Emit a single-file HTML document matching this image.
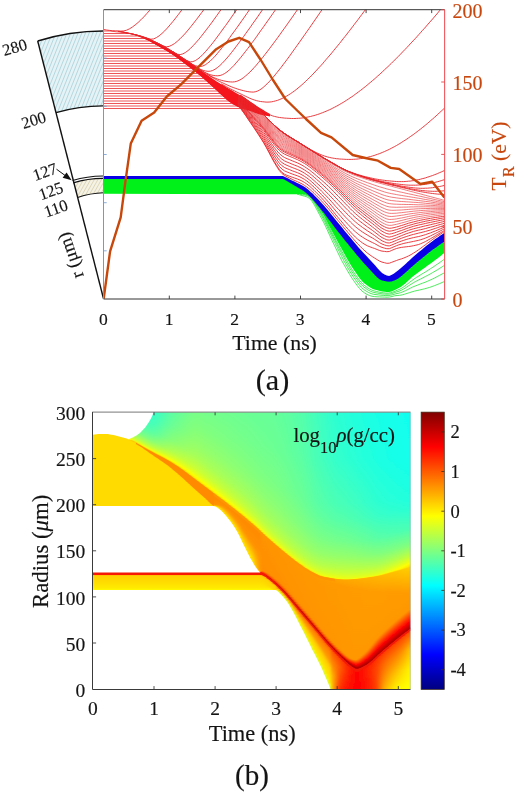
<!DOCTYPE html>
<html lang="en"><head><meta charset="utf-8"><title>Figure</title>
<style>
html,body{margin:0;padding:0;background:#fff}
body{width:520px;height:793px;overflow:hidden}
svg{display:block;font-family:"Liberation Serif","Times New Roman",serif}
text{stroke-width:0.16px}
</style></head><body>
<svg width="520" height="793" viewBox="0 0 520 793">
<rect width="520" height="793" fill="#fff"/>
<g id="panel-a">
<clipPath id="cw1"><path d="M37.7 41A218 218 0 0 1 103.6 31L103.6 105.9A166 166 0 0 0 56 112.7Z"/></clipPath>
<path d="M37.7 41A218 218 0 0 1 103.6 31L103.6 105.9A166 166 0 0 0 56 112.7Z" fill="#e6f3f6"/>
<path d="M-27 120L13 20M-23.3 120L16.7 20M-19.6 120L20.4 20M-15.9 120L24.1 20M-12.2 120L27.8 20M-8.5 120L31.5 20M-4.8 120L35.2 20M-1.1 120L38.9 20M2.6 120L42.6 20M6.3 120L46.3 20M10 120L50 20M13.7 120L53.7 20M17.4 120L57.4 20M21.1 120L61.1 20M24.8 120L64.8 20M28.5 120L68.5 20M32.2 120L72.2 20M35.9 120L75.9 20M39.6 120L79.6 20M43.3 120L83.3 20M47 120L87 20M50.7 120L90.7 20M54.4 120L94.4 20M58.1 120L98.1 20M61.8 120L101.8 20M65.5 120L105.5 20M69.2 120L109.2 20M72.9 120L112.9 20M76.6 120L116.6 20M80.3 120L120.3 20M84 120L124 20M87.7 120L127.7 20M91.4 120L131.4 20M95.1 120L135.1 20M98.8 120L138.8 20M102.5 120L142.5 20M106.2 120L146.2 20M109.9 120L149.9 20M113.6 120L153.6 20M117.3 120L157.3 20M121 120L161 20M124.7 120L164.7 20M128.4 120L168.4 20M132.1 120L172.1 20M135.8 120L175.8 20M139.5 120L179.5 20M143.2 120L183.2 20M146.9 120L186.9 20M150.6 120L190.6 20M154.3 120L194.3 20M158 120L198 20M161.7 120L201.7 20M165.4 120L205.4 20M169.1 120L209.1 20M172.8 120L212.8 20M176.5 120L216.5 20M180.2 120L220.2 20M183.9 120L223.9 20M187.6 120L227.6 20M191.3 120L231.3 20" stroke="#9ccbd4" stroke-width="0.7" fill="none" clip-path="url(#cw1)"/>
<path d="M37.7 41A218 218 0 0 1 103.6 31M56 112.7A166 166 0 0 1 103.6 105.9" fill="none" stroke="#111" stroke-width="1.4"/>
<clipPath id="cw2"><path d="M73.2 182.9A100 100 0 0 1 103.6 178.4L103.6 192.8A85 85 0 0 0 77.6 197.6Z"/></clipPath>
<path d="M73.2 182.9A100 100 0 0 1 103.6 178.4L103.6 192.8A85 85 0 0 0 77.6 197.6Z" fill="#f5f3e6"/>
<path d="M60 202L77 172M63.6 202L80.6 172M67.2 202L84.2 172M70.8 202L87.8 172M74.4 202L91.4 172M78 202L95 172M81.6 202L98.6 172M85.2 202L102.2 172M88.8 202L105.8 172M92.4 202L109.4 172M96 202L113 172M99.6 202L116.6 172M103.2 202L120.2 172M106.8 202L123.8 172M110.4 202L127.4 172M114 202L131 172" stroke="#d4c9a2" stroke-width="0.7" fill="none" clip-path="url(#cw2)"/>
<path d="M72.6 180.6A101 101 0 0 1 103.6 176" fill="none" stroke="#111" stroke-width="1.1"/>
<path d="M73.2 182.9A100 100 0 0 1 103.6 178.4" fill="none" stroke="#111" stroke-width="1.1"/>
<path d="M77.6 197.6A85 85 0 0 1 103.6 192.8" fill="none" stroke="#111" stroke-width="1.1"/>
<path d="M103.6 299L37.7 41" stroke="#111" stroke-width="1.4" fill="none"/>
<path d="M56.5 169.2L68 177.6" stroke="#111" stroke-width="1" fill="none"/>
<path d="M71.6 180.2L62.6 177.8L66.6 172.4Z" fill="#111"/>
<clipPath id="ca"><rect x="103.7" y="9.7" width="341.3" height="289.3"/></clipPath>
<g clip-path="url(#ca)">
<path d="M103.7 31H110L116.4 31.8 122.8 32.2 129.1 33.4 135.5 34.8 141.9 36.9 148.3 39.4 154.7 42.5 161 45.8 167.4 49.3 173.8 53.1 180.2 57.2 186.6 61.5 193 65.9 199.3 70.4 205.7 75 212.1 79.6 218.5 83.9 224.9 87.8 231.2 91.5 237.6 95.2 244 98.7M103.7 33.5H130.8L137.5 35.6 144.1 38 150.8 41 157.4 44.4 164.1 47.9 170.8 51.7 177.4 55.8 184.1 60.3 190.7 64.9 197.4 69.5 204.1 74.3 210.7 79.2 217.4 83.7 224 87.9 230.7 91.9 237.3 95.6 244 99.1M103.7 36H138.4L145 38.5 151.6 41.6 158.2 45 164.8 48.5 171.4 52.3 178 56.5 184.6 60.9 191.2 65.4 197.8 70.1 204.4 74.8 211 79.6 217.6 84.2 224.2 88.4 230.8 92.2 237.4 95.9 244 99.3M103.7 38.5H144.9L151.5 41.7 158.1 45.2 164.7 48.6 171.3 52.4 177.9 56.6 184.5 61.1 191.1 65.6 197.7 70.2 204.3 75 211 79.9 217.6 84.4 224.2 88.6 230.8 92.5 237.4 96.2 244 99.5M103.7 41H149.8L156.5 44.6 163.3 48.1 170 51.8 176.7 56 183.5 60.5 190.2 65.1 196.9 69.8 203.6 74.7 210.4 79.6 217.1 84.3 223.8 88.7 230.5 92.7 237.3 96.3 244 99.7M103.7 43.5H154.3L161.2 47.1 168.1 50.9 175 55 181.9 59.6 188.8 64.4 195.7 69.2 202.6 74.1 209.5 79.2 216.4 84.1 223.3 88.6 230.2 92.7 237.1 96.5 244 99.9M103.7 46H158.7L165.3 49.5 171.9 53.3 178.4 57.5 185 62 191.5 66.4 198.1 71.1 204.6 75.8 211.2 80.7 217.8 85.3 224.3 89.5 230.9 93.4 237.4 96.9 244 100.1M103.7 48.5H163L169.8 52.2 176.5 56.4 183.3 61 190 65.6 196.8 70.3 203.5 75.2 210.3 80.2 217 85 223.8 89.5 230.5 93.5 237.3 97 244 100.2M103.7 51H167.3L174.3 55.2 181.3 59.8 188.2 64.6 195.2 69.5 202.2 74.4 209.1 79.7 216.1 84.7 223.1 89.4 230.1 93.5 237 97.2 244 100.4M103.7 53.5H171.3L177.9 57.8 184.5 62.3 191.1 66.8 197.7 71.5 204.3 76.3 211 81.3 217.6 85.9 224.2 90.3 230.8 94.2 237.4 97.6 244 100.6M103.7 56H175.1L182 60.8 188.9 65.5 195.8 70.3 202.7 75.3 209.5 80.5 216.4 85.5 223.3 90.1 230.2 94.2 237.1 97.8 244 100.8M103.7 58.5H178.4L185.7 63.6 193 68.6 200.3 73.7 207.6 79.2 214.8 84.6 222.1 89.6 229.4 94.1 236.7 97.8 244 101M103.7 61H181.7L188.6 65.8 195.5 70.6 202.5 75.6 209.4 80.8 216.3 85.9 223.2 90.7 230.2 94.8 237.1 98.3 244 101.2M103.7 63.5H185L192.4 68.6 199.8 73.9 207.1 79.4 214.5 84.9 221.9 90.1 229.3 94.7 236.6 98.4 244 101.4M103.7 66H188.3L195.3 70.9 202.2 75.9 209.2 81.2 216.2 86.4 223.1 91.3 230.1 95.5 237 98.9 244 101.7M103.7 68.5H191.4L199 73.8 206.5 79.4 214 85.1 221.5 90.5 229 95.2 236.5 99 244 101.9M103.7 71H194.8L201.8 76.2 208.8 81.6 215.9 86.8 222.9 91.9 229.9 96.1 237 99.5 244 102.2M103.7 73.5H197.9L205.6 79.4 213.3 85.3 220.9 90.9 228.6 95.8 236.3 99.6 244 102.4M103.7 76H200.9L208.1 81.6 215.2 87.1 222.4 92.3 229.6 96.8 236.8 100.2 244 102.7M103.7 78.5H203.7L211.7 84.8 219.8 90.8 227.9 96.2 235.9 100.2 244 102.9M103.7 81H206.5L214 86.9 221.5 92.4 229 97.3 236.5 100.8 244 103.2M103.7 83.5H209.3L218 90.2 226.6 96.4 235.3 100.7 244 103.5M103.7 86H211.9L219.9 92.1 228 97.6 236 101.4 244 103.8M103.7 88.5H214.7L224.5 95.9 234.2 101.1 244 104.1M103.7 91H217.4L226.3 97.6 235.1 101.9 244 104.4M103.7 93.5H220L232 101.1 244 104.7M103.7 96H222.7L233.3 102.2 244 105.1M103.7 98.5H225.3L234.7 103.2 244 105.4M103.7 101H228.3L236.1 104.3 244 105.8M103.7 103.5H231.8L237.9 105.6 244 106.4M103.7 106H236.1L240 106.9 244 107.1M103.7 108.5H242" fill="none" stroke="#e8282c" stroke-width="0.8" stroke-linejoin="round"/>
<path d="M118 31.2 120.2 31.4 122.4 31.7 124.6 32.1 126.8 32.6 129 33 131.2 33.5 133.4 34 135.6 34.5 137.8 35.1 140 35.7 142.2 36.4 144.4 37.1 146.6 37.9 148.8 38.8 151 39.8 153.2 40.8 155.4 41.9 157.7 43 159.9 44.1 162.1 45.3 164.3 46.5 166.5 47.7 168.7 49 170.9 50.3 173.1 51.6 175.3 53 177.5 54.4 179.7 55.9 181.9 57.3 184.1 58.8 186.3 60.3 188.5 61.8 190.7 63.3 192.9 64.8 195.1 66.4 197.3 67.9 199.5 69.5 201.7 71 203.9 72.6 206.1 74.1 208.3 75.7 210.5 77.3 212.7 78.8 214.9 80.3 217.1 81.7 219.3 83 221.5 84.4 223.7 85.6 225.9 86.9 228.1 88.2 230.3 89.5 232.6 90.8 234.8 92.2 237 93.5 239.2 94.8 241.4 96.2 243.6 97.5 245.8 98.9 248 100.3 250.2 101.7 252.4 103.1 254.6 104.6 256.8 106 259 107.4 261.2 108.7 263.4 110.1 265.6 111.4 267.8 112.8 270 114.1 270 116.4 267.8 116.1 265.6 115.7 263.4 115.3 261.2 114.8 259 114.2 256.8 113.5 254.6 112.7 252.4 111.8 250.2 111.1 248 110.4 245.8 109.7 243.6 109 241.4 108.3 239.2 107.4 237 106.5 234.8 105.3 232.6 104 230.3 102.6 228.1 101 225.9 99.1 223.7 97.1 221.5 95 219.3 92.9 217.1 90.8 214.9 88.8 212.7 86.8 210.5 84.7 208.3 82.7 206.1 80.7 203.9 78.7 201.7 76.8 199.5 75 197.3 73.1 195.1 71.4 192.9 69.6 190.7 67.9 188.5 66.2 186.3 64.5 184.1 62.8 181.9 61.2 179.7 59.5 177.5 57.8 175.3 56.2 173.1 54.7 170.9 53.3 168.7 51.9 166.5 50.5 164.3 49.2 162.1 48 159.9 46.7 157.7 45.5 155.4 44.2 153.2 42.9 151 41.7 148.8 40.5 146.6 39.4 144.4 38.4 142.2 37.5 140 36.6 137.8 35.8 135.6 35.1 133.4 34.6 131.2 34.1 129 33.6 126.8 33.2 124.6 32.7 122.4 32.3 120.2 32.1 118 32Z" fill="#f5141c"/>
<path d="M103.7 29.5 106.6 30 109.4 30.4 112.3 30.7 115.2 30.8 118 30.9 120.9 31.1 123.8 30.9 126.6 30.2 129.5 28.8 132.3 27.1 135.2 24.9 138.1 22.5 140.9 19.8 143.8 16.9 146.7 13.7 149.5 10.5 150.2 9.7M118 31.4 120.7 31.7 123.5 32.2 126.2 32.7 129 33.3 131.7 33.9 134.5 34.5 137.2 35.2 140 36 142.7 36.8 145.4 37.6 148.2 38.5 150.9 39.2 153.7 38.9 156.4 37.6 159.2 35.8 161.9 33.5 164.7 30.9 167.4 28 170.1 24.8 172.9 21.5 175.6 18.1 178.4 14.5 181.1 10.9 182 9.7M120 31.6 122.7 32 125.5 32.6 128.2 33.2 130.9 33.7 133.6 34.3 136.4 35 139.1 35.7 141.8 36.5 144.5 37.4 147.3 38.5 150 39.6 152.7 40.9 155.5 42.2 158.2 43.5 160.9 44.9 163.6 46.1 166.4 46.8 169.1 46.4 171.8 45.2 174.6 43.5 177.3 41.3 180 38.8 182.7 36.1 185.5 33.1 188.2 29.9 190.9 26.6 193.6 23.2 196.4 19.6 199.1 16 201.8 12.4 203.8 9.7M133 34.2 135.6 34.8 138.2 35.5 140.9 36.2 143.5 37.1 146.1 38 148.7 39.1 151.3 40.2 153.9 41.5 156.6 42.7 159.2 44 161.8 45.4 164.4 46.9 167 48.4 169.7 49.9 172.3 51.5 174.9 53 177.5 54.3 180.1 54.6 182.8 53.9 185.4 52.5 188 50.6 190.6 48.3 193.2 45.6 195.8 42.8 198.5 39.7 201.1 36.5 203.7 33.2 206.3 29.8 208.9 26.4 211.6 22.8 214.2 19.2 216.8 15.6 219.4 11.9 221 9.7M145 37.6 147.5 38.6 150 39.6 152.6 40.8 155.1 42 157.6 43.2 160.1 44.5 162.6 45.9 165.1 47.3 167.7 48.7 170.2 50.2 172.7 51.7 175.2 53.3 177.7 54.9 180.2 56.5 182.8 58.2 185.3 59.7 187.8 61 190.3 61.8 192.8 61.6 195.4 60.6 197.9 58.9 200.4 56.9 202.9 54.4 205.4 51.7 207.9 48.8 210.5 45.7 213 42.6 215.5 39.3 218 35.9 220.5 32.5 223 29 225.6 25.5 228.1 22 230.6 18.4 233.1 14.8 235.6 11.2 236.7 9.7M154 41.5 156.4 42.7 158.9 43.9 161.3 45.2 163.8 46.5 166.2 47.9 168.7 49.3 171.1 50.8 173.5 52.2 176 53.8 178.4 55.3 180.9 56.9 183.3 58.5 185.7 60.1 188.2 61.7 190.6 63.3 193.1 64.7 195.5 65.7 198 66.4 200.4 66.5 202.8 66 205.3 64.8 207.7 63.1 210.2 61.1 212.6 58.7 215.1 56.1 217.5 53.3 219.9 50.3 222.4 47.3 224.8 44.1 227.3 40.9 229.7 37.6 232.1 34.2 234.6 30.9 237 27.5 239.5 24 241.9 20.6 244.4 17.1 246.8 13.6 249.2 10.1 249.5 9.7M163 46.1 165.4 47.4 167.7 48.8 170.1 50.2 172.5 51.6 174.8 53 177.2 54.5 179.6 56.1 181.9 57.6 184.3 59.2 186.7 60.8 189 62.3 191.4 63.9 193.8 65.5 196.1 67 198.5 68.3 200.9 69.5 203.2 70.4 205.6 71 208 71.3 210.3 71.2 212.7 70.5 215.1 69.2 217.4 67.6 219.8 65.6 222.2 63.3 224.5 60.8 226.9 58.1 229.3 55.3 231.6 52.4 234 49.3 236.4 46.2 238.7 43.1 241.1 39.9 243.5 36.7 245.8 33.4 248.2 30.1 250.6 26.8 252.9 23.4 255.3 20.1 257.7 16.7 260 13.3 262.4 9.9 262.5 9.7M172 51.3 174.3 52.7 176.6 54.1 178.9 55.6 181.2 57.1 183.5 58.6 185.7 60.1 188 61.7 190.3 63.2 192.6 64.8 194.9 66.3 197.2 67.8 199.5 69.3 201.8 70.7 204.1 72 206.4 73.1 208.7 74.1 210.9 74.9 213.2 75.4 215.5 75.7 217.8 75.8 220.1 75.5 222.4 74.7 224.7 73.5 227 71.9 229.3 70 231.6 67.8 233.9 65.5 236.1 62.9 238.4 60.3 240.7 57.5 243 54.6 245.3 51.7 247.6 48.7 249.9 45.7 252.2 42.6 254.5 39.5 256.8 36.3 259 33.1 261.3 29.9 263.6 26.7 265.9 23.4 268.2 20.2 270.5 16.9 272.8 13.6 275.1 10.3 275.5 9.7M187 60.9 189.2 62.3 191.3 63.8 193.5 65.3 195.7 66.7 197.8 68.2 200 69.6 202.2 70.9 204.3 72.3 206.5 73.6 208.6 74.9 210.8 76.1 213 77.2 215.1 78.1 217.3 79 219.5 79.7 221.6 80.4 223.8 80.9 226 81.3 228.1 81.7 230.3 81.9 232.5 82 234.6 81.8 236.8 81.3 239 80.4 241.1 79.3 243.3 77.8 245.4 76.1 247.6 74.2 249.8 72.2 251.9 70 254.1 67.6 256.3 65.2 258.4 62.6 260.6 60 262.8 57.3 264.9 54.6 267.1 51.8 269.3 48.9 271.4 46.1 273.6 43.2 275.8 40.2 277.9 37.3 280.1 34.3 282.2 31.3 284.4 28.3 286.6 25.2 288.7 22.2 290.9 19.1 293.1 16 295.2 12.9 297.4 9.8 297.5 9.7M207.3 74.4 209.3 75.6 211.3 76.9 213.3 78.1 215.3 79.2 217.3 80.3 219.3 81.3 221.3 82.3 223.3 83.2 225.2 84.1 227.2 85 229.2 85.9 231.2 86.7 233.2 87.5 235.2 88.2 237.2 88.9 239.2 89.5 241.2 90.1 243.2 90.6 245.2 91.1 247.2 91.5 249.2 91.8 251.2 92 253.2 92.1 255.2 91.8 257.2 91.2 259.1 90.3 261.1 89 263.1 87.5 265.1 85.7 267.1 83.8 269.1 81.8 271.1 79.6 273.1 77.3 275.1 74.9 277.1 72.4 279.1 69.9 281.1 67.4 283.1 64.7 285.1 62.1 287.1 59.4 289.1 56.7 291.1 53.9 293 51.2 295 48.4 297 45.6 299 42.8 301 40 303 37.1 305 34.3 307 31.4 309 28.6 311 25.7 313 22.8 315 19.9 317 17 319 14.1 321 11.2 322 9.7M221 83.8 222.9 84.8 224.8 85.8 226.6 86.8 228.5 87.8 230.4 88.8 232.3 89.8 234.2 90.7 236 91.7 237.9 92.6 239.8 93.5 241.7 94.4 243.5 95.3 245.4 96.2 247.3 97.1 249.2 98 251.1 98.8 252.9 99.5 254.8 100.1 256.7 100.7 258.6 101.1 260.5 101.5 262.3 101.7 264.2 101.9 266.1 102.1 268 102.1 269.9 102 271.7 101.8 273.6 101.4 275.5 100.9 277.4 100.4 279.2 99.7 281.1 98.9 283 98 284.9 97.1 286.8 96 288.6 94.9 290.5 93.7 292.4 92.4 294.3 91 296.2 89.6 298 88.1 299.9 86.5 301.8 84.9 303.7 83.2 305.6 81.4 307.4 79.6 309.3 77.8 311.2 75.9 313.1 74 314.9 72 316.8 70 318.7 67.9 320.6 65.9 322.5 63.8 324.3 61.6 326.2 59.4 328.1 57.2 330 55 331.9 52.8 333.7 50.5 335.6 48.2 337.5 45.9 339.4 43.6 341.3 41.2 343.1 38.8 345 36.5 346.9 34.1 348.8 31.6 350.7 29.2 352.5 26.8 354.4 24.3 356.3 21.8 358.2 19.4 360 16.9 361.9 14.4 363.8 11.8 365.4 9.7M240 95.1 241.7 96.1 243.4 97.2 245.2 98.4 246.9 99.6 248.6 100.8 250.3 102.1 252 103.3 253.8 104.6 255.5 105.9 257.2 107.1 258.9 108.3 260.6 109.5 262.4 110.6 264.1 111.7 265.8 112.7 267.5 113.6 269.2 114.5 270.9 115.2 272.7 115.9 274.4 116.4 276.1 116.8 277.8 117.2 279.5 117.5 281.3 117.7 283 117.9 284.7 118.1 286.4 118.2 288.1 118.3 289.9 118.4 291.6 118.5 293.3 118.5 295 118.5 296.7 118.4 298.5 118.3 300.2 118.2 301.9 118 303.6 117.8 305.3 117.5 307.1 117.2 308.8 116.8 310.5 116.5 312.2 116 313.9 115.6 315.7 115.1 317.4 114.5 319.1 114 320.8 113.3 322.5 112.7 324.2 112 326 111.3 327.7 110.5 329.4 109.8 331.1 109 332.8 108.1 334.6 107.2 336.3 106.3 338 105.4 339.7 104.4 341.4 103.4 343.2 102.4 344.9 101.3 346.6 100.2 348.3 99.1 350 97.9 351.8 96.8 353.5 95.6 355.2 94.3 356.9 93.1 358.6 91.8 360.4 90.5 362.1 89.2 363.8 87.8 365.5 86.5 367.2 85.1 368.9 83.6 370.7 82.2 372.4 80.7 374.1 79.3 375.8 77.8 377.5 76.2 379.3 74.7 381 73.1 382.7 71.5 384.4 69.9 386.1 68.3 387.9 66.7 389.6 65 391.3 63.4 393 61.7 394.7 60 396.5 58.2 398.2 56.5 399.9 54.8 401.6 53 403.3 51.2 405.1 49.4 406.8 47.6 408.5 45.8 410.2 43.9 411.9 42.1 413.7 40.2 415.4 38.4 417.1 36.5 418.8 34.6 420.5 32.7 422.2 30.7 424 28.8 425.7 26.9 427.4 24.9 429.1 22.9 430.8 21 432.6 19 434.3 17 436 15 437.7 13 439.4 10.9 440.5 9.7M240 95.5 241.7 96.5 243.4 97.7 245.2 98.9 246.9 100.2 248.6 101.5 250.3 102.9 252 104.3 253.8 105.8 255.5 107.3 257.2 108.8 258.9 110.3 260.6 111.9 262.4 113.5 264.1 115.1 265.8 116.8 267.5 118.6 269.2 120.3 270.9 122 272.7 123.7 274.4 125.4 276.1 127 277.8 128.5 279.5 129.9 281.3 131.2 283 132.5 284.7 133.7 286.4 134.8 288.1 136 289.9 137 291.6 138.1 293.3 139.1 295 140.2 296.7 141.2 298.5 142.2 300.2 143.3 301.9 144.4 303.6 145.4 305.3 146.5 307.1 147.5 308.8 148.5 310.5 149.5 312.2 150.4 313.9 151.4 315.7 152.3 317.4 153.1 319.1 153.9 320.8 154.6 322.5 155.3 324.2 155.9 326 156.5 327.7 157 329.4 157.4 331.1 157.8 332.8 158.1 334.6 158.4 336.3 158.7 338 158.8 339.7 159 341.4 159.1 343.2 159.2 344.9 159.3 346.6 159.4 348.3 159.4 350 159.4 351.8 159.4 353.5 159.3 355.2 159.2 356.9 159.1 358.6 158.9 360.4 158.6 362.1 158.4 363.8 158.1 365.5 157.7 367.2 157.4 368.9 156.9 370.7 156.5 372.4 156 374.1 155.5 375.8 154.9 377.5 154.3 379.3 153.7 381 153 382.7 152.3 384.4 151.6 386.1 150.8 387.9 150 389.6 149.2 391.3 148.3 393 147.4 394.7 146.5 396.5 145.5 398.2 144.5 399.9 143.5 401.6 142.4 403.3 141.3 405.1 140.2 406.8 139.1 408.5 137.9 410.2 136.7 411.9 135.5 413.7 134.3 415.4 133 417.1 131.7 418.8 130.4 420.5 129.1 422.2 127.7 424 126.3 425.7 124.9 427.4 123.5 429.1 122 430.8 120.5 432.6 119 434.3 117.5 436 116 437.7 114.4 439.4 112.8 441.2 111.2 442.9 109.6 444.6 108M240 95.5 241.7 96.5 243.4 97.7 245.2 98.9 246.9 100.2 248.6 101.5 250.3 102.9 252 104.3 253.8 105.8 255.5 107.3 257.2 108.8 258.9 110.3 260.6 111.9 262.4 113.5 264.1 115.1 265.8 116.8 267.5 118.6 269.2 120.3 270.9 122 272.7 123.7 274.4 125.4 276.1 127 277.8 128.5 279.5 129.9 281.3 131.3 283 132.5 284.7 133.7 286.4 134.9 288.1 136 289.9 137.1 291.6 138.1 293.3 139.2 295 140.2 296.7 141.3 298.5 142.3 300.2 143.4 301.9 144.5 303.6 145.6 305.3 146.7 307.1 147.8 308.8 148.8 310.5 149.9 312.2 151 313.9 152.1 315.7 153.1 317.4 154.2 319.1 155.2 320.8 156.2 322.5 157.3 324.2 158.3 326 159.3 327.7 160.2 329.4 161.2 331.1 162.2 332.8 163.2 334.6 164.2 336.3 165.2 338 166.2 339.7 167.1 341.4 168 343.2 168.9 344.9 169.7 346.6 170.5 348.3 171.2 350 171.9 351.8 172.5 353.5 173.1 355.2 173.7 356.9 174.3 358.6 174.8 360.4 175.3 362.1 175.8 363.8 176.3 365.5 176.7 367.2 177.1 368.9 177.5 370.7 177.9 372.4 178.3 374.1 178.7 375.8 179 377.5 179.3 379.3 179.6 381 179.9 382.7 180.1 384.4 180.3 386.1 180.6 387.9 180.8 389.6 180.9 391.3 181.1 393 181.2 394.7 181.4 396.5 181.5 398.2 181.6 399.9 181.6 401.6 181.6 403.3 181.6 405.1 181.5 406.8 181.4 408.5 181.2 410.2 181.1 411.9 180.8 413.7 180.6 415.4 180.3 417.1 179.9 418.8 179.6 420.5 179.2 422.2 178.7 424 178.3 425.7 177.8 427.4 177.2 429.1 176.7 430.8 176.1 432.6 175.5 434.3 174.8 436 174.2 437.7 173.5 439.4 172.7 441.2 172 442.9 171.2 444.6 170.4M240 95.5 241.7 96.5 243.4 97.7 245.2 98.9 246.9 100.2 248.6 101.5 250.3 102.9 252 104.3 253.8 105.8 255.5 107.3 257.2 108.8 258.9 110.3 260.6 111.9 262.4 113.5 264.1 115.1 265.8 116.8 267.5 118.6 269.2 120.3 270.9 122 272.7 123.7 274.4 125.4 276.1 127 277.8 128.5 279.5 129.9 281.3 131.3 283 132.5 284.7 133.7 286.4 134.9 288.1 136 289.9 137.1 291.6 138.1 293.3 139.2 295 140.2 296.7 141.3 298.5 142.3 300.2 143.4 301.9 144.5 303.6 145.6 305.3 146.7 307.1 147.8 308.8 148.8 310.5 149.9 312.2 151 313.9 152.1 315.7 153.1 317.4 154.2 319.1 155.2 320.8 156.2 322.5 157.3 324.2 158.3 326 159.3 327.7 160.3 329.4 161.3 331.1 162.3 332.8 163.3 334.6 164.3 336.3 165.3 338 166.2 339.7 167.2 341.4 168.1 343.2 169 344.9 169.8 346.6 170.6 348.3 171.4 350 172.1 351.8 172.7 353.5 173.4 355.2 174 356.9 174.6 358.6 175.2 360.4 175.8 362.1 176.3 363.8 176.8 365.5 177.3 367.2 177.8 368.9 178.3 370.7 178.7 372.4 179.2 374.1 179.6 375.8 180 377.5 180.4 379.3 180.8 381 181.2 382.7 181.5 384.4 181.9 386.1 182.2 387.9 182.5 389.6 182.8 391.3 183.1 393 183.4 394.7 183.6 396.5 183.9 398.2 184.1 399.9 184.3 401.6 184.5 403.3 184.7 405.1 184.9 406.8 185 408.5 185.1 410.2 185.2 411.9 185.2 413.7 185.2 415.4 185.2 417.1 185.1 418.8 185 420.5 184.9 422.2 184.7 424 184.5 425.7 184.3 427.4 184 429.1 183.7 430.8 183.3 432.6 183 434.3 182.6 436 182.1 437.7 181.7 439.4 181.2 441.2 180.7 442.9 180.1 444.6 179.6M240 95.5 241.7 96.5 243.4 97.7 245.2 98.9 246.9 100.2 248.6 101.5 250.3 102.9 252 104.3 253.8 105.8 255.5 107.3 257.2 108.8 258.9 110.3 260.6 111.9 262.4 113.5 264.1 115.1 265.8 116.8 267.5 118.6 269.2 120.3 270.9 122 272.7 123.7 274.4 125.4 276.1 127 277.8 128.5 279.5 129.9 281.3 131.3 283 132.5 284.7 133.7 286.4 134.9 288.1 136 289.9 137.1 291.6 138.1 293.3 139.2 295 140.2 296.7 141.3 298.5 142.3 300.2 143.4 301.9 144.5 303.6 145.6 305.3 146.7 307.1 147.8 308.8 148.8 310.5 149.9 312.2 151 313.9 152.1 315.7 153.1 317.4 154.2 319.1 155.2 320.8 156.2 322.5 157.3 324.2 158.3 326 159.3 327.7 160.3 329.4 161.3 331.1 162.3 332.8 163.3 334.6 164.3 336.3 165.3 338 166.2 339.7 167.2 341.4 168.1 343.2 169 344.9 169.9 346.6 170.7 348.3 171.4 350 172.2 351.8 172.8 353.5 173.5 355.2 174.1 356.9 174.8 358.6 175.3 360.4 175.9 362.1 176.5 363.8 177 365.5 177.6 367.2 178.1 368.9 178.6 370.7 179.1 372.4 179.6 374.1 180 375.8 180.5 377.5 180.9 379.3 181.4 381 181.8 382.7 182.2 384.4 182.6 386.1 183 387.9 183.3 389.6 183.7 391.3 184.1 393 184.4 394.7 184.8 396.5 185.1 398.2 185.4 399.9 185.8 401.6 186.1 403.3 186.4 405.1 186.7 406.8 186.9 408.5 187.2 410.2 187.4 411.9 187.6 413.7 187.8 415.4 188 417.1 188.1 418.8 188.2 420.5 188.3 422.2 188.3 424 188.3 425.7 188.2 427.4 188.2 429.1 188 430.8 187.9 432.6 187.7 434.3 187.4 436 187.2 437.7 186.9 439.4 186.5 441.2 186.2 442.9 185.8 444.6 185.3M240 95.5 241.7 96.5 243.4 97.7 245.2 98.9 246.9 100.2 248.6 101.5 250.3 102.9 252 104.3 253.8 105.8 255.5 107.3 257.2 108.8 258.9 110.3 260.6 111.9 262.4 113.5 264.1 115.1 265.8 116.8 267.5 118.6 269.2 120.3 270.9 122 272.7 123.7 274.4 125.4 276.1 127 277.8 128.5 279.5 129.9 281.3 131.3 283 132.5 284.7 133.7 286.4 134.9 288.1 136 289.9 137.1 291.6 138.1 293.3 139.2 295 140.2 296.7 141.3 298.5 142.3 300.2 143.4 301.9 144.5 303.6 145.6 305.3 146.7 307.1 147.8 308.8 148.8 310.5 149.9 312.2 151 313.9 152.1 315.7 153.1 317.4 154.2 319.1 155.2 320.8 156.2 322.5 157.3 324.2 158.3 326 159.3 327.7 160.3 329.4 161.3 331.1 162.3 332.8 163.3 334.6 164.3 336.3 165.3 338 166.3 339.7 167.2 341.4 168.1 343.2 169 344.9 169.9 346.6 170.7 348.3 171.5 350 172.2 351.8 172.9 353.5 173.6 355.2 174.2 356.9 174.8 358.6 175.4 360.4 176 362.1 176.6 363.8 177.2 365.5 177.7 367.2 178.2 368.9 178.7 370.7 179.3 372.4 179.8 374.1 180.3 375.8 180.7 377.5 181.2 379.3 181.7 381 182.1 382.7 182.5 384.4 182.9 386.1 183.4 387.9 183.8 389.6 184.2 391.3 184.6 393 185 394.7 185.3 396.5 185.7 398.2 186.1 399.9 186.5 401.6 186.9 403.3 187.3 405.1 187.6 406.8 188 408.5 188.3 410.2 188.7 411.9 189 413.7 189.3 415.4 189.6 417.1 189.8 418.8 190.1 420.5 190.3 422.2 190.6 424 190.7 425.7 190.9 427.4 191 429.1 191.1 430.8 191.2 432.6 191.3 434.3 191.3 436 191.3 437.7 191.2 439.4 191.1 441.2 191 442.9 190.9 444.6 190.7M240 95.5 241.7 96.5 243.4 97.7 245.2 98.9 246.9 100.2 248.6 101.5 250.3 102.9 252 104.3 253.8 105.8 255.5 107.3 257.2 108.8 258.9 110.3 260.6 111.9 262.4 113.5 264.1 115.1 265.8 116.8 267.5 118.6 269.2 120.3 270.9 122 272.7 123.7 274.4 125.4 276.1 127 277.8 128.5 279.5 129.9 281.3 131.3 283 132.5 284.7 133.7 286.4 134.9 288.1 136 289.9 137.1 291.6 138.1 293.3 139.2 295 140.2 296.7 141.3 298.5 142.3 300.2 143.4 301.9 144.5 303.6 145.6 305.3 146.7 307.1 147.8 308.8 148.8 310.5 149.9 312.2 151 313.9 152.1 315.7 153.1 317.4 154.2 319.1 155.2 320.8 156.2 322.5 157.3 324.2 158.3 326 159.3 327.7 160.3 329.4 161.3 331.1 162.3 332.8 163.3 334.6 164.3 336.3 165.3 338 166.3 339.7 167.2 341.4 168.2 343.2 169 344.9 169.9 346.6 170.7 348.3 171.5 350 172.2 351.8 172.9 353.5 173.6 355.2 174.3 356.9 174.9 358.6 175.5 360.4 176.1 362.1 176.7 363.8 177.2 365.5 177.8 367.2 178.3 368.9 178.8 370.7 179.4 372.4 179.9 374.1 180.4 375.8 180.9 377.5 181.3 379.3 181.8 381 182.3 382.7 182.7 384.4 183.1 386.1 183.6 387.9 184 389.6 184.4 391.3 184.8 393 185.3 394.7 185.7 396.5 186.1 398.2 186.5 399.9 187 401.6 187.4 403.3 187.8 405.1 188.2 406.8 188.6 408.5 189 410.2 189.4 411.9 189.8 413.7 190.2 415.4 190.6 417.1 190.9 418.8 191.3 420.5 191.6 422.2 191.9 424 192.2 425.7 192.5 427.4 192.8 429.1 193 430.8 193.3 432.6 193.5 434.3 193.7 436 193.9 437.7 194.1 439.4 194.2 441.2 194.4 442.9 194.5 444.6 194.6" fill="none" stroke="#e8282c" stroke-width="0.9" stroke-linejoin="round"/>
<path d="M238 104.9 240.6 108.5 243.2 112.1 245.8 115.8 248.3 119.6 250.9 123.3 253.5 127.2 256.1 131 258.7 135 261.2 138.9 263.8 143.1 266.4 147.7 269 152.6 271.6 157.6 274.2 162.3 276.8 166.7 279.3 170.5 281.9 173.5 284.5 175.4 287.1 176.9 289.7 178.1 292.2 179.4 294.8 180.6 297.4 181.7 300 182.9 302 183.9 304.4 185.3 306.8 187 309.3 188.9 311.7 191 314.1 193.3 316.5 195.8 319 198.3 321.4 200.8 323.8 203.4 326.2 206.1 328.7 209 331.1 211.9 333.5 214.9 335.9 218 338.4 220.9 340.8 223.8 343.2 226.8 345.6 229.7 348.1 232.7 350.5 235.6 352.9 238.4 355.3 241.2 357.7 243.8 360.2 246.4 362.6 248.8 365 251 367.4 253.1 369.9 254.9 372.3 256.6 374.7 258.1 377.1 259.6 379.6 261.1 382 262.1 384.4 262.7 386.8 263.3 389.3 263.2 391.7 262.3 394.1 261.4 396.5 260.5 398.9 259.6 401.4 258.9 403.8 258 406.2 257 408.6 255.9 411.1 254.6 413.5 253.1 415.9 251.6 418.3 250 420.8 248.2 423.2 246.4 425.6 244.6 428 242.8 430.5 241 432.9 239.2 435.3 237.5 437.7 235.9 440.2 234.3 442.6 232.7 444.6 231.4M238 104.4 240.6 108 243.2 111.6 245.8 115.3 248.3 119 250.9 122.8 253.5 126.6 256.1 130.5 258.7 134.3 261.2 138.3 263.8 142.4 266.4 146.9 269 151.8 271.6 156.7 274.2 161.4 276.8 165.7 279.3 169.4 281.9 172.3 284.5 174.2 287.1 175.4 289.7 176.3 292.2 177.2 294.8 178.1 297.4 179 300 180.1 302 181 304.4 182.4 306.8 184 309.3 185.9 311.7 188.1 314.1 190.4 316.5 192.8 319 195.3 321.4 197.8 323.8 200.4 326.2 203.1 328.7 206 331.1 209 333.5 211.9 335.9 214.9 338.4 217.9 340.8 220.7 343.2 223.6 345.6 226.5 348.1 229.3 350.5 232 352.9 234.5 355.3 237 357.7 239.2 360.2 241.2 362.6 243 365 244.5 367.4 245.8 369.9 246.8 372.3 247.7 374.7 248.5 377.1 249.5 379.6 250.5 382 251.1 384.4 251.4 386.8 251.7 389.3 251.5 391.7 250.4 394.1 249.4 396.5 248.5 398.9 247.9 401.4 247.4 403.8 247.1 406.2 246.8 408.6 246.5 411.1 246.2 413.5 245.7 415.9 245.2 418.3 244.6 420.8 243.7 423.2 242.6 425.6 241.5 428 240.1 430.5 238.7 432.9 237.3 435.3 235.8 437.7 234.4 440.2 232.9 442.6 231.5 444.6 230.3M238 104 240.6 107.4 243.2 110.9 245.8 114.4 248.3 118 250.9 121.6 253.5 125.3 256.1 129 258.7 132.7 261.2 136.5 263.8 140.4 266.4 144.8 269 149.4 271.6 154.1 274.2 158.6 276.8 162.7 279.3 166.3 281.9 169 284.5 170.9 287.1 172 289.7 173 292.2 174 294.8 174.9 297.4 175.8 300 176.9 302 178 304.4 179.3 306.8 181 309.3 182.9 311.7 185 314.1 187.2 316.5 189.6 319 192 321.4 194.5 323.8 197 326.2 199.6 328.7 202.4 331.1 205.2 333.5 208.1 335.9 211 338.4 213.8 340.8 216.5 343.2 219.3 345.6 221.9 348.1 224.6 350.5 227.1 352.9 229.5 355.3 231.7 357.7 233.7 360.2 235.6 362.6 237.2 365 238.7 367.4 240.1 369.9 241.3 372.3 242.5 374.7 243.6 377.1 245 379.6 246.4 382 247.4 384.4 248.1 386.8 248.7 389.3 248.7 391.7 247.7 394.1 246.7 396.5 245.7 398.9 244.8 401.4 244.1 403.8 243.4 406.2 242.9 408.6 242.4 411.1 241.9 413.5 241.4 415.9 240.9 418.3 240.4 420.8 239.7 423.2 238.9 425.6 238 428 237 430.5 235.9 432.9 234.7 435.3 233.5 437.7 232.3 440.2 231 442.6 229.7 444.6 228.7M238 103.5 240.6 106.8 243.2 110.2 245.8 113.6 248.3 117 250.9 120.4 253.5 123.9 256.1 127.4 258.7 131 261.2 134.6 263.8 138.4 266.4 142.6 269 147.1 271.6 151.5 274.2 155.8 276.8 159.7 279.3 163.1 281.9 165.7 284.5 167.5 287.1 168.7 289.7 169.7 292.2 170.8 294.8 171.7 297.4 172.7 300 173.8 302 174.9 304.4 176.3 306.8 177.9 309.3 179.8 311.7 181.8 314.1 184 316.5 186.3 319 188.6 321.4 191 323.8 193.4 326.2 195.9 328.7 198.5 331.1 201.2 333.5 203.9 335.9 206.7 338.4 209.3 340.8 212 343.2 214.6 345.6 217.2 348.1 219.7 350.5 222.1 352.9 224.4 355.3 226.6 357.7 228.6 360.2 230.4 362.6 232.1 365 233.6 367.4 235.1 369.9 236.6 372.3 237.9 374.7 239.4 377.1 241 379.6 242.7 382 244 384.4 244.9 386.8 245.7 389.3 245.9 391.7 245 394.1 244 396.5 243 398.9 242 401.4 241.1 403.8 240.3 406.2 239.5 408.6 238.8 411.1 238.2 413.5 237.6 415.9 237.1 418.3 236.6 420.8 236 423.2 235.3 425.6 234.6 428 233.7 430.5 232.9 432.9 231.9 435.3 231 437.7 230 440.2 228.9 442.6 227.9 444.6 227M238 103.1 240.6 106.3 243.2 109.4 245.8 112.7 248.3 115.9 250.9 119.2 253.5 122.6 256.1 125.9 258.7 129.4 261.2 132.8 263.8 136.5 266.4 140.5 269 144.7 271.6 148.9 274.2 153 276.8 156.7 279.3 160 281.9 162.5 284.5 164.2 287.1 165.4 289.7 166.5 292.2 167.5 294.8 168.5 297.4 169.5 300 170.7 302 171.7 304.4 173.1 306.8 174.7 309.3 176.5 311.7 178.5 314.1 180.6 316.5 182.8 319 185.1 321.4 187.3 323.8 189.6 326.2 192 328.7 194.5 331.1 197 333.5 199.6 335.9 202.2 338.4 204.8 340.8 207.4 343.2 209.9 345.6 212.5 348.1 214.9 350.5 217.3 352.9 219.6 355.3 221.8 357.7 223.8 360.2 225.7 362.6 227.5 365 229.1 367.4 230.8 369.9 232.4 372.3 234 374.7 235.6 377.1 237.4 379.6 239.2 382 240.8 384.4 241.8 386.8 242.8 389.3 243 391.7 242.3 394.1 241.3 396.5 240.3 398.9 239.3 401.4 238.3 403.8 237.4 406.2 236.6 408.6 235.8 411.1 235 413.5 234.4 415.9 233.8 418.3 233.2 420.8 232.6 423.2 232 425.6 231.4 428 230.7 430.5 230 432.9 229.2 435.3 228.4 437.7 227.6 440.2 226.7 442.6 225.9 444.6 225.1M238 102.6 240.6 105.7 243.2 108.7 245.8 111.8 248.3 114.9 250.9 118 253.5 121.2 256.1 124.4 258.7 127.7 261.2 131 263.8 134.5 266.4 138.3 269 142.3 271.6 146.3 274.2 150.2 276.8 153.7 279.3 156.8 281.9 159.2 284.5 160.9 287.1 162.1 289.7 163.1 292.2 164.2 294.8 165.2 297.4 166.2 300 167.4 302 168.5 304.4 169.9 306.8 171.5 309.3 173.2 311.7 175.1 314.1 177.2 316.5 179.3 319 181.4 321.4 183.6 323.8 185.8 326.2 188.1 328.7 190.5 331.1 192.9 333.5 195.4 335.9 197.9 338.4 200.5 340.8 203 343.2 205.5 345.6 208 348.1 210.5 350.5 212.9 352.9 215.3 355.3 217.5 357.7 219.5 360.2 221.5 362.6 223.3 365 225.1 367.4 226.9 369.9 228.6 372.3 230.3 374.7 232.1 377.1 234 379.6 235.9 382 237.6 384.4 238.7 386.8 239.8 389.3 240.1 391.7 239.5 394.1 238.6 396.5 237.7 398.9 236.7 401.4 235.7 403.8 234.7 406.2 233.8 408.6 233 411.1 232.2 413.5 231.4 415.9 230.8 418.3 230.2 420.8 229.7 423.2 229.1 425.6 228.5 428 227.8 430.5 227.2 432.9 226.6 435.3 225.9 437.7 225.2 440.2 224.5 442.6 223.8 444.6 223.2M238 102.2 240.6 105.1 243.2 108 245.8 110.9 248.3 113.9 250.9 116.8 253.5 119.9 256.1 122.9 258.7 126 261.2 129.2 263.8 132.5 266.4 136.1 269 139.9 271.6 143.7 274.2 147.4 276.8 150.7 279.3 153.6 281.9 155.8 284.5 157.5 287.1 158.7 289.7 159.7 292.2 160.8 294.8 161.8 297.4 162.9 300 164.1 302 165.2 304.4 166.6 306.8 168.2 309.3 169.9 311.7 171.8 314.1 173.7 316.5 175.8 319 177.9 321.4 180 323.8 182.1 326.2 184.3 328.7 186.6 331.1 188.9 333.5 191.4 335.9 193.9 338.4 196.4 340.8 198.9 343.2 201.4 345.6 203.9 348.1 206.5 350.5 208.9 352.9 211.3 355.3 213.5 357.7 215.6 360.2 217.6 362.6 219.5 365 221.4 367.4 223.2 369.9 225 372.3 226.9 374.7 228.7 377.1 230.7 379.6 232.7 382 234.4 384.4 235.6 386.8 236.7 389.3 237.1 391.7 236.6 394.1 235.8 396.5 235 398.9 234 401.4 233.1 403.8 232.1 406.2 231.2 408.6 230.3 411.1 229.5 413.5 228.8 415.9 228.2 418.3 227.6 420.8 227 423.2 226.4 425.6 225.8 428 225.3 430.5 224.7 432.9 224.1 435.3 223.6 437.7 223 440.2 222.4 442.6 221.8 444.6 221.3M238 101.7 240.6 104.5 243.2 107.3 245.8 110 248.3 112.8 250.9 115.7 253.5 118.5 256.1 121.4 258.7 124.4 261.2 127.4 263.8 130.5 266.4 134 269 137.6 271.6 141.1 274.2 144.5 276.8 147.7 279.3 150.3 281.9 152.5 284.5 154.1 287.1 155.3 289.7 156.4 292.2 157.4 294.8 158.5 297.4 159.6 300 160.9 302 162 304.4 163.4 306.8 164.9 309.3 166.7 311.7 168.5 314.1 170.4 316.5 172.4 319 174.4 321.4 176.5 323.8 178.6 326.2 180.7 328.7 182.9 331.1 185.2 333.5 187.6 335.9 190.1 338.4 192.6 340.8 195.1 343.2 197.6 345.6 200.2 348.1 202.7 350.5 205.2 352.9 207.5 355.3 209.8 357.7 212 360.2 214 362.6 216 365 217.9 367.4 219.8 369.9 221.7 372.3 223.5 374.7 225.4 377.1 227.5 379.6 229.5 382 231.2 384.4 232.5 386.8 233.6 389.3 234.1 391.7 233.7 394.1 233 396.5 232.2 398.9 231.3 401.4 230.5 403.8 229.6 406.2 228.7 408.6 227.9 411.1 227.1 413.5 226.3 415.9 225.7 418.3 225.1 420.8 224.5 423.2 224 425.6 223.4 428 222.9 430.5 222.4 432.9 221.9 435.3 221.4 437.7 220.9 440.2 220.4 442.6 219.9 444.6 219.5M238 101.3 240.6 104 243.2 106.6 245.8 109.3 248.3 112 250.9 114.8 253.5 117.5 256.1 120.4 258.7 123.2 261.2 126.2 263.8 129.2 266.4 132.6 269 136.1 271.6 139.5 274.2 142.8 276.8 145.9 279.3 148.5 281.9 150.6 284.5 152.1 287.1 153.4 289.7 154.5 292.2 155.6 294.8 156.7 297.4 157.9 300 159.1 302 160.2 304.4 161.7 306.8 163.2 309.3 164.9 311.7 166.7 314.1 168.6 316.5 170.6 319 172.6 321.4 174.6 323.8 176.6 326.2 178.7 328.7 180.9 331.1 183.1 333.5 185.4 335.9 187.8 338.4 190.3 340.8 192.7 343.2 195.2 345.6 197.7 348.1 200.1 350.5 202.5 352.9 204.9 355.3 207.1 357.7 209.3 360.2 211.3 362.6 213.2 365 215.1 367.4 217 369.9 218.9 372.3 220.7 374.7 222.6 377.1 224.6 379.6 226.6 382 228.3 384.4 229.6 386.8 230.7 389.3 231.2 391.7 230.9 394.1 230.3 396.5 229.6 398.9 228.8 401.4 228 403.8 227.2 406.2 226.3 408.6 225.5 411.1 224.8 413.5 224.1 415.9 223.4 418.3 222.9 420.8 222.3 423.2 221.8 425.6 221.2 428 220.8 430.5 220.3 432.9 219.8 435.3 219.4 437.7 219 440.2 218.5 442.6 218.1 444.6 217.8M238 100.8 240.6 103.4 243.2 106 245.8 108.6 248.3 111.3 250.9 114 253.5 116.7 256.1 119.5 258.7 122.3 261.2 125.2 263.8 128.2 266.4 131.5 269 135 271.6 138.4 274.2 141.6 276.8 144.6 279.3 147.2 281.9 149.3 284.5 150.9 287.1 152.1 289.7 153.3 292.2 154.4 294.8 155.5 297.4 156.7 300 158 302 159.1 304.4 160.6 306.8 162.1 309.3 163.8 311.7 165.6 314.1 167.5 316.5 169.4 319 171.3 321.4 173.3 323.8 175.3 326.2 177.3 328.7 179.5 331.1 181.6 333.5 183.9 335.9 186.2 338.4 188.6 340.8 190.9 343.2 193.3 345.6 195.7 348.1 198.1 350.5 200.4 352.9 202.7 355.3 204.8 357.7 206.9 360.2 208.9 362.6 210.7 365 212.6 367.4 214.4 369.9 216.3 372.3 218.1 374.7 219.9 377.1 221.9 379.6 223.8 382 225.5 384.4 226.7 386.8 227.8 389.3 228.3 391.7 228.1 394.1 227.6 396.5 227 398.9 226.3 401.4 225.5 403.8 224.8 406.2 224 408.6 223.2 411.1 222.5 413.5 221.9 415.9 221.3 418.3 220.7 420.8 220.2 423.2 219.7 425.6 219.2 428 218.8 430.5 218.3 432.9 217.9 435.3 217.5 437.7 217.2 440.2 216.8 442.6 216.5 444.6 216.2" fill="none" stroke="#e8282c" stroke-width="0.9" stroke-linejoin="round"/>
<path d="M238 100.4 240.6 102.9 243.2 105.4 245.8 108 248.3 110.6 250.9 113.2 253.5 115.9 256.1 118.7 258.7 121.4 261.2 124.3 263.8 127.3 266.4 130.5 269 133.9 271.6 137.2 274.2 140.4 276.8 143.4 279.3 145.9 281.9 148 284.5 149.6 287.1 150.9 289.7 152.1 292.2 153.2 294.8 154.4 297.4 155.6 300 156.9 302 158.1 304.4 159.5 306.8 161.1 309.3 162.7 311.7 164.5 314.1 166.3 316.5 168.2 319 170.1 321.4 172.1 323.8 174 326.2 176 328.7 178.1 331.1 180.2 333.5 182.4 335.9 184.6 338.4 186.9 340.8 189.2 343.2 191.5 345.6 193.8 348.1 196.1 350.5 198.3 352.9 200.5 355.3 202.6 357.7 204.6 360.2 206.5 362.6 208.3 365 210.1 367.4 211.9 369.9 213.7 372.3 215.5 374.7 217.2 377.1 219.1 379.6 221 382 222.6 384.4 223.8 386.8 224.9 389.3 225.4 391.7 225.3 394.1 224.8 396.5 224.3 398.9 223.7 401.4 223 403.8 222.4 406.2 221.7 408.6 221 411.1 220.3 413.5 219.7 415.9 219.2 418.3 218.7 420.8 218.2 423.2 217.8 425.6 217.3 428 216.9 430.5 216.5 432.9 216.2 435.3 215.8 437.7 215.5 440.2 215.2 442.6 214.9 444.6 214.7M238 99.9 240.6 102.4 243.2 104.8 245.8 107.3 248.3 109.8 250.9 112.4 253.5 115.1 256.1 117.8 258.7 120.5 261.2 123.3 263.8 126.3 266.4 129.5 269 132.8 271.6 136.1 274.2 139.2 276.8 142.1 279.3 144.6 281.9 146.7 284.5 148.3 287.1 149.6 289.7 150.9 292.2 152.1 294.8 153.3 297.4 154.5 300 155.9 302 157 304.4 158.5 306.8 160 309.3 161.7 311.7 163.4 314.1 165.2 316.5 167.1 319 169 321.4 170.8 323.8 172.7 326.2 174.7 328.7 176.7 331.1 178.8 333.5 180.9 335.9 183.1 338.4 185.3 340.8 187.5 343.2 189.8 345.6 192 348.1 194.2 350.5 196.3 352.9 198.4 355.3 200.4 357.7 202.3 360.2 204.2 362.6 205.9 365 207.7 367.4 209.4 369.9 211.1 372.3 212.8 374.7 214.5 377.1 216.4 379.6 218.1 382 219.7 384.4 220.9 386.8 222 389.3 222.5 391.7 222.4 394.1 222.1 396.5 221.6 398.9 221.1 401.4 220.5 403.8 219.9 406.2 219.3 408.6 218.7 411.1 218.2 413.5 217.6 415.9 217.1 418.3 216.7 420.8 216.3 423.2 215.9 425.6 215.5 428 215.1 430.5 214.8 432.9 214.5 435.3 214.2 437.7 213.9 440.2 213.7 442.6 213.5 444.6 213.3M238 99.5 240.6 101.8 243.2 104.2 245.8 106.6 248.3 109.1 250.9 111.7 253.5 114.3 256.1 116.9 258.7 119.6 261.2 122.4 263.8 125.3 266.4 128.4 269 131.7 271.6 134.9 274.2 138 276.8 140.9 279.3 143.4 281.9 145.4 284.5 147.1 287.1 148.4 289.7 149.7 292.2 150.9 294.8 152.2 297.4 153.4 300 154.8 302 156 304.4 157.4 306.8 159 309.3 160.6 311.7 162.3 314.1 164.1 316.5 165.9 319 167.8 321.4 169.6 323.8 171.5 326.2 173.4 328.7 175.4 331.1 177.4 333.5 179.5 335.9 181.6 338.4 183.7 340.8 185.9 343.2 188 345.6 190.2 348.1 192.3 350.5 194.3 352.9 196.3 355.3 198.2 357.7 200.1 360.2 201.8 362.6 203.5 365 205.2 367.4 206.9 369.9 208.5 372.3 210.2 374.7 211.8 377.1 213.6 379.6 215.3 382 216.7 384.4 217.9 386.8 218.9 389.3 219.5 391.7 219.4 394.1 219.2 396.5 218.9 398.9 218.4 401.4 218 403.8 217.5 406.2 217 408.6 216.4 411.1 216 413.5 215.5 415.9 215.1 418.3 214.7 420.8 214.4 423.2 214 425.6 213.7 428 213.4 430.5 213.1 432.9 212.9 435.3 212.7 437.7 212.5 440.2 212.3 442.6 212.1 444.6 212M238 99 240.6 101.3 243.2 103.6 245.8 106 248.3 108.4 250.9 110.9 253.5 113.5 256.1 116.1 258.7 118.7 261.2 121.4 263.8 124.3 266.4 127.4 269 130.6 271.6 133.8 274.2 136.8 276.8 139.6 279.3 142.1 281.9 144.1 284.5 145.8 287.1 147.2 289.7 148.5 292.2 149.8 294.8 151.1 297.4 152.4 300 153.8 302 154.9 304.4 156.4 306.8 157.9 309.3 159.6 311.7 161.3 314.1 163 316.5 164.8 319 166.6 321.4 168.5 323.8 170.3 326.2 172.1 328.7 174 331.1 176 333.5 178 335.9 180.1 338.4 182.2 340.8 184.2 343.2 186.3 345.6 188.4 348.1 190.4 350.5 192.3 352.9 194.2 355.3 196.1 357.7 197.8 360.2 199.5 362.6 201.1 365 202.8 367.4 204.4 369.9 205.9 372.3 207.5 374.7 209.1 377.1 210.7 379.6 212.3 382 213.8 384.4 214.9 386.8 215.9 389.3 216.4 391.7 216.5 394.1 216.3 396.5 216 398.9 215.7 401.4 215.3 403.8 215 406.2 214.5 408.6 214.1 411.1 213.7 413.5 213.4 415.9 213.1 418.3 212.8 420.8 212.5 423.2 212.2 425.6 212 428 211.8 430.5 211.6 432.9 211.4 435.3 211.2 437.7 211.1 440.2 211 442.6 210.9 444.6 210.8M238 98.6 240.6 100.7 243.2 103 245.8 105.3 248.3 107.7 250.9 110.1 253.5 112.7 256.1 115.2 258.7 117.8 261.2 120.5 263.8 123.3 266.4 126.4 269 129.5 271.6 132.6 274.2 135.6 276.8 138.4 279.3 140.8 281.9 142.9 284.5 144.6 287.1 146 289.7 147.3 292.2 148.7 294.8 150 297.4 151.3 300 152.7 302 153.9 304.4 155.4 306.8 156.9 309.3 158.5 311.7 160.2 314.1 162 316.5 163.7 319 165.5 321.4 167.3 323.8 169.1 326.2 170.9 328.7 172.7 331.1 174.6 333.5 176.6 335.9 178.6 338.4 180.6 340.8 182.6 343.2 184.6 345.6 186.6 348.1 188.5 350.5 190.3 352.9 192.2 355.3 193.9 357.7 195.6 360.2 197.2 362.6 198.8 365 200.3 367.4 201.8 369.9 203.3 372.3 204.8 374.7 206.3 377.1 207.9 379.6 209.4 382 210.7 384.4 211.8 386.8 212.7 389.3 213.3 391.7 213.4 394.1 213.3 396.5 213.2 398.9 212.9 401.4 212.7 403.8 212.4 406.2 212.1 408.6 211.8 411.1 211.5 413.5 211.2 415.9 211 418.3 210.8 420.8 210.6 423.2 210.4 425.6 210.3 428 210.1 430.5 210 432.9 209.9 435.3 209.8 437.7 209.7 440.2 209.7 442.6 209.6 444.6 209.6M238 98.1 240.6 100.2 243.2 102.4 245.8 104.6 248.3 106.9 250.9 109.4 253.5 111.8 256.1 114.4 258.7 116.9 261.2 119.6 263.8 122.3 266.4 125.3 269 128.4 271.6 131.5 274.2 134.4 276.8 137.2 279.3 139.6 281.9 141.6 284.5 143.3 287.1 144.8 289.7 146.2 292.2 147.5 294.8 148.9 297.4 150.2 300 151.7 302 152.9 304.4 154.4 306.8 155.9 309.3 157.5 311.7 159.2 314.1 160.9 316.5 162.6 319 164.4 321.4 166.1 323.8 167.9 326.2 169.6 328.7 171.4 331.1 173.3 333.5 175.2 335.9 177.1 338.4 179 340.8 181 343.2 182.9 345.6 184.8 348.1 186.6 350.5 188.4 352.9 190.1 355.3 191.7 357.7 193.3 360.2 194.9 362.6 196.3 365 197.8 367.4 199.2 369.9 200.6 372.3 202.1 374.7 203.5 377.1 204.9 379.6 206.3 382 207.6 384.4 208.6 386.8 209.6 389.3 210.1 391.7 210.3 394.1 210.3 396.5 210.2 398.9 210.1 401.4 210 403.8 209.8 406.2 209.6 408.6 209.4 411.1 209.2 413.5 209.1 415.9 208.9 418.3 208.8 420.8 208.7 423.2 208.6 425.6 208.5 428 208.5 430.5 208.4 432.9 208.4 435.3 208.4 437.7 208.4 440.2 208.4 442.6 208.5 444.6 208.5M238 97.7 240.6 99.7 243.2 101.8 245.8 103.9 248.3 106.2 250.9 108.6 253.5 111 256.1 113.5 258.7 116.1 261.2 118.6 263.8 121.4 266.4 124.3 269 127.3 271.6 130.4 274.2 133.3 276.8 136 279.3 138.4 281.9 140.4 284.5 142.1 287.1 143.6 289.7 145 292.2 146.4 294.8 147.8 297.4 149.2 300 150.7 302 151.9 304.4 153.4 306.8 154.9 309.3 156.5 311.7 158.2 314.1 159.8 316.5 161.5 319 163.3 321.4 165 323.8 166.7 326.2 168.4 328.7 170.1 331.1 171.9 333.5 173.8 335.9 175.6 338.4 177.5 340.8 179.3 343.2 181.2 345.6 182.9 348.1 184.7 350.5 186.4 352.9 188 355.3 189.6 357.7 191.1 360.2 192.5 362.6 193.9 365 195.3 367.4 196.6 369.9 197.9 372.3 199.3 374.7 200.6 377.1 201.9 379.6 203.3 382 204.4 384.4 205.4 386.8 206.3 389.3 206.9 391.7 207.1 394.1 207.2 396.5 207.3 398.9 207.2 401.4 207.2 403.8 207.1 406.2 207.1 408.6 207 411.1 206.9 413.5 206.9 415.9 206.8 418.3 206.8 420.8 206.8 423.2 206.8 425.6 206.8 428 206.8 430.5 206.9 432.9 206.9 435.3 207 437.7 207.1 440.2 207.2 442.6 207.3 444.6 207.4M238 97.2 240.6 99.1 243.2 101.2 245.8 103.3 248.3 105.5 250.9 107.8 253.5 110.2 256.1 112.7 258.7 115.2 261.2 117.7 263.8 120.4 266.4 123.3 269 126.3 271.6 129.2 274.2 132.1 276.8 134.8 279.3 137.1 281.9 139.1 284.5 140.9 287.1 142.4 289.7 143.9 292.2 145.3 294.8 146.7 297.4 148.2 300 149.7 302 150.9 304.4 152.4 306.8 153.9 309.3 155.5 311.7 157.1 314.1 158.8 316.5 160.5 319 162.1 321.4 163.8 323.8 165.5 326.2 167.1 328.7 168.8 331.1 170.6 333.5 172.3 335.9 174.1 338.4 175.9 340.8 177.7 343.2 179.4 345.6 181.1 348.1 182.8 350.5 184.3 352.9 185.9 355.3 187.3 357.7 188.8 360.2 190.1 362.6 191.4 365 192.7 367.4 193.9 369.9 195.2 372.3 196.4 374.7 197.7 377.1 198.9 379.6 200.1 382 201.2 384.4 202.1 386.8 203 389.3 203.6 391.7 203.9 394.1 204.1 396.5 204.2 398.9 204.3 401.4 204.4 403.8 204.4 406.2 204.5 408.6 204.5 411.1 204.5 413.5 204.6 415.9 204.7 418.3 204.8 420.8 204.8 423.2 204.9 425.6 205.1 428 205.2 430.5 205.3 432.9 205.4 435.3 205.6 437.7 205.8 440.2 206 442.6 206.1 444.6 206.3M238 96.8 240.6 98.6 243.2 100.6 245.8 102.6 248.3 104.8 250.9 107.1 253.5 109.4 256.1 111.8 258.7 114.3 261.2 116.8 263.8 119.5 266.4 122.3 269 125.2 271.6 128.1 274.2 130.9 276.8 133.6 279.3 135.9 281.9 137.9 284.5 139.7 287.1 141.3 289.7 142.8 292.2 144.2 294.8 145.7 297.4 147.1 300 148.6 302 149.9 304.4 151.4 306.8 152.9 309.3 154.5 311.7 156.1 314.1 157.7 316.5 159.4 319 161 321.4 162.6 323.8 164.3 326.2 165.9 328.7 167.5 331.1 169.2 333.5 170.9 335.9 172.6 338.4 174.3 340.8 176 343.2 177.7 345.6 179.3 348.1 180.8 350.5 182.3 352.9 183.7 355.3 185.1 357.7 186.4 360.2 187.7 362.6 188.9 365 190.1 367.4 191.2 369.9 192.4 372.3 193.5 374.7 194.7 377.1 195.8 379.6 196.9 382 197.9 384.4 198.8 386.8 199.6 389.3 200.2 391.7 200.6 394.1 200.8 396.5 201.1 398.9 201.3 401.4 201.5 403.8 201.6 406.2 201.8 408.6 201.9 411.1 202.1 413.5 202.3 415.9 202.4 418.3 202.6 420.8 202.8 423.2 203 425.6 203.3 428 203.5 430.5 203.7 432.9 203.9 435.3 204.2 437.7 204.4 440.2 204.7 442.6 205 444.6 205.2M238 96.3 240.6 98.1 243.2 100 245.8 102 248.3 104.1 250.9 106.3 253.5 108.6 256.1 111 258.7 113.4 261.2 115.9 263.8 118.5 266.4 121.3 269 124.2 271.6 127 274.2 129.8 276.8 132.4 279.3 134.7 281.9 136.7 284.5 138.5 287.1 140.1 289.7 141.6 292.2 143.1 294.8 144.6 297.4 146.1 300 147.6 302 148.9 304.4 150.4 306.8 151.9 309.3 153.5 311.7 155.1 314.1 156.7 316.5 158.3 319 159.9 321.4 161.5 323.8 163 326.2 164.6 328.7 166.2 331.1 167.8 333.5 169.5 335.9 171.1 338.4 172.7 340.8 174.3 343.2 175.9 345.6 177.4 348.1 178.9 350.5 180.2 352.9 181.5 355.3 182.8 357.7 184 360.2 185.2 362.6 186.3 365 187.4 367.4 188.5 369.9 189.5 372.3 190.6 374.7 191.6 377.1 192.6 379.6 193.6 382 194.6 384.4 195.4 386.8 196.1 389.3 196.7 391.7 197.2 394.1 197.5 396.5 197.9 398.9 198.2 401.4 198.5 403.8 198.8 406.2 199 408.6 199.3 411.1 199.6 413.5 199.9 415.9 200.2 418.3 200.5 420.8 200.8 423.2 201.1 425.6 201.4 428 201.7 430.5 202 432.9 202.4 435.3 202.7 437.7 203.1 440.2 203.4 442.6 203.8 444.6 204.1M238 95.9 240.6 97.6 243.2 99.4 245.8 101.3 248.3 103.4 250.9 105.6 253.5 107.9 256.1 110.2 258.7 112.6 261.2 115 263.8 117.6 266.4 120.3 269 123.1 271.6 125.9 274.2 128.6 276.8 131.2 279.3 133.4 281.9 135.4 284.5 137.2 287.1 138.9 289.7 140.5 292.2 142 294.8 143.5 297.4 145 300 146.6 302 147.8 304.4 149.4 306.8 150.9 309.3 152.5 311.7 154 314.1 155.6 316.5 157.2 319 158.7 321.4 160.3 323.8 161.8 326.2 163.3 328.7 164.9 331.1 166.4 333.5 168 335.9 169.5 338.4 171.1 340.8 172.6 343.2 174.1 345.6 175.5 348.1 176.8 350.5 178.1 352.9 179.3 355.3 180.5 357.7 181.6 360.2 182.6 362.6 183.6 365 184.6 367.4 185.6 369.9 186.6 372.3 187.5 374.7 188.4 377.1 189.4 379.6 190.3 382 191.1 384.4 191.9 386.8 192.6 389.3 193.2 391.7 193.7 394.1 194.1 396.5 194.6 398.9 195 401.4 195.4 403.8 195.8 406.2 196.2 408.6 196.6 411.1 197 413.5 197.4 415.9 197.8 418.3 198.2 420.8 198.6 423.2 199.1 425.6 199.5 428 199.9 430.5 200.3 432.9 200.8 435.3 201.2 437.7 201.7 440.2 202.1 442.6 202.6 444.6 202.9M238 95.4 240.6 97.1 243.2 98.8 245.8 100.7 248.3 102.7 250.9 104.8 253.5 107.1 256.1 109.4 258.7 111.7 261.2 114.1 263.8 116.6 266.4 119.3 269 122.1 271.6 124.8 274.2 127.5 276.8 130 279.3 132.2 281.9 134.2 284.5 136 287.1 137.7 289.7 139.3 292.2 140.9 294.8 142.4 297.4 144 300 145.6 302 146.8 304.4 148.3 306.8 149.9 309.3 151.4 311.7 153 314.1 154.5 316.5 156 319 157.6 321.4 159.1 323.8 160.5 326.2 162 328.7 163.5 331.1 165 333.5 166.5 335.9 168 338.4 169.4 340.8 170.8 343.2 172.2 345.6 173.5 348.1 174.8 350.5 175.9 352.9 177 355.3 178 357.7 179 360.2 180 362.6 180.9 365 181.8 367.4 182.7 369.9 183.5 372.3 184.4 374.7 185.2 377.1 186 379.6 186.8 382 187.5 384.4 188.2 386.8 188.9 389.3 189.5 391.7 190.1 394.1 190.6 396.5 191.1 398.9 191.7 401.4 192.2 403.8 192.7 406.2 193.3 408.6 193.8 411.1 194.3 413.5 194.8 415.9 195.4 418.3 195.9 420.8 196.4 423.2 196.9 425.6 197.5 428 198 430.5 198.5 432.9 199.1 435.3 199.6 437.7 200.2 440.2 200.7 442.6 201.3 444.6 201.7M238 95 240.6 96.5 243.2 98.2 245.8 100 248.3 102 250.9 104.1 253.5 106.3 256.1 108.5 258.7 110.8 261.2 113.1 263.8 115.6 266.4 118.3 269 121 271.6 123.7 274.2 126.3 276.8 128.7 279.3 131 281.9 133 284.5 134.8 287.1 136.5 289.7 138.2 292.2 139.8 294.8 141.3 297.4 142.9 300 144.5 302 145.8 304.4 147.3 306.8 148.8 309.3 150.4 311.7 151.9 314.1 153.4 316.5 154.9 319 156.3 321.4 157.8 323.8 159.2 326.2 160.6 328.7 162 331.1 163.5 333.5 164.9 335.9 166.3 338.4 167.7 340.8 169 343.2 170.3 345.6 171.5 348.1 172.6 350.5 173.6 352.9 174.6 355.3 175.5 357.7 176.4 360.2 177.2 362.6 178 365 178.8 367.4 179.6 369.9 180.3 372.3 181.1 374.7 181.8 377.1 182.5 379.6 183.2 382 183.8 384.4 184.5 386.8 185.1 389.3 185.7 391.7 186.3 394.1 187 396.5 187.6 398.9 188.2 401.4 188.9 403.8 189.5 406.2 190.2 408.6 190.8 411.1 191.5 413.5 192.1 415.9 192.8 418.3 193.4 420.8 194 423.2 194.7 425.6 195.3 428 196 430.5 196.6 432.9 197.3 435.3 197.9 437.7 198.6 440.2 199.2 442.6 199.9 444.6 200.4" fill="none" stroke="#e8282c" stroke-width="0.62" stroke-linejoin="round"/>
<path d="M103.7 178.5 283 178.5 285 179.4 287.3 180.8 289.6 182.2 291.9 183.6 294.3 185 296.6 186.3 298.9 187.7 301.2 189.1 303.5 190.6 305.8 192.3 308.1 194.3 310.4 196.6 312.8 199.1 315.1 201.7 317.4 204.5 319.7 207.3 322 210.2 324.3 213.1 326.6 216.2 328.9 219.2 331.3 222.3 333.6 225.4 335.9 228.4 338.2 231.4 340.5 234.3 342.8 237.3 345.1 240.2 347.5 243.1 349.8 246 352.1 248.8 354.4 251.6 356.7 254.4 359 257.1 361.3 259.7 363.6 262.4 366 265 368.3 267.5 370.6 270 372.9 272.5 375.2 275.1 377.5 277.3 379.8 279 382.1 280 384.5 280.5 386.8 281 389.1 281.3 391.4 280.9 393.7 280.2 396 279.3 398.3 278 400.7 276.3 403 274.3 405.3 272.3 407.6 270.2 409.9 268.1 412.2 266 414.5 264 416.8 262.1 419.2 260.1 421.5 258.2 423.8 256.3 426.1 254.4 428.4 252.6 430.7 250.8 433 249.1 435.3 247.4 437.7 245.7 440 244.1 442.3 242.6 444.6 241.1 444.6 252.8 442.3 254.6 440 256.4 437.7 258.2 435.3 260 433 261.7 430.7 263.5 428.4 265.1 426.1 266.8 423.8 268.4 421.5 270.1 419.2 271.7 416.8 273.4 414.5 275.2 412.2 277.1 409.9 279.2 407.6 281.3 405.3 283.4 403 285.3 400.7 287 398.3 288.3 396 289.4 393.7 290.5 391.4 291.4 389.1 291.9 386.8 292 384.5 291.8 382.1 291.4 379.8 290.9 377.5 290.3 375.2 289.7 372.9 288.9 370.6 287.7 368.3 286.3 366 284.6 363.6 282.7 361.3 280.3 359 277.4 356.7 274.1 354.4 270.7 352.1 267.2 349.8 263.4 347.5 259.4 345.1 255.2 342.8 251.1 340.5 246.9 338.2 242.7 335.9 238.5 333.6 234.2 331.3 229.9 328.9 225.5 326.6 220.9 324.3 216.6 322 212.8 319.7 209.2 317.4 206 315.1 203.2 312.8 200.6 310.4 198.1 308.1 195.8 305.8 194.3 303.5 194.3 301.2 194.3 298.9 194.3 296.6 194.3 294.3 194.3 291.9 194.3 289.6 194.3 287.3 194.3 285 194.3 283 194.2 103.7 193.8Z" fill="#00f01a"/>
<path d="M306 194.3 308.3 194.7 310.7 196.4 313 199.2 315.4 202.7 317.7 206.6 320.1 210.6 322.4 214.4 324.8 218.5 327.1 223.1 329.5 227.8 331.8 232.4 334.2 236.9 336.5 241.4 338.9 245.8 341.2 250.2 343.6 254.5 345.9 258.8 348.3 263.1 350.6 267.3 353 271 355.3 274.5 357.7 277.8 360 281 362.4 283.6 364.7 285.7 367.1 287.4 369.4 288.9 371.8 290.1 374.1 290.9 376.5 291.5 378.8 292 381.2 292.5 383.5 292.8 385.9 293.1 388.2 293.1 390.6 292.7 392.9 292 395.3 291.1 397.6 290.1 400 289.1 402.3 287.8 404.7 286.2 407 284.4 409.4 282.5 411.7 280.7 414.1 279 416.4 277.4 418.8 276 421.1 274.5 423.5 273.1 425.8 271.7 428.2 270.2 430.5 268.7 432.9 267.2 435.2 265.6 437.6 264 439.9 262.4 442.3 260.7 444.6 259M303 194.2 305.4 194.5 307.8 194.9 310.2 196.5 312.6 199.3 315 202.9 317.4 207 319.8 211.2 322.2 215.2 324.6 219.5 327 224.3 329.4 229.3 331.8 234.1 334.2 238.8 336.6 243.5 339 248.2 341.4 252.8 343.8 257.3 346.2 261.9 348.6 266.3 351 270.3 353.4 274 355.8 277.5 358.2 280.8 360.6 283.9 363 286.3 365.4 288.2 367.8 289.8 370.2 291.1 372.6 292.1 375 292.7 377.4 293.1 379.8 293.5 382.2 293.9 384.6 294.1 387 294.2 389.4 294.1 391.8 293.6 394.2 292.7 396.6 291.9 399 291.2 401.4 290.2 403.8 288.9 406.2 287.4 408.6 285.8 411 284.3 413.4 282.7 415.8 281.4 418.2 280.2 420.6 279 423 277.8 425.4 276.5 427.8 275.3 430.2 274 432.6 272.6 435 271.2 437.4 269.8 439.8 268.3 442.2 266.8 444.6 265.2M300 194.2 302.5 194.7 304.9 195.1 307.4 195.6 309.8 197.1 312.3 200 314.7 203.7 317.2 208 319.6 212.5 322.1 216.8 324.5 221.3 327 226.4 329.4 231.6 331.9 236.7 334.3 241.7 336.8 246.6 339.2 251.5 341.7 256.4 344.1 261.1 346.6 265.7 349 269.9 351.5 274 353.9 277.6 356.4 281.1 358.8 284.4 361.3 287.2 363.7 289.5 366.2 291.1 368.6 292.5 371.1 293.6 373.5 294.3 376 294.6 378.4 294.9 380.9 295.2 383.3 295.4 385.8 295.6 388.2 295.6 390.7 295.2 393.1 294.6 395.6 293.8 398 293.3 400.5 292.7 402.9 291.8 405.4 290.7 407.8 289.5 410.3 288.2 412.7 287 415.2 286 417.6 285.1 420.1 284.1 422.5 283.2 425 282.3 427.4 281.3 429.9 280.2 432.3 279.1 434.8 277.9 437.2 276.6 439.7 275.3 442.1 274 444.6 272.7M297 194.1 299.5 194.8 302 195.5 304.5 196.2 307 196.9 309.5 198.4 312 201.3 314.5 205.3 317 209.9 319.5 214.6 322 219.2 324.5 224 327 229.4 329.5 234.9 332 240.3 334.5 245.5 337 250.8 339.5 256 342 261.1 344.5 265.5 347 269.9 349.5 274.2 352 278.2 354.5 281.8 357 285.3 359.5 288.4 362 291 364.5 292.9 367 294.4 369.5 295.5 372.1 296.3 374.6 296.6 377.1 296.8 379.6 296.9 382.1 297 384.6 297.1 387.1 297.2 389.6 297 392.1 296.5 394.6 295.8 397.1 295.5 399.6 295.3 402.1 294.9 404.6 294.2 407.1 293.4 409.6 292.6 412.1 291.8 414.6 291.1 417.1 290.5 419.6 290 422.1 289.4 424.6 288.8 427.1 288.1 429.6 287.4 432.1 286.5 434.6 285.6 437.1 284.6 439.6 283.6 442.1 282.5 444.6 281.4" fill="none" stroke="#1fe533" stroke-width="0.8"/>
<path d="M103.7 176 283 176 285 176.9 287.3 178.1 289.6 179.3 291.9 180.5 294.3 181.6 296.6 182.7 298.9 183.8 301.2 185 303.5 186.3 305.8 187.8 308.1 189.6 310.4 191.7 312.8 193.8 315.1 196.2 317.4 198.6 319.7 201 322 203.5 324.3 206.1 326.6 208.7 328.9 211.5 331.3 214.4 333.6 217.3 335.9 220.2 338.2 223 340.5 225.8 342.8 228.6 345.1 231.4 347.5 234.3 349.8 237.1 352.1 239.8 354.4 242.6 356.7 245.2 359 247.9 361.3 250.5 363.6 253 366 255.6 368.3 258.1 370.6 260.6 372.9 263 375.2 265.6 377.5 268.3 379.8 270.8 382.1 272.9 384.5 274.4 386.8 275.6 389.1 276 391.4 275.1 393.7 273.7 396 272.1 398.3 270.2 400.7 268.3 403 266.3 405.3 264.2 407.6 262 409.9 259.9 412.2 257.8 414.5 255.7 416.8 253.8 419.2 251.8 421.5 249.9 423.8 248 426.1 246.1 428.4 244.3 430.7 242.5 433 240.8 435.3 239.1 437.7 237.4 440 235.8 442.3 234.3 444.6 232.8 444.6 241.6 442.3 243.1 440 244.6 437.7 246.2 435.3 247.9 433 249.6 430.7 251.3 428.4 253.1 426.1 254.9 423.8 256.8 421.5 258.7 419.2 260.6 416.8 262.6 414.5 264.5 412.2 266.5 409.9 268.6 407.6 270.7 405.3 272.8 403 274.8 400.7 276.8 398.3 278.5 396 279.8 393.7 280.7 391.4 281.4 389.1 281.8 386.8 281.5 384.5 281 382.1 280.5 379.8 279.5 377.5 277.8 375.2 275.6 372.9 273 370.6 270.5 368.3 268 366 265.5 363.6 262.9 361.3 260.2 359 257.6 356.7 254.9 354.4 252.1 352.1 249.3 349.8 246.5 347.5 243.6 345.1 240.7 342.8 237.8 340.5 234.8 338.2 231.9 335.9 228.9 333.6 225.9 331.3 222.8 328.9 219.7 326.6 216.7 324.3 213.6 322 210.7 319.7 207.8 317.4 205 315.1 202.2 312.8 199.6 310.4 197.1 308.1 194.8 305.8 192.8 303.5 191.1 301.2 189.6 298.9 188.2 296.6 186.8 294.3 185.5 291.9 184.1 289.6 182.7 287.3 181.3 285 179.9 283 179 103.7 179Z" fill="#0a00e6"/>
<path d="M103.7 298.5 110.1 251.3 120.7 217.3 125.2 183.2 130.8 143.4 141.6 120.7 154.2 112.6 166.8 96.5 180.8 84.6 199.2 66.2 216.2 49.2 228.5 41.5 239.2 37.8 249 42.2 260.8 60 273 80 285.4 99 297.7 111 306 119 321 132.8 331.5 137.4 352.7 155 365.4 158 378 160.7 390.7 167.9 399.2 169 420.4 184 432.2 181.8 444.4 197.5" fill="none" stroke="#c8480c" stroke-width="2.4" stroke-linejoin="round"/>
</g>
<path d="M103.5 9.7V299" stroke="#6f9bd1" stroke-width="1" fill="none"/>
<path d="M103.7 250.8h3M103.7 202.7h3M103.7 154.5h3M103.7 106.3h3M103.7 58.2h3" stroke="#6f9bd1" stroke-width="0.8" fill="none"/>
<path d="M103.7 9.7H444.6" stroke="#333" stroke-width="1" fill="none"/>
<path d="M103.7 299H444.6" stroke="#333" stroke-width="1" fill="none"/>
<path d="M169.3 299v-3.4M169.3 9.7v3.4M234.9 299v-3.4M234.9 9.7v3.4M300.5 299v-3.4M300.5 9.7v3.4M366.1 299v-3.4M366.1 9.7v3.4M431.7 299v-3.4M431.7 9.7v3.4" stroke="#333" stroke-width="0.9" fill="none"/>
<path d="M444.6 9.7V299" stroke="#f0585c" stroke-width="1.1" fill="none"/>
<path d="M444.6 299h-3.4M444.6 226.7h-3.4M444.6 154.4h-3.4M444.6 82h-3.4M444.6 9.7h-3.4" stroke="#e0484c" stroke-width="0.9" fill="none"/>
<g font-size="17.5" text-anchor="middle" fill="#141414" stroke="#141414">
<text x="103.4" y="325.2">0</text>
<text x="169" y="325.2">1</text>
<text x="234.6" y="325.2">2</text>
<text x="300.2" y="325.2">3</text>
<text x="365.8" y="325.2">4</text>
<text x="431.4" y="325.2">5</text>
</g>
<text x="274.6" y="350.4" font-size="21.8" text-anchor="middle" fill="#141414" stroke="#141414">Time (ns)</text>
<text x="272.6" y="390" font-size="30.3" text-anchor="middle" fill="#141414" stroke="#141414">(a)</text>
<g font-size="20" fill="#c8470f" stroke="#c8470f">
<text x="452.4" y="18.1">200</text>
<text x="452.4" y="89.5">150</text>
<text x="452.4" y="162">100</text>
<text x="452.4" y="234.3">50</text>
<text x="452.4" y="306.5">0</text>
</g>
<text transform="translate(505.5 190.5) rotate(-90)" font-size="21.5" fill="#c8470f" stroke="#c8470f">T<tspan font-size="16.5" dy="8.5">R</tspan><tspan dy="-8.5" font-size="21.5"> (eV)</tspan></text>
<g font-size="16.5" text-anchor="middle" fill="#141414" stroke="#141414">
<text transform="translate(16.2 52.6) rotate(-16)">280</text>
<text transform="translate(35.4 125.4) rotate(-17)">200</text>
<text transform="translate(46.6 177) rotate(-19)">127</text>
<text transform="translate(52.6 196.2) rotate(-19)">125</text>
<text transform="translate(57.6 213.6) rotate(-19)">110</text>
</g>
<text transform="translate(76.2 253.5) rotate(-109)" font-size="18.5" text-anchor="middle" fill="#141414" stroke="#141414">r (μm)</text>
</g>
<g id="panel-b">
<defs><linearGradient id="g0" x1="0" y1="0" x2="0" y2="1"><stop offset="0" stop-color="#ffdb00"/><stop offset=".578" stop-color="#ffdb00"/><stop offset=".5783" stop-color="#ff0000"/><stop offset=".5783" stop-color="#ed0000"/><stop offset=".5801" stop-color="#ed0000"/><stop offset=".5807" stop-color="#fb0000"/><stop offset=".5815" stop-color="#ff0000"/><stop offset=".5856" stop-color="#ff1200"/><stop offset=".5859" stop-color="#ffab00"/><stop offset=".591" stop-color="#ffd000"/><stop offset=".6108" stop-color="#ffdb00"/><stop offset=".6343" stop-color="#ffea00"/><stop offset=".6422" stop-color="#fffe00"/><stop offset="1" stop-color="#fffe00"/></linearGradient>
<linearGradient id="g1" x1="0" y1="0" x2="0" y2="1"><stop offset="0" stop-color="#ffdb00"/><stop offset=".578" stop-color="#ffdb00"/><stop offset=".5783" stop-color="#ff0000"/><stop offset=".5783" stop-color="#ed0000"/><stop offset=".5801" stop-color="#ed0000"/><stop offset=".5807" stop-color="#fb0000"/><stop offset=".5815" stop-color="#ff0000"/><stop offset=".5856" stop-color="#ff1200"/><stop offset=".5859" stop-color="#ffab00"/><stop offset=".591" stop-color="#ffd000"/><stop offset=".6108" stop-color="#ffdb00"/><stop offset=".6343" stop-color="#ffea00"/><stop offset=".6422" stop-color="#fffe00"/><stop offset="1" stop-color="#fffe00"/></linearGradient>
<linearGradient id="g2" x1="0" y1="0" x2="0" y2="1"><stop offset="0" stop-color="#ffdb00"/><stop offset=".578" stop-color="#ffdb00"/><stop offset=".5783" stop-color="#ff0000"/><stop offset=".5783" stop-color="#ed0000"/><stop offset=".5801" stop-color="#ed0000"/><stop offset=".5807" stop-color="#fb0000"/><stop offset=".5815" stop-color="#ff0000"/><stop offset=".5856" stop-color="#ff1200"/><stop offset=".5859" stop-color="#ffab00"/><stop offset=".591" stop-color="#ffd000"/><stop offset=".6108" stop-color="#ffdb00"/><stop offset=".6343" stop-color="#ffea00"/><stop offset=".6422" stop-color="#fffe00"/><stop offset="1" stop-color="#fffe00"/></linearGradient>
<linearGradient id="g3" x1="0" y1="0" x2="0" y2="1"><stop offset="0" stop-color="#ffdb00"/><stop offset=".578" stop-color="#ffdb00"/><stop offset=".5783" stop-color="#ff0000"/><stop offset=".5783" stop-color="#ed0000"/><stop offset=".5801" stop-color="#ed0000"/><stop offset=".5807" stop-color="#fb0000"/><stop offset=".5815" stop-color="#ff0000"/><stop offset=".5856" stop-color="#ff1200"/><stop offset=".5859" stop-color="#ffab00"/><stop offset=".591" stop-color="#ffd000"/><stop offset=".6108" stop-color="#ffdb00"/><stop offset=".6343" stop-color="#ffea00"/><stop offset=".6422" stop-color="#fffe00"/><stop offset="1" stop-color="#fffe00"/></linearGradient>
<linearGradient id="g4" x1="0" y1="0" x2="0" y2="1"><stop offset="0" stop-color="#ffdb00"/><stop offset=".578" stop-color="#ffdb00"/><stop offset=".5783" stop-color="#ff0000"/><stop offset=".5783" stop-color="#ed0000"/><stop offset=".5801" stop-color="#ed0000"/><stop offset=".5807" stop-color="#fb0000"/><stop offset=".5815" stop-color="#ff0000"/><stop offset=".5856" stop-color="#ff1200"/><stop offset=".5859" stop-color="#ffab00"/><stop offset=".591" stop-color="#ffd000"/><stop offset=".6108" stop-color="#ffdb00"/><stop offset=".6343" stop-color="#ffea00"/><stop offset=".6422" stop-color="#fffe00"/><stop offset="1" stop-color="#fffe00"/></linearGradient>
<linearGradient id="g5" x1="0" y1="0" x2="0" y2="1"><stop offset="0" stop-color="#ffdb00"/><stop offset=".578" stop-color="#ffdb00"/><stop offset=".5783" stop-color="#ff0000"/><stop offset=".5783" stop-color="#ed0000"/><stop offset=".5801" stop-color="#ed0000"/><stop offset=".5807" stop-color="#fb0000"/><stop offset=".5815" stop-color="#ff0000"/><stop offset=".5856" stop-color="#ff1200"/><stop offset=".5859" stop-color="#ffab00"/><stop offset=".591" stop-color="#ffd000"/><stop offset=".6108" stop-color="#ffdb00"/><stop offset=".6343" stop-color="#ffea00"/><stop offset=".6422" stop-color="#fffe00"/><stop offset="1" stop-color="#fffe00"/></linearGradient>
<linearGradient id="g6" x1="0" y1="0" x2="0" y2="1"><stop offset="0" stop-color="#ffdb00"/><stop offset=".578" stop-color="#ffdb00"/><stop offset=".5783" stop-color="#ff0000"/><stop offset=".5783" stop-color="#ed0000"/><stop offset=".5801" stop-color="#ed0000"/><stop offset=".5807" stop-color="#fb0000"/><stop offset=".5815" stop-color="#ff0000"/><stop offset=".5856" stop-color="#ff1200"/><stop offset=".5859" stop-color="#ffab00"/><stop offset=".591" stop-color="#ffd000"/><stop offset=".6108" stop-color="#ffdb00"/><stop offset=".6343" stop-color="#ffea00"/><stop offset=".6422" stop-color="#fffe00"/><stop offset="1" stop-color="#fffe00"/></linearGradient>
<linearGradient id="g7" x1="0" y1="0" x2="0" y2="1"><stop offset="0" stop-color="#ffdb00"/><stop offset=".578" stop-color="#ffdb00"/><stop offset=".5783" stop-color="#ff0000"/><stop offset=".5783" stop-color="#ed0000"/><stop offset=".5801" stop-color="#ed0000"/><stop offset=".5807" stop-color="#fb0000"/><stop offset=".5815" stop-color="#ff0000"/><stop offset=".5856" stop-color="#ff1200"/><stop offset=".5859" stop-color="#ffab00"/><stop offset=".591" stop-color="#ffd000"/><stop offset=".6108" stop-color="#ffdb00"/><stop offset=".6343" stop-color="#ffea00"/><stop offset=".6422" stop-color="#fffe00"/><stop offset="1" stop-color="#fffe00"/></linearGradient>
<linearGradient id="g8" x1="0" y1="0" x2="0" y2="1"><stop offset="0" stop-color="#ffdb00"/><stop offset=".578" stop-color="#ffdb00"/><stop offset=".5783" stop-color="#ff0000"/><stop offset=".5783" stop-color="#ed0000"/><stop offset=".5801" stop-color="#ed0000"/><stop offset=".5807" stop-color="#fb0000"/><stop offset=".5815" stop-color="#ff0000"/><stop offset=".5856" stop-color="#ff1200"/><stop offset=".5859" stop-color="#ffab00"/><stop offset=".591" stop-color="#ffd000"/><stop offset=".6108" stop-color="#ffdb00"/><stop offset=".6343" stop-color="#ffea00"/><stop offset=".6422" stop-color="#fffe00"/><stop offset="1" stop-color="#fffe00"/></linearGradient>
<linearGradient id="g9" x1="0" y1="0" x2="0" y2="1"><stop offset="0" stop-color="#ffdb00"/><stop offset=".578" stop-color="#ffdb00"/><stop offset=".5783" stop-color="#ff0000"/><stop offset=".5783" stop-color="#ed0000"/><stop offset=".5801" stop-color="#ed0000"/><stop offset=".5807" stop-color="#fb0000"/><stop offset=".5815" stop-color="#ff0000"/><stop offset=".5856" stop-color="#ff1200"/><stop offset=".5859" stop-color="#ffab00"/><stop offset=".591" stop-color="#ffd000"/><stop offset=".6108" stop-color="#ffdb00"/><stop offset=".6343" stop-color="#ffea00"/><stop offset=".6422" stop-color="#fffe00"/><stop offset="1" stop-color="#fffe00"/></linearGradient>
<linearGradient id="g10" x1="0" y1="0" x2="0" y2="1"><stop offset="0" stop-color="#ffdb00"/><stop offset=".578" stop-color="#ffdb00"/><stop offset=".5783" stop-color="#ff0000"/><stop offset=".5783" stop-color="#ed0000"/><stop offset=".5801" stop-color="#ed0000"/><stop offset=".5807" stop-color="#fb0000"/><stop offset=".5815" stop-color="#ff0000"/><stop offset=".5856" stop-color="#ff1200"/><stop offset=".5859" stop-color="#ffab00"/><stop offset=".591" stop-color="#ffd000"/><stop offset=".6108" stop-color="#ffdb00"/><stop offset=".6343" stop-color="#ffea00"/><stop offset=".6422" stop-color="#fffe00"/><stop offset="1" stop-color="#fffe00"/></linearGradient>
<linearGradient id="g11" x1="0" y1="0" x2="0" y2="1"><stop offset="0" stop-color="#ffdb00"/><stop offset=".578" stop-color="#ffdb00"/><stop offset=".5783" stop-color="#ff0000"/><stop offset=".5783" stop-color="#ed0000"/><stop offset=".5801" stop-color="#ed0000"/><stop offset=".5807" stop-color="#fb0000"/><stop offset=".5815" stop-color="#ff0000"/><stop offset=".5856" stop-color="#ff1200"/><stop offset=".5859" stop-color="#ffab00"/><stop offset=".591" stop-color="#ffd000"/><stop offset=".6108" stop-color="#ffdb00"/><stop offset=".6343" stop-color="#ffea00"/><stop offset=".6422" stop-color="#fffe00"/><stop offset="1" stop-color="#fffe00"/></linearGradient>
<linearGradient id="g12" x1="0" y1="0" x2="0" y2="1"><stop offset="0" stop-color="#ffdb00"/><stop offset=".578" stop-color="#ffdb00"/><stop offset=".5783" stop-color="#ff0000"/><stop offset=".5783" stop-color="#ed0000"/><stop offset=".5801" stop-color="#ed0000"/><stop offset=".5807" stop-color="#fb0000"/><stop offset=".5815" stop-color="#ff0000"/><stop offset=".5856" stop-color="#ff1200"/><stop offset=".5859" stop-color="#ffab00"/><stop offset=".591" stop-color="#ffd000"/><stop offset=".6108" stop-color="#ffdb00"/><stop offset=".6343" stop-color="#ffea00"/><stop offset=".6422" stop-color="#fffe00"/><stop offset="1" stop-color="#fffe00"/></linearGradient>
<linearGradient id="g13" x1="0" y1="0" x2="0" y2="1"><stop offset="0" stop-color="#ffdb00"/><stop offset=".578" stop-color="#ffdb00"/><stop offset=".5783" stop-color="#ff0000"/><stop offset=".5783" stop-color="#ed0000"/><stop offset=".5801" stop-color="#ed0000"/><stop offset=".5807" stop-color="#fb0000"/><stop offset=".5815" stop-color="#ff0000"/><stop offset=".5856" stop-color="#ff1200"/><stop offset=".5859" stop-color="#ffab00"/><stop offset=".591" stop-color="#ffd000"/><stop offset=".6108" stop-color="#ffdb00"/><stop offset=".6343" stop-color="#ffea00"/><stop offset=".6422" stop-color="#fffe00"/><stop offset="1" stop-color="#fffe00"/></linearGradient>
<linearGradient id="g14" x1="0" y1="0" x2="0" y2="1"><stop offset="0" stop-color="#ffdb00"/><stop offset=".578" stop-color="#ffdb00"/><stop offset=".5783" stop-color="#ff0000"/><stop offset=".5783" stop-color="#ed0000"/><stop offset=".5801" stop-color="#ed0000"/><stop offset=".5807" stop-color="#fb0000"/><stop offset=".5815" stop-color="#ff0000"/><stop offset=".5856" stop-color="#ff1200"/><stop offset=".5859" stop-color="#ffab00"/><stop offset=".591" stop-color="#ffd000"/><stop offset=".6108" stop-color="#ffdb00"/><stop offset=".6343" stop-color="#ffea00"/><stop offset=".6422" stop-color="#fffe00"/><stop offset="1" stop-color="#fffe00"/></linearGradient>
<linearGradient id="g15" x1="0" y1="0" x2="0" y2="1"><stop offset="0" stop-color="#ffdb00"/><stop offset=".578" stop-color="#ffdb00"/><stop offset=".5783" stop-color="#ff0000"/><stop offset=".5783" stop-color="#ed0000"/><stop offset=".5801" stop-color="#ed0000"/><stop offset=".5807" stop-color="#fb0000"/><stop offset=".5815" stop-color="#ff0000"/><stop offset=".5856" stop-color="#ff1200"/><stop offset=".5859" stop-color="#ffab00"/><stop offset=".591" stop-color="#ffd000"/><stop offset=".6108" stop-color="#ffdb00"/><stop offset=".6343" stop-color="#ffea00"/><stop offset=".6422" stop-color="#fffe00"/><stop offset="1" stop-color="#fffe00"/></linearGradient>
<linearGradient id="g16" x1="0" y1="0" x2="0" y2="1"><stop offset="0" stop-color="#ffdb00"/><stop offset=".578" stop-color="#ffdb00"/><stop offset=".5783" stop-color="#ff0000"/><stop offset=".5783" stop-color="#ed0000"/><stop offset=".5801" stop-color="#ed0000"/><stop offset=".5807" stop-color="#fb0000"/><stop offset=".5815" stop-color="#ff0000"/><stop offset=".5856" stop-color="#ff1200"/><stop offset=".5859" stop-color="#ffab00"/><stop offset=".591" stop-color="#ffd000"/><stop offset=".6108" stop-color="#ffdb00"/><stop offset=".6343" stop-color="#ffea00"/><stop offset=".6422" stop-color="#fffe00"/><stop offset="1" stop-color="#fffe00"/></linearGradient>
<linearGradient id="g17" x1="0" y1="0" x2="0" y2="1"><stop offset="0" stop-color="#ffdb00"/><stop offset=".578" stop-color="#ffdb00"/><stop offset=".5783" stop-color="#ff0000"/><stop offset=".5783" stop-color="#ed0000"/><stop offset=".5801" stop-color="#ed0000"/><stop offset=".5807" stop-color="#fb0000"/><stop offset=".5815" stop-color="#ff0000"/><stop offset=".5856" stop-color="#ff1200"/><stop offset=".5859" stop-color="#ffab00"/><stop offset=".591" stop-color="#ffd000"/><stop offset=".6108" stop-color="#ffdb00"/><stop offset=".6343" stop-color="#ffea00"/><stop offset=".6422" stop-color="#fffe00"/><stop offset="1" stop-color="#fffe00"/></linearGradient>
<linearGradient id="g18" x1="0" y1="0" x2="0" y2="1"><stop offset="0" stop-color="#ffdb00"/><stop offset=".578" stop-color="#ffdb00"/><stop offset=".5783" stop-color="#ff0000"/><stop offset=".5783" stop-color="#ed0000"/><stop offset=".5801" stop-color="#ed0000"/><stop offset=".5807" stop-color="#fb0000"/><stop offset=".5815" stop-color="#ff0000"/><stop offset=".5856" stop-color="#ff1200"/><stop offset=".5859" stop-color="#ffab00"/><stop offset=".591" stop-color="#ffd000"/><stop offset=".6108" stop-color="#ffdb00"/><stop offset=".6343" stop-color="#ffea00"/><stop offset=".6422" stop-color="#fffe00"/><stop offset="1" stop-color="#fffe00"/></linearGradient>
<linearGradient id="g19" x1="0" y1="0" x2="0" y2="1"><stop offset="0" stop-color="#ffdb00"/><stop offset=".578" stop-color="#ffdb00"/><stop offset=".5783" stop-color="#ff0000"/><stop offset=".5783" stop-color="#ed0000"/><stop offset=".5801" stop-color="#ed0000"/><stop offset=".5807" stop-color="#fb0000"/><stop offset=".5815" stop-color="#ff0000"/><stop offset=".5856" stop-color="#ff1200"/><stop offset=".5859" stop-color="#ffab00"/><stop offset=".591" stop-color="#ffd000"/><stop offset=".6108" stop-color="#ffdb00"/><stop offset=".6343" stop-color="#ffea00"/><stop offset=".6422" stop-color="#fffe00"/><stop offset="1" stop-color="#fffe00"/></linearGradient>
<linearGradient id="g20" x1="0" y1="0" x2="0" y2="1"><stop offset="0" stop-color="#3dffc2"/><stop offset=".0196" stop-color="#49ffb6"/><stop offset=".0277" stop-color="#4fffb0"/><stop offset=".0545" stop-color="#70ff8f"/><stop offset=".0593" stop-color="#79ff86"/><stop offset=".081" stop-color="#afff50"/><stop offset=".0968" stop-color="#eeff11"/><stop offset=".0983" stop-color="#ffff00"/><stop offset=".1013" stop-color="#ffdb00"/><stop offset=".578" stop-color="#ffdb00"/><stop offset=".5783" stop-color="#ff0000"/><stop offset=".5783" stop-color="#ed0000"/><stop offset=".5801" stop-color="#ed0000"/><stop offset=".5807" stop-color="#fb0000"/><stop offset=".5815" stop-color="#ff0000"/><stop offset=".5856" stop-color="#ff1200"/><stop offset=".5859" stop-color="#ffab00"/><stop offset=".591" stop-color="#ffd000"/><stop offset=".6108" stop-color="#ffdb00"/><stop offset=".6343" stop-color="#ffea00"/><stop offset=".6422" stop-color="#fffe00"/><stop offset="1" stop-color="#fffe00"/></linearGradient>
<linearGradient id="g21" x1="0" y1="0" x2="0" y2="1"><stop offset="0" stop-color="#3cffc3"/><stop offset=".0227" stop-color="#49ffb6"/><stop offset=".0286" stop-color="#4effb1"/><stop offset=".0561" stop-color="#6fff90"/><stop offset=".0624" stop-color="#79ff86"/><stop offset=".084" stop-color="#afff50"/><stop offset=".0999" stop-color="#efff10"/><stop offset=".1003" stop-color="#ffff00"/><stop offset=".1026" stop-color="#ff9d00"/><stop offset=".1034" stop-color="#ff7b00"/><stop offset=".1049" stop-color="#ffdb00"/><stop offset=".578" stop-color="#ffdb00"/><stop offset=".5783" stop-color="#ff0000"/><stop offset=".5783" stop-color="#ed0000"/><stop offset=".5801" stop-color="#ed0000"/><stop offset=".5807" stop-color="#fb0000"/><stop offset=".5815" stop-color="#ff0000"/><stop offset=".5856" stop-color="#ff1200"/><stop offset=".5859" stop-color="#ffab00"/><stop offset=".591" stop-color="#ffd000"/><stop offset=".6108" stop-color="#ffdb00"/><stop offset=".6343" stop-color="#ffea00"/><stop offset=".6422" stop-color="#fffe00"/><stop offset="1" stop-color="#fffe00"/></linearGradient>
<linearGradient id="g22" x1="0" y1="0" x2="0" y2="1"><stop offset="0" stop-color="#3bffc4"/><stop offset=".0261" stop-color="#4affb5"/><stop offset=".0295" stop-color="#4cffb3"/><stop offset=".058" stop-color="#6dff92"/><stop offset=".0658" stop-color="#7aff85"/><stop offset=".0875" stop-color="#b0ff4f"/><stop offset=".1034" stop-color="#efff10"/><stop offset=".1037" stop-color="#ffff00"/><stop offset=".1061" stop-color="#ff9d00"/><stop offset=".1072" stop-color="#ff7b00"/><stop offset=".1087" stop-color="#ffdb00"/><stop offset=".578" stop-color="#ffdb00"/><stop offset=".5783" stop-color="#ff0000"/><stop offset=".5783" stop-color="#ed0000"/><stop offset=".5801" stop-color="#ed0000"/><stop offset=".5807" stop-color="#fb0000"/><stop offset=".5815" stop-color="#ff0000"/><stop offset=".5856" stop-color="#ff1200"/><stop offset=".5859" stop-color="#ffab00"/><stop offset=".591" stop-color="#ffd000"/><stop offset=".6108" stop-color="#ffdb00"/><stop offset=".6343" stop-color="#ffea00"/><stop offset=".6422" stop-color="#fffe00"/><stop offset="1" stop-color="#fffe00"/></linearGradient>
<linearGradient id="g23" x1="0" y1="0" x2="0" y2="1"><stop offset="0" stop-color="#3affc5"/><stop offset=".0298" stop-color="#4affb5"/><stop offset=".0306" stop-color="#4bffb4"/><stop offset=".0601" stop-color="#6bff94"/><stop offset=".0695" stop-color="#7bff84"/><stop offset=".0912" stop-color="#b0ff4f"/><stop offset=".1071" stop-color="#f0ff0f"/><stop offset=".1075" stop-color="#ffff00"/><stop offset=".1099" stop-color="#ff9d00"/><stop offset=".1111" stop-color="#ff7b00"/><stop offset=".1126" stop-color="#ffdb00"/><stop offset=".578" stop-color="#ffdb00"/><stop offset=".5783" stop-color="#ff0000"/><stop offset=".5783" stop-color="#ed0000"/><stop offset=".5801" stop-color="#ed0000"/><stop offset=".5807" stop-color="#fb0000"/><stop offset=".5815" stop-color="#ff0000"/><stop offset=".5856" stop-color="#ff1200"/><stop offset=".5859" stop-color="#ffab00"/><stop offset=".591" stop-color="#ffd000"/><stop offset=".6108" stop-color="#ffdb00"/><stop offset=".6343" stop-color="#ffea00"/><stop offset=".6422" stop-color="#fffe00"/><stop offset="1" stop-color="#fffe00"/></linearGradient>
<linearGradient id="g24" x1="0" y1="0" x2="0" y2="1"><stop offset="0" stop-color="#39ffc6"/><stop offset=".0317" stop-color="#4affb5"/><stop offset=".0338" stop-color="#4bffb4"/><stop offset=".0623" stop-color="#69ff96"/><stop offset=".0735" stop-color="#7cff83"/><stop offset=".0951" stop-color="#b1ff4e"/><stop offset=".111" stop-color="#f1ff0e"/><stop offset=".1114" stop-color="#ffff00"/><stop offset=".1139" stop-color="#ff9d00"/><stop offset=".1152" stop-color="#ff7b00"/><stop offset=".1168" stop-color="#ffdb00"/><stop offset=".578" stop-color="#ffdb00"/><stop offset=".5783" stop-color="#ff0000"/><stop offset=".5783" stop-color="#ed0000"/><stop offset=".5801" stop-color="#ed0000"/><stop offset=".5807" stop-color="#fb0000"/><stop offset=".5815" stop-color="#ff0000"/><stop offset=".5856" stop-color="#ff1200"/><stop offset=".5859" stop-color="#ffab00"/><stop offset=".591" stop-color="#ffd000"/><stop offset=".6108" stop-color="#ffdb00"/><stop offset=".6343" stop-color="#ffea00"/><stop offset=".6422" stop-color="#fffe00"/><stop offset="1" stop-color="#fffe00"/></linearGradient>
<linearGradient id="g25" x1="0" y1="0" x2="0" y2="1"><stop offset="0" stop-color="#38ffc7"/><stop offset=".0328" stop-color="#49ffb6"/><stop offset=".0379" stop-color="#4cffb3"/><stop offset=".0645" stop-color="#68ff97"/><stop offset=".0776" stop-color="#7dff82"/><stop offset=".0993" stop-color="#b2ff4d"/><stop offset=".1151" stop-color="#f1ff0e"/><stop offset=".1155" stop-color="#ffff00"/><stop offset=".1181" stop-color="#ff9d00"/><stop offset=".1195" stop-color="#ff7b00"/><stop offset=".1211" stop-color="#ffdb00"/><stop offset=".578" stop-color="#ffdb00"/><stop offset=".5783" stop-color="#ff0000"/><stop offset=".5783" stop-color="#ed0000"/><stop offset=".5801" stop-color="#ed0000"/><stop offset=".5807" stop-color="#fb0000"/><stop offset=".5815" stop-color="#ff0000"/><stop offset=".5856" stop-color="#ff1200"/><stop offset=".5859" stop-color="#ffab00"/><stop offset=".591" stop-color="#ffd000"/><stop offset=".6108" stop-color="#ffdb00"/><stop offset=".6343" stop-color="#ffea00"/><stop offset=".6422" stop-color="#fffe00"/><stop offset="1" stop-color="#fffe00"/></linearGradient>
<linearGradient id="g26" x1="0" y1="0" x2="0" y2="1"><stop offset="0" stop-color="#38ffc7"/><stop offset=".034" stop-color="#48ffb7"/><stop offset=".0421" stop-color="#4dffb2"/><stop offset=".0668" stop-color="#67ff98"/><stop offset=".0818" stop-color="#7eff81"/><stop offset=".1035" stop-color="#b4ff4b"/><stop offset=".1194" stop-color="#f2ff0d"/><stop offset=".1197" stop-color="#ffff00"/><stop offset=".1224" stop-color="#ff9d00"/><stop offset=".124" stop-color="#ff7b00"/><stop offset=".1257" stop-color="#ffdb00"/><stop offset=".578" stop-color="#ffdb00"/><stop offset=".5783" stop-color="#ff0000"/><stop offset=".5783" stop-color="#ed0000"/><stop offset=".5801" stop-color="#ed0000"/><stop offset=".5807" stop-color="#fb0000"/><stop offset=".5815" stop-color="#ff0000"/><stop offset=".5856" stop-color="#ff1200"/><stop offset=".5859" stop-color="#ffab00"/><stop offset=".591" stop-color="#ffd000"/><stop offset=".6108" stop-color="#ffdb00"/><stop offset=".6343" stop-color="#ffea00"/><stop offset=".6422" stop-color="#fffe00"/><stop offset="1" stop-color="#fffe00"/></linearGradient>
<linearGradient id="g27" x1="0" y1="0" x2="0" y2="1"><stop offset="0" stop-color="#37ffc8"/><stop offset=".0352" stop-color="#47ffb8"/><stop offset=".0464" stop-color="#4fffb0"/><stop offset=".0692" stop-color="#65ff9a"/><stop offset=".0861" stop-color="#80ff7f"/><stop offset=".1077" stop-color="#b5ff4a"/><stop offset=".1236" stop-color="#f3ff0c"/><stop offset=".124" stop-color="#ffff00"/><stop offset=".1269" stop-color="#ff9d00"/><stop offset=".1287" stop-color="#ff7b00"/><stop offset=".1306" stop-color="#ffdb00"/><stop offset=".578" stop-color="#ffdb00"/><stop offset=".5783" stop-color="#ff0000"/><stop offset=".5783" stop-color="#ed0000"/><stop offset=".5801" stop-color="#ed0000"/><stop offset=".5807" stop-color="#fb0000"/><stop offset=".5815" stop-color="#ff0000"/><stop offset=".5856" stop-color="#ff1200"/><stop offset=".5859" stop-color="#ffab00"/><stop offset=".591" stop-color="#ffd000"/><stop offset=".6108" stop-color="#ffdb00"/><stop offset=".6343" stop-color="#ffea00"/><stop offset=".6422" stop-color="#fffe00"/><stop offset="1" stop-color="#fffe00"/></linearGradient>
<linearGradient id="g28" x1="0" y1="0" x2="0" y2="1"><stop offset="0" stop-color="#37ffc8"/><stop offset=".0364" stop-color="#46ffb9"/><stop offset=".0506" stop-color="#50ffaf"/><stop offset=".0715" stop-color="#65ff9a"/><stop offset=".0903" stop-color="#81ff7e"/><stop offset=".1119" stop-color="#b6ff49"/><stop offset=".1278" stop-color="#f4ff0b"/><stop offset=".1282" stop-color="#ffff00"/><stop offset=".1311" stop-color="#ff9d00"/><stop offset=".1337" stop-color="#ff7b00"/><stop offset=".1357" stop-color="#ffdb00"/><stop offset=".578" stop-color="#ffdb00"/><stop offset=".5783" stop-color="#ff0000"/><stop offset=".5783" stop-color="#ed0000"/><stop offset=".5801" stop-color="#ed0000"/><stop offset=".5807" stop-color="#fb0000"/><stop offset=".5815" stop-color="#ff0000"/><stop offset=".5856" stop-color="#ff1200"/><stop offset=".5859" stop-color="#ffab00"/><stop offset=".591" stop-color="#ffd000"/><stop offset=".6108" stop-color="#ffdb00"/><stop offset=".6343" stop-color="#ffea00"/><stop offset=".6422" stop-color="#fffe00"/><stop offset="1" stop-color="#fffe00"/></linearGradient>
<linearGradient id="g29" x1="0" y1="0" x2="0" y2="1"><stop offset="0" stop-color="#37ffc8"/><stop offset=".0376" stop-color="#46ffb9"/><stop offset=".0547" stop-color="#51ffae"/><stop offset=".0738" stop-color="#64ff9b"/><stop offset=".0944" stop-color="#83ff7c"/><stop offset=".1161" stop-color="#b7ff48"/><stop offset=".1319" stop-color="#f5ff0a"/><stop offset=".1323" stop-color="#ffff00"/><stop offset=".1352" stop-color="#ff9d00"/><stop offset=".1386" stop-color="#ff7b00"/><stop offset=".1409" stop-color="#ffdb00"/><stop offset=".578" stop-color="#ffdb00"/><stop offset=".5783" stop-color="#ff0000"/><stop offset=".5783" stop-color="#ed0000"/><stop offset=".5801" stop-color="#ed0000"/><stop offset=".5807" stop-color="#fb0000"/><stop offset=".5815" stop-color="#ff0000"/><stop offset=".5856" stop-color="#ff1200"/><stop offset=".5859" stop-color="#ffab00"/><stop offset=".591" stop-color="#ffd000"/><stop offset=".6108" stop-color="#ffdb00"/><stop offset=".6343" stop-color="#ffea00"/><stop offset=".6422" stop-color="#fffe00"/><stop offset="1" stop-color="#fffe00"/></linearGradient>
<linearGradient id="g30" x1="0" y1="0" x2="0" y2="1"><stop offset="0" stop-color="#37ffc8"/><stop offset=".0009" stop-color="#37ffc8"/><stop offset=".0387" stop-color="#46ffb9"/><stop offset=".0587" stop-color="#53ffac"/><stop offset=".0759" stop-color="#63ff9c"/><stop offset=".0984" stop-color="#84ff7b"/><stop offset=".12" stop-color="#b9ff46"/><stop offset=".1359" stop-color="#f6ff09"/><stop offset=".1362" stop-color="#ffff00"/><stop offset=".1392" stop-color="#ff9d00"/><stop offset=".1435" stop-color="#ff7b00"/><stop offset=".146" stop-color="#ffdb00"/><stop offset=".578" stop-color="#ffdb00"/><stop offset=".5783" stop-color="#ff0000"/><stop offset=".5783" stop-color="#ed0000"/><stop offset=".5801" stop-color="#ed0000"/><stop offset=".5807" stop-color="#fb0000"/><stop offset=".5815" stop-color="#ff0000"/><stop offset=".5856" stop-color="#ff1200"/><stop offset=".5859" stop-color="#ffab00"/><stop offset=".591" stop-color="#ffd000"/><stop offset=".6108" stop-color="#ffdb00"/><stop offset=".6343" stop-color="#ffea00"/><stop offset=".6422" stop-color="#fffe00"/><stop offset="1" stop-color="#fffe00"/></linearGradient>
<linearGradient id="g31" x1="0" y1="0" x2="0" y2="1"><stop offset="0" stop-color="#38ffc7"/><stop offset=".0047" stop-color="#39ffc6"/><stop offset=".0397" stop-color="#46ffb9"/><stop offset=".0625" stop-color="#55ffaa"/><stop offset=".078" stop-color="#64ff9b"/><stop offset=".1022" stop-color="#86ff79"/><stop offset=".1238" stop-color="#baff45"/><stop offset=".1397" stop-color="#f7ff08"/><stop offset=".14" stop-color="#ffff00"/><stop offset=".143" stop-color="#ff9d00"/><stop offset=".1483" stop-color="#ff7b00"/><stop offset=".1509" stop-color="#ffdb00"/><stop offset=".578" stop-color="#ffdb00"/><stop offset=".5783" stop-color="#ff0000"/><stop offset=".5783" stop-color="#ed0000"/><stop offset=".5801" stop-color="#ed0000"/><stop offset=".5807" stop-color="#fb0000"/><stop offset=".5815" stop-color="#ff0000"/><stop offset=".5856" stop-color="#ff1200"/><stop offset=".5859" stop-color="#ffab00"/><stop offset=".591" stop-color="#ffd000"/><stop offset=".6108" stop-color="#ffdb00"/><stop offset=".6343" stop-color="#ffea00"/><stop offset=".6422" stop-color="#fffe00"/><stop offset="1" stop-color="#fffe00"/></linearGradient>
<linearGradient id="g32" x1="0" y1="0" x2="0" y2="1"><stop offset="0" stop-color="#39ffc6"/><stop offset=".0085" stop-color="#3cffc3"/><stop offset=".0408" stop-color="#48ffb7"/><stop offset=".0662" stop-color="#59ffa6"/><stop offset=".0801" stop-color="#65ff9a"/><stop offset=".1059" stop-color="#8aff75"/><stop offset=".1276" stop-color="#bdff42"/><stop offset=".1435" stop-color="#f8ff07"/><stop offset=".1437" stop-color="#ffff00"/><stop offset=".1467" stop-color="#ff9d00"/><stop offset=".1529" stop-color="#ff7b00"/><stop offset=".1558" stop-color="#ffdb00"/><stop offset=".578" stop-color="#ffdb00"/><stop offset=".5783" stop-color="#ff0000"/><stop offset=".5783" stop-color="#ed0000"/><stop offset=".5801" stop-color="#ed0000"/><stop offset=".5807" stop-color="#fb0000"/><stop offset=".5815" stop-color="#ff0000"/><stop offset=".5856" stop-color="#ff1200"/><stop offset=".5859" stop-color="#ffab00"/><stop offset=".591" stop-color="#ffd000"/><stop offset=".6108" stop-color="#ffdb00"/><stop offset=".6343" stop-color="#ffea00"/><stop offset=".6422" stop-color="#fffe00"/><stop offset="1" stop-color="#fffe00"/></linearGradient>
<linearGradient id="g33" x1="0" y1="0" x2="0" y2="1"><stop offset="0" stop-color="#3cffc3"/><stop offset=".0122" stop-color="#3fffc0"/><stop offset=".0418" stop-color="#4bffb4"/><stop offset=".07" stop-color="#5dffa2"/><stop offset=".0822" stop-color="#68ff97"/><stop offset=".1097" stop-color="#8eff71"/><stop offset=".1313" stop-color="#c0ff3f"/><stop offset=".1472" stop-color="#f9ff06"/><stop offset=".1474" stop-color="#ffff00"/><stop offset=".1505" stop-color="#ff9d00"/><stop offset=".1576" stop-color="#ff7b00"/><stop offset=".1607" stop-color="#ffdb00"/><stop offset=".578" stop-color="#ffdb00"/><stop offset=".5783" stop-color="#ff0000"/><stop offset=".5783" stop-color="#ed0000"/><stop offset=".5801" stop-color="#ed0000"/><stop offset=".5807" stop-color="#fb0000"/><stop offset=".5815" stop-color="#ff0000"/><stop offset=".5856" stop-color="#ff1200"/><stop offset=".5859" stop-color="#ffab00"/><stop offset=".591" stop-color="#ffd000"/><stop offset=".6108" stop-color="#ffdb00"/><stop offset=".6343" stop-color="#ffea00"/><stop offset=".6422" stop-color="#fffe00"/><stop offset="1" stop-color="#fffe00"/></linearGradient>
<linearGradient id="g34" x1="0" y1="0" x2="0" y2="1"><stop offset="0" stop-color="#40ffbf"/><stop offset=".0159" stop-color="#44ffbb"/><stop offset=".0429" stop-color="#4fffb0"/><stop offset=".0737" stop-color="#62ff9d"/><stop offset=".0842" stop-color="#6bff94"/><stop offset=".1134" stop-color="#92ff6d"/><stop offset=".1351" stop-color="#c3ff3c"/><stop offset=".1509" stop-color="#fbff04"/><stop offset=".1511" stop-color="#ffff00"/><stop offset=".1542" stop-color="#ff9d00"/><stop offset=".1624" stop-color="#ff7b00"/><stop offset=".1656" stop-color="#ffdb00"/><stop offset=".578" stop-color="#ffdb00"/><stop offset=".5783" stop-color="#ff0000"/><stop offset=".5783" stop-color="#ed0000"/><stop offset=".5801" stop-color="#ed0000"/><stop offset=".5807" stop-color="#fb0000"/><stop offset=".5815" stop-color="#ff0000"/><stop offset=".5856" stop-color="#ff1200"/><stop offset=".5859" stop-color="#ffab00"/><stop offset=".591" stop-color="#ffd000"/><stop offset=".6108" stop-color="#ffdb00"/><stop offset=".6343" stop-color="#ffea00"/><stop offset=".6422" stop-color="#fffe00"/><stop offset="1" stop-color="#fffe00"/></linearGradient>
<linearGradient id="g35" x1="0" y1="0" x2="0" y2="1"><stop offset="0" stop-color="#43ffbc"/><stop offset=".0197" stop-color="#49ffb6"/><stop offset=".0439" stop-color="#53ffac"/><stop offset=".0774" stop-color="#68ff97"/><stop offset=".0863" stop-color="#6fff90"/><stop offset=".1171" stop-color="#97ff68"/><stop offset=".1388" stop-color="#c6ff39"/><stop offset=".1547" stop-color="#fcff03"/><stop offset=".1548" stop-color="#ffff00"/><stop offset=".1579" stop-color="#ff9d00"/><stop offset=".1673" stop-color="#ff7b00"/><stop offset=".1705" stop-color="#ffdb00"/><stop offset=".578" stop-color="#ffdb00"/><stop offset=".5783" stop-color="#ff0000"/><stop offset=".5783" stop-color="#ed0000"/><stop offset=".5801" stop-color="#ed0000"/><stop offset=".5807" stop-color="#fb0000"/><stop offset=".5815" stop-color="#ff0000"/><stop offset=".5856" stop-color="#ff1200"/><stop offset=".5859" stop-color="#ffab00"/><stop offset=".591" stop-color="#ffd000"/><stop offset=".6108" stop-color="#ffdb00"/><stop offset=".6343" stop-color="#ffea00"/><stop offset=".6422" stop-color="#fffe00"/><stop offset="1" stop-color="#fffe00"/></linearGradient>
<linearGradient id="g36" x1="0" y1="0" x2="0" y2="1"><stop offset="0" stop-color="#48ffb7"/><stop offset=".0234" stop-color="#4fffb0"/><stop offset=".045" stop-color="#57ffa8"/><stop offset=".0812" stop-color="#6dff92"/><stop offset=".0883" stop-color="#73ff8c"/><stop offset=".1209" stop-color="#9cff63"/><stop offset=".1426" stop-color="#c9ff36"/><stop offset=".1585" stop-color="#feff01"/><stop offset=".1585" stop-color="#ffff00"/><stop offset=".1617" stop-color="#ff9d00"/><stop offset=".1722" stop-color="#ff7b00"/><stop offset=".1755" stop-color="#ffdb00"/><stop offset=".578" stop-color="#ffdb00"/><stop offset=".5783" stop-color="#ff0000"/><stop offset=".5783" stop-color="#ed0000"/><stop offset=".5801" stop-color="#ed0000"/><stop offset=".5807" stop-color="#fb0000"/><stop offset=".5815" stop-color="#ff0000"/><stop offset=".5856" stop-color="#ff1200"/><stop offset=".5859" stop-color="#ffab00"/><stop offset=".591" stop-color="#ffd000"/><stop offset=".6108" stop-color="#ffdb00"/><stop offset=".6343" stop-color="#ffea00"/><stop offset=".6422" stop-color="#fffe00"/><stop offset="1" stop-color="#fffe00"/></linearGradient>
<linearGradient id="g37" x1="0" y1="0" x2="0" y2="1"><stop offset="0" stop-color="#4cffb3"/><stop offset=".0273" stop-color="#54ffab"/><stop offset=".0461" stop-color="#5cffa3"/><stop offset=".0851" stop-color="#73ff8c"/><stop offset=".0905" stop-color="#78ff87"/><stop offset=".1248" stop-color="#a0ff5f"/><stop offset=".1464" stop-color="#cdff32"/><stop offset=".1622" stop-color="#ffff00"/><stop offset=".1623" stop-color="#ffff00"/><stop offset=".1656" stop-color="#ff9d00"/><stop offset=".1773" stop-color="#ff7b00"/><stop offset=".1805" stop-color="#ffdb00"/><stop offset=".578" stop-color="#ffdb00"/><stop offset=".5783" stop-color="#ff0000"/><stop offset=".5783" stop-color="#ed0000"/><stop offset=".5801" stop-color="#ed0000"/><stop offset=".5807" stop-color="#fb0000"/><stop offset=".5815" stop-color="#ff0000"/><stop offset=".5856" stop-color="#ff1200"/><stop offset=".5859" stop-color="#ffab00"/><stop offset=".591" stop-color="#ffd000"/><stop offset=".6108" stop-color="#ffdb00"/><stop offset=".6343" stop-color="#ffea00"/><stop offset=".6422" stop-color="#fffe00"/><stop offset="1" stop-color="#fffe00"/></linearGradient>
<linearGradient id="g38" x1="0" y1="0" x2="0" y2="1"><stop offset="0" stop-color="#50ffaf"/><stop offset=".0312" stop-color="#5affa5"/><stop offset=".0472" stop-color="#60ff9f"/><stop offset=".089" stop-color="#79ff86"/><stop offset=".0926" stop-color="#7cff83"/><stop offset=".1287" stop-color="#a5ff5a"/><stop offset=".1504" stop-color="#d0ff2f"/><stop offset=".1656" stop-color="#ffff00"/><stop offset=".1663" stop-color="#fffd00"/><stop offset=".1695" stop-color="#ff9d00"/><stop offset=".1824" stop-color="#ff7b00"/><stop offset=".1857" stop-color="#ffdb00"/><stop offset=".578" stop-color="#ffdb00"/><stop offset=".5783" stop-color="#ff0000"/><stop offset=".5783" stop-color="#ed0000"/><stop offset=".5801" stop-color="#ed0000"/><stop offset=".5807" stop-color="#fb0000"/><stop offset=".5815" stop-color="#ff0000"/><stop offset=".5856" stop-color="#ff1200"/><stop offset=".5859" stop-color="#ffab00"/><stop offset=".591" stop-color="#ffd000"/><stop offset=".6108" stop-color="#ffdb00"/><stop offset=".6343" stop-color="#ffea00"/><stop offset=".6422" stop-color="#fffe00"/><stop offset="1" stop-color="#fffe00"/></linearGradient>
<linearGradient id="g39" x1="0" y1="0" x2="0" y2="1"><stop offset="0" stop-color="#55ffaa"/><stop offset=".0353" stop-color="#5fffa0"/><stop offset=".0483" stop-color="#64ff9b"/><stop offset=".0931" stop-color="#7eff81"/><stop offset=".0949" stop-color="#80ff7f"/><stop offset=".1328" stop-color="#a9ff56"/><stop offset=".1544" stop-color="#d3ff2c"/><stop offset=".1692" stop-color="#ffff00"/><stop offset=".1703" stop-color="#fffc00"/><stop offset=".1736" stop-color="#ff9d00"/><stop offset=".1877" stop-color="#ff7b00"/><stop offset=".191" stop-color="#ffdb00"/><stop offset=".578" stop-color="#ffdb00"/><stop offset=".5783" stop-color="#ff0000"/><stop offset=".5783" stop-color="#ed0000"/><stop offset=".5801" stop-color="#ed0000"/><stop offset=".5807" stop-color="#fb0000"/><stop offset=".5815" stop-color="#ff0000"/><stop offset=".5856" stop-color="#ff1200"/><stop offset=".5859" stop-color="#ffab00"/><stop offset=".591" stop-color="#ffd000"/><stop offset=".6108" stop-color="#ffdb00"/><stop offset=".6343" stop-color="#ffea00"/><stop offset=".6422" stop-color="#fffe00"/><stop offset="1" stop-color="#fffe00"/></linearGradient>
<linearGradient id="g40" x1="0" y1="0" x2="0" y2="1"><stop offset="0" stop-color="#59ffa6"/><stop offset=".0395" stop-color="#64ff9b"/><stop offset=".0495" stop-color="#68ff97"/><stop offset=".0972" stop-color="#83ff7c"/><stop offset=".0973" stop-color="#83ff7c"/><stop offset=".137" stop-color="#adff52"/><stop offset=".1586" stop-color="#d5ff2a"/><stop offset=".1729" stop-color="#ffff00"/><stop offset=".1745" stop-color="#fffa00"/><stop offset=".1778" stop-color="#ff9d00"/><stop offset=".1932" stop-color="#ff7b00"/><stop offset=".1965" stop-color="#ffdb00"/><stop offset=".578" stop-color="#ffdb00"/><stop offset=".5783" stop-color="#ff0000"/><stop offset=".5783" stop-color="#ed0000"/><stop offset=".5801" stop-color="#ed0000"/><stop offset=".5807" stop-color="#fb0000"/><stop offset=".5815" stop-color="#ff0000"/><stop offset=".5856" stop-color="#ff1200"/><stop offset=".5859" stop-color="#ffab00"/><stop offset=".591" stop-color="#ffd000"/><stop offset=".6108" stop-color="#ffdb00"/><stop offset=".6343" stop-color="#ffea00"/><stop offset=".6422" stop-color="#fffe00"/><stop offset="1" stop-color="#fffe00"/></linearGradient>
<linearGradient id="g41" x1="0" y1="0" x2="0" y2="1"><stop offset="0" stop-color="#5cffa3"/><stop offset=".0439" stop-color="#69ff96"/><stop offset=".0507" stop-color="#6cff93"/><stop offset=".0996" stop-color="#86ff79"/><stop offset=".1016" stop-color="#87ff78"/><stop offset=".1413" stop-color="#b0ff4f"/><stop offset=".163" stop-color="#d8ff27"/><stop offset=".1768" stop-color="#ffff00"/><stop offset=".1789" stop-color="#fff900"/><stop offset=".1821" stop-color="#ff9d00"/><stop offset=".199" stop-color="#ff7b00"/><stop offset=".2022" stop-color="#ffdb00"/><stop offset=".578" stop-color="#ffdb00"/><stop offset=".5783" stop-color="#ff0000"/><stop offset=".5783" stop-color="#ed0000"/><stop offset=".5801" stop-color="#ed0000"/><stop offset=".5807" stop-color="#fb0000"/><stop offset=".5815" stop-color="#ff0000"/><stop offset=".5856" stop-color="#ff1200"/><stop offset=".5859" stop-color="#ffab00"/><stop offset=".591" stop-color="#ffd000"/><stop offset=".6108" stop-color="#ffdb00"/><stop offset=".6343" stop-color="#ffea00"/><stop offset=".6422" stop-color="#fffe00"/><stop offset="1" stop-color="#fffe00"/></linearGradient>
<linearGradient id="g42" x1="0" y1="0" x2="0" y2="1"><stop offset="0" stop-color="#5fffa0"/><stop offset=".0484" stop-color="#6dff92"/><stop offset=".052" stop-color="#6fff90"/><stop offset=".1021" stop-color="#88ff77"/><stop offset=".1061" stop-color="#8bff74"/><stop offset=".1459" stop-color="#b3ff4c"/><stop offset=".1675" stop-color="#daff25"/><stop offset=".1809" stop-color="#ffff00"/><stop offset=".1834" stop-color="#fff800"/><stop offset=".1866" stop-color="#ff9d00"/><stop offset=".2049" stop-color="#ff7b00"/><stop offset=".2082" stop-color="#ffdb00"/><stop offset=".578" stop-color="#ffdb00"/><stop offset=".5783" stop-color="#ff0000"/><stop offset=".5783" stop-color="#ed0000"/><stop offset=".5801" stop-color="#ed0000"/><stop offset=".5807" stop-color="#fb0000"/><stop offset=".5815" stop-color="#ff0000"/><stop offset=".5856" stop-color="#ff1200"/><stop offset=".5859" stop-color="#ffab00"/><stop offset=".591" stop-color="#ffd000"/><stop offset=".6108" stop-color="#ffdb00"/><stop offset=".6343" stop-color="#ffea00"/><stop offset=".6422" stop-color="#fffe00"/><stop offset="1" stop-color="#fffe00"/></linearGradient>
<linearGradient id="g43" x1="0" y1="0" x2="0" y2="1"><stop offset="0" stop-color="#62ff9d"/><stop offset=".053" stop-color="#71ff8e"/><stop offset=".0533" stop-color="#71ff8e"/><stop offset=".1046" stop-color="#8aff75"/><stop offset=".1108" stop-color="#8fff70"/><stop offset=".1505" stop-color="#b6ff49"/><stop offset=".1722" stop-color="#dbff24"/><stop offset=".1851" stop-color="#ffff00"/><stop offset=".1881" stop-color="#fff700"/><stop offset=".1913" stop-color="#ff9d00"/><stop offset=".2111" stop-color="#ff7b00"/><stop offset=".2144" stop-color="#ffdb00"/><stop offset=".578" stop-color="#ffdb00"/><stop offset=".5783" stop-color="#ff0000"/><stop offset=".5783" stop-color="#ed0000"/><stop offset=".5801" stop-color="#ed0000"/><stop offset=".5807" stop-color="#fb0000"/><stop offset=".5815" stop-color="#ff0000"/><stop offset=".5856" stop-color="#ff1200"/><stop offset=".5859" stop-color="#ffab00"/><stop offset=".591" stop-color="#ffd000"/><stop offset=".6108" stop-color="#ffdb00"/><stop offset=".6343" stop-color="#ffea00"/><stop offset=".6422" stop-color="#fffe00"/><stop offset="1" stop-color="#fffe00"/></linearGradient>
<linearGradient id="g44" x1="0" y1="0" x2="0" y2="1"><stop offset="0" stop-color="#64ff9b"/><stop offset=".0546" stop-color="#74ff8b"/><stop offset=".0578" stop-color="#75ff8a"/><stop offset=".1073" stop-color="#8dff72"/><stop offset=".1156" stop-color="#92ff6d"/><stop offset=".1553" stop-color="#b8ff47"/><stop offset=".177" stop-color="#ddff22"/><stop offset=".1895" stop-color="#ffff00"/><stop offset=".1929" stop-color="#fff600"/><stop offset=".1961" stop-color="#ff9d00"/><stop offset=".2174" stop-color="#ff7b00"/><stop offset=".2207" stop-color="#ffdb00"/><stop offset=".578" stop-color="#ffdb00"/><stop offset=".5783" stop-color="#ff0000"/><stop offset=".5783" stop-color="#ed0000"/><stop offset=".5801" stop-color="#ed0000"/><stop offset=".5807" stop-color="#fb0000"/><stop offset=".5815" stop-color="#ff0000"/><stop offset=".5856" stop-color="#ff1200"/><stop offset=".5859" stop-color="#ffab00"/><stop offset=".591" stop-color="#ffd000"/><stop offset=".6108" stop-color="#ffdb00"/><stop offset=".6343" stop-color="#ffea00"/><stop offset=".6422" stop-color="#fffe00"/><stop offset="1" stop-color="#fffe00"/></linearGradient>
<linearGradient id="g45" x1="0" y1="0" x2="0" y2="1"><stop offset="0" stop-color="#67ff98"/><stop offset=".056" stop-color="#76ff89"/><stop offset=".0628" stop-color="#79ff86"/><stop offset=".11" stop-color="#8fff70"/><stop offset=".1205" stop-color="#96ff69"/><stop offset=".1602" stop-color="#bbff44"/><stop offset=".1819" stop-color="#dfff20"/><stop offset=".194" stop-color="#ffff00"/><stop offset=".1978" stop-color="#fff500"/><stop offset=".201" stop-color="#ff9d00"/><stop offset=".2238" stop-color="#ff7b00"/><stop offset=".227" stop-color="#ffdb00"/><stop offset=".578" stop-color="#ffdb00"/><stop offset=".5783" stop-color="#ff0000"/><stop offset=".5783" stop-color="#ed0000"/><stop offset=".5801" stop-color="#ed0000"/><stop offset=".5807" stop-color="#fb0000"/><stop offset=".5815" stop-color="#ff0000"/><stop offset=".5856" stop-color="#ff1200"/><stop offset=".5859" stop-color="#ffab00"/><stop offset=".591" stop-color="#ffd000"/><stop offset=".6108" stop-color="#ffdb00"/><stop offset=".6343" stop-color="#ffea00"/><stop offset=".6422" stop-color="#fffe00"/><stop offset="1" stop-color="#fffe00"/></linearGradient>
<linearGradient id="g46" x1="0" y1="0" x2="0" y2="1"><stop offset="0" stop-color="#6aff95"/><stop offset=".0574" stop-color="#79ff86"/><stop offset=".0678" stop-color="#7dff82"/><stop offset=".1127" stop-color="#91ff6e"/><stop offset=".1256" stop-color="#99ff66"/><stop offset=".1653" stop-color="#bdff42"/><stop offset=".1869" stop-color="#e1ff1e"/><stop offset=".1985" stop-color="#ffff00"/><stop offset=".2028" stop-color="#fff400"/><stop offset=".2061" stop-color="#ff9d00"/><stop offset=".2302" stop-color="#ff7b00"/><stop offset=".2334" stop-color="#ffdb00"/><stop offset=".578" stop-color="#ffdb00"/><stop offset=".5783" stop-color="#ff0000"/><stop offset=".5783" stop-color="#ed0000"/><stop offset=".5801" stop-color="#ed0000"/><stop offset=".5807" stop-color="#fb0000"/><stop offset=".5815" stop-color="#ff0000"/><stop offset=".5856" stop-color="#ff1200"/><stop offset=".5859" stop-color="#ffab00"/><stop offset=".591" stop-color="#ffd000"/><stop offset=".6108" stop-color="#ffdb00"/><stop offset=".6343" stop-color="#ffea00"/><stop offset=".6422" stop-color="#fffe00"/><stop offset="1" stop-color="#fffe00"/></linearGradient>
<linearGradient id="g47" x1="0" y1="0" x2="0" y2="1"><stop offset="0" stop-color="#6cff93"/><stop offset=".0589" stop-color="#7bff84"/><stop offset=".073" stop-color="#80ff7f"/><stop offset=".1156" stop-color="#93ff6c"/><stop offset=".1308" stop-color="#9cff63"/><stop offset=".1705" stop-color="#c0ff3f"/><stop offset=".1922" stop-color="#e3ff1c"/><stop offset=".2032" stop-color="#ffff00"/><stop offset=".2081" stop-color="#fff300"/><stop offset=".2113" stop-color="#ff9d00"/><stop offset=".2366" stop-color="#ff7b00"/><stop offset=".2398" stop-color="#ffdb00"/><stop offset=".578" stop-color="#ffdb00"/><stop offset=".5783" stop-color="#ff0000"/><stop offset=".5783" stop-color="#ed0000"/><stop offset=".5801" stop-color="#ed0000"/><stop offset=".5807" stop-color="#fb0000"/><stop offset=".5815" stop-color="#ff0000"/><stop offset=".5856" stop-color="#ff1200"/><stop offset=".5859" stop-color="#ffab00"/><stop offset=".591" stop-color="#ffd000"/><stop offset=".6108" stop-color="#ffdb00"/><stop offset=".6343" stop-color="#ffea00"/><stop offset=".6422" stop-color="#fffe00"/><stop offset="1" stop-color="#fffe00"/></linearGradient>
<linearGradient id="g48" x1="0" y1="0" x2="0" y2="1"><stop offset="0" stop-color="#6fff90"/><stop offset=".0604" stop-color="#7eff81"/><stop offset=".0785" stop-color="#84ff7b"/><stop offset=".1186" stop-color="#95ff6a"/><stop offset=".1362" stop-color="#a0ff5f"/><stop offset=".1759" stop-color="#c2ff3d"/><stop offset=".1976" stop-color="#e4ff1b"/><stop offset=".2082" stop-color="#ffff00"/><stop offset=".2135" stop-color="#fff200"/><stop offset=".2167" stop-color="#ff9d00"/><stop offset=".2431" stop-color="#ff7b00"/><stop offset=".2464" stop-color="#ffdb00"/><stop offset=".578" stop-color="#ffdb00"/><stop offset=".5783" stop-color="#ff0000"/><stop offset=".5783" stop-color="#ed0000"/><stop offset=".5801" stop-color="#ed0000"/><stop offset=".5807" stop-color="#fb0000"/><stop offset=".5815" stop-color="#ff0000"/><stop offset=".5856" stop-color="#ff1200"/><stop offset=".5859" stop-color="#ffab00"/><stop offset=".591" stop-color="#ffd000"/><stop offset=".6108" stop-color="#ffdb00"/><stop offset=".6343" stop-color="#ffea00"/><stop offset=".6422" stop-color="#fffe00"/><stop offset="1" stop-color="#fffe00"/></linearGradient>
<linearGradient id="g49" x1="0" y1="0" x2="0" y2="1"><stop offset="0" stop-color="#71ff8e"/><stop offset=".0046" stop-color="#72ff8d"/><stop offset=".0619" stop-color="#80ff7f"/><stop offset=".084" stop-color="#87ff78"/><stop offset=".1217" stop-color="#97ff68"/><stop offset=".1418" stop-color="#a3ff5c"/><stop offset=".1815" stop-color="#c4ff3b"/><stop offset=".2032" stop-color="#e6ff19"/><stop offset=".2133" stop-color="#ffff00"/><stop offset=".219" stop-color="#fff100"/><stop offset=".2223" stop-color="#ff9d00"/><stop offset=".2497" stop-color="#ff7b00"/><stop offset=".2529" stop-color="#ffdb00"/><stop offset=".578" stop-color="#ffdb00"/><stop offset=".5783" stop-color="#ff0000"/><stop offset=".5783" stop-color="#ed0000"/><stop offset=".5801" stop-color="#ed0000"/><stop offset=".5807" stop-color="#fb0000"/><stop offset=".5815" stop-color="#ff0000"/><stop offset=".5856" stop-color="#ff1200"/><stop offset=".5859" stop-color="#ffab00"/><stop offset=".591" stop-color="#ffd000"/><stop offset=".6108" stop-color="#ffdb00"/><stop offset=".6343" stop-color="#ffea00"/><stop offset=".6422" stop-color="#fffe00"/><stop offset="1" stop-color="#fffe00"/></linearGradient>
<linearGradient id="g50" x1="0" y1="0" x2="0" y2="1"><stop offset="0" stop-color="#73ff8c"/><stop offset=".0102" stop-color="#75ff8a"/><stop offset=".0635" stop-color="#82ff7d"/><stop offset=".0896" stop-color="#8aff75"/><stop offset=".1247" stop-color="#99ff66"/><stop offset=".1474" stop-color="#a5ff5a"/><stop offset=".1871" stop-color="#c6ff39"/><stop offset=".2088" stop-color="#e7ff18"/><stop offset=".2185" stop-color="#ffff00"/><stop offset=".2246" stop-color="#fff000"/><stop offset=".2279" stop-color="#ff9d00"/><stop offset=".2563" stop-color="#ff7b00"/><stop offset=".2595" stop-color="#ffdb00"/><stop offset=".578" stop-color="#ffdb00"/><stop offset=".5783" stop-color="#ff0000"/><stop offset=".5783" stop-color="#ed0000"/><stop offset=".5801" stop-color="#ed0000"/><stop offset=".5807" stop-color="#fb0000"/><stop offset=".5815" stop-color="#ff0000"/><stop offset=".5856" stop-color="#ff1200"/><stop offset=".5859" stop-color="#ffab00"/><stop offset=".591" stop-color="#ffd000"/><stop offset=".6108" stop-color="#ffdb00"/><stop offset=".6343" stop-color="#ffea00"/><stop offset=".6422" stop-color="#fffe00"/><stop offset="1" stop-color="#fffe00"/></linearGradient>
<linearGradient id="g51" x1="0" y1="0" x2="0" y2="1"><stop offset="0" stop-color="#75ff8a"/><stop offset=".0158" stop-color="#78ff87"/><stop offset=".0651" stop-color="#83ff7c"/><stop offset=".0952" stop-color="#8dff72"/><stop offset=".1278" stop-color="#9aff65"/><stop offset=".1529" stop-color="#a7ff58"/><stop offset=".1927" stop-color="#c8ff37"/><stop offset=".2143" stop-color="#e8ff17"/><stop offset=".2237" stop-color="#ffff00"/><stop offset=".2302" stop-color="#ffef00"/><stop offset=".2334" stop-color="#ff9d00"/><stop offset=".2629" stop-color="#ff7b00"/><stop offset=".2661" stop-color="#ffdb00"/><stop offset=".578" stop-color="#ffdb00"/><stop offset=".5783" stop-color="#ff0000"/><stop offset=".5783" stop-color="#ed0000"/><stop offset=".5801" stop-color="#ed0000"/><stop offset=".5807" stop-color="#fb0000"/><stop offset=".5815" stop-color="#ff0000"/><stop offset=".5856" stop-color="#ff1200"/><stop offset=".5859" stop-color="#ffab00"/><stop offset=".591" stop-color="#ffd000"/><stop offset=".6108" stop-color="#ffdb00"/><stop offset=".6343" stop-color="#ffea00"/><stop offset=".6422" stop-color="#fffe00"/><stop offset="1" stop-color="#fffe00"/></linearGradient>
<linearGradient id="g52" x1="0" y1="0" x2="0" y2="1"><stop offset="0" stop-color="#76ff89"/><stop offset=".0212" stop-color="#7aff85"/><stop offset=".0666" stop-color="#85ff7a"/><stop offset=".1006" stop-color="#8fff70"/><stop offset=".1308" stop-color="#9bff64"/><stop offset=".1584" stop-color="#a9ff56"/><stop offset=".1981" stop-color="#c9ff36"/><stop offset=".2198" stop-color="#e9ff16"/><stop offset=".2289" stop-color="#ffff00"/><stop offset=".2357" stop-color="#ffef00"/><stop offset=".2389" stop-color="#ff9d00"/><stop offset=".2693" stop-color="#ff7b00"/><stop offset=".2726" stop-color="#ffdb00"/><stop offset=".578" stop-color="#ffdb00"/><stop offset=".5783" stop-color="#ff0000"/><stop offset=".5783" stop-color="#ed0000"/><stop offset=".5801" stop-color="#ed0000"/><stop offset=".5807" stop-color="#fb0000"/><stop offset=".5815" stop-color="#ff0000"/><stop offset=".5856" stop-color="#ff1200"/><stop offset=".5859" stop-color="#ffab00"/><stop offset=".591" stop-color="#ffd000"/><stop offset=".6108" stop-color="#ffdb00"/><stop offset=".6343" stop-color="#ffea00"/><stop offset=".6422" stop-color="#fffe00"/><stop offset="1" stop-color="#fffe00"/></linearGradient>
<linearGradient id="g53" x1="0" y1="0" x2="0" y2="1"><stop offset="0" stop-color="#77ff88"/><stop offset=".0267" stop-color="#7cff83"/><stop offset=".0681" stop-color="#85ff7a"/><stop offset=".1061" stop-color="#91ff6e"/><stop offset=".1338" stop-color="#9bff64"/><stop offset=".1638" stop-color="#aaff55"/><stop offset=".2035" stop-color="#caff35"/><stop offset=".2252" stop-color="#e9ff16"/><stop offset=".2342" stop-color="#ffff00"/><stop offset=".2411" stop-color="#ffef00"/><stop offset=".2443" stop-color="#ff9d00"/><stop offset=".2757" stop-color="#ff7b00"/><stop offset=".2789" stop-color="#ffdb00"/><stop offset=".578" stop-color="#ffdb00"/><stop offset=".5783" stop-color="#ff0000"/><stop offset=".5783" stop-color="#ed0000"/><stop offset=".5801" stop-color="#ed0000"/><stop offset=".5807" stop-color="#fb0000"/><stop offset=".5815" stop-color="#ff0000"/><stop offset=".5856" stop-color="#ff1200"/><stop offset=".5859" stop-color="#ffab00"/><stop offset=".591" stop-color="#ffd000"/><stop offset=".6108" stop-color="#ffdb00"/><stop offset=".6343" stop-color="#ffea00"/><stop offset=".6422" stop-color="#fffe00"/><stop offset="1" stop-color="#fffe00"/></linearGradient>
<linearGradient id="g54" x1="0" y1="0" x2="0" y2="1"><stop offset="0" stop-color="#77ff88"/><stop offset=".0321" stop-color="#7dff82"/><stop offset=".0696" stop-color="#85ff7a"/><stop offset=".1115" stop-color="#92ff6d"/><stop offset=".1368" stop-color="#9bff64"/><stop offset=".1693" stop-color="#abff54"/><stop offset=".209" stop-color="#caff35"/><stop offset=".2306" stop-color="#eaff15"/><stop offset=".2397" stop-color="#ffff00"/><stop offset=".2465" stop-color="#ffef00"/><stop offset=".2498" stop-color="#ff9d00"/><stop offset=".282" stop-color="#ff7b00"/><stop offset=".2853" stop-color="#ffdb00"/><stop offset=".578" stop-color="#ffdb00"/><stop offset=".5783" stop-color="#ff0000"/><stop offset=".5783" stop-color="#ed0000"/><stop offset=".5801" stop-color="#ed0000"/><stop offset=".5807" stop-color="#fb0000"/><stop offset=".5815" stop-color="#ff0000"/><stop offset=".5856" stop-color="#ff1200"/><stop offset=".5859" stop-color="#ffab00"/><stop offset=".591" stop-color="#ffd000"/><stop offset=".6108" stop-color="#ffdb00"/><stop offset=".6343" stop-color="#ffea00"/><stop offset=".6422" stop-color="#fffe00"/><stop offset="1" stop-color="#fffe00"/></linearGradient>
<linearGradient id="g55" x1="0" y1="0" x2="0" y2="1"><stop offset="0" stop-color="#76ff89"/><stop offset=".0375" stop-color="#7dff82"/><stop offset=".0711" stop-color="#85ff7a"/><stop offset=".1169" stop-color="#92ff6d"/><stop offset=".1398" stop-color="#9aff65"/><stop offset=".1747" stop-color="#abff54"/><stop offset=".2144" stop-color="#caff35"/><stop offset=".2361" stop-color="#e9ff16"/><stop offset=".2452" stop-color="#ffff00"/><stop offset=".2519" stop-color="#ffef00"/><stop offset=".2552" stop-color="#ff9d00"/><stop offset=".2883" stop-color="#ff7b00"/><stop offset=".2916" stop-color="#ffdb00"/><stop offset=".578" stop-color="#ffdb00"/><stop offset=".5783" stop-color="#ff0000"/><stop offset=".5783" stop-color="#ed0000"/><stop offset=".5801" stop-color="#ed0000"/><stop offset=".5807" stop-color="#fb0000"/><stop offset=".5815" stop-color="#ff0000"/><stop offset=".5856" stop-color="#ff1200"/><stop offset=".5859" stop-color="#ffab00"/><stop offset=".591" stop-color="#ffd000"/><stop offset=".6108" stop-color="#ffdb00"/><stop offset=".6343" stop-color="#ffea00"/><stop offset=".6422" stop-color="#fffe00"/><stop offset="1" stop-color="#fffe00"/></linearGradient>
<linearGradient id="g56" x1="0" y1="0" x2="0" y2="1"><stop offset="0" stop-color="#76ff89"/><stop offset=".0429" stop-color="#7dff82"/><stop offset=".0727" stop-color="#84ff7b"/><stop offset=".1223" stop-color="#92ff6d"/><stop offset=".1427" stop-color="#99ff66"/><stop offset=".1801" stop-color="#abff54"/><stop offset=".2198" stop-color="#caff35"/><stop offset=".2415" stop-color="#e9ff16"/><stop offset=".2508" stop-color="#ffff00"/><stop offset=".2573" stop-color="#fff000"/><stop offset=".2606" stop-color="#ff9d00"/><stop offset=".2947" stop-color="#ff7b00"/><stop offset=".298" stop-color="#ffdb00"/><stop offset=".578" stop-color="#ffdb00"/><stop offset=".5783" stop-color="#ff0000"/><stop offset=".5783" stop-color="#ed0000"/><stop offset=".5801" stop-color="#ed0000"/><stop offset=".5807" stop-color="#fb0000"/><stop offset=".5815" stop-color="#ff0000"/><stop offset=".5856" stop-color="#ff1200"/><stop offset=".5859" stop-color="#ffab00"/><stop offset=".591" stop-color="#ffd000"/><stop offset=".6108" stop-color="#ffdb00"/><stop offset=".6343" stop-color="#ffea00"/><stop offset=".6422" stop-color="#fffe00"/><stop offset="1" stop-color="#fffe00"/></linearGradient>
<linearGradient id="g57" x1="0" y1="0" x2="0" y2="1"><stop offset="0" stop-color="#75ff8a"/><stop offset=".0483" stop-color="#7dff82"/><stop offset=".0742" stop-color="#83ff7c"/><stop offset=".1277" stop-color="#92ff6d"/><stop offset=".1457" stop-color="#98ff67"/><stop offset=".1855" stop-color="#abff54"/><stop offset=".2252" stop-color="#caff35"/><stop offset=".2469" stop-color="#e8ff17"/><stop offset=".2564" stop-color="#ffff00"/><stop offset=".2627" stop-color="#fff000"/><stop offset=".266" stop-color="#ff9d00"/><stop offset=".3013" stop-color="#ff7b00"/><stop offset=".3045" stop-color="#ffdb00"/><stop offset=".578" stop-color="#ffdb00"/><stop offset=".5783" stop-color="#ff0000"/><stop offset=".5783" stop-color="#ed0000"/><stop offset=".5801" stop-color="#ed0000"/><stop offset=".5807" stop-color="#fb0000"/><stop offset=".5815" stop-color="#ff0000"/><stop offset=".5856" stop-color="#ff1200"/><stop offset=".5859" stop-color="#ffab00"/><stop offset=".591" stop-color="#ffd000"/><stop offset=".6108" stop-color="#ffdb00"/><stop offset=".6343" stop-color="#ffea00"/><stop offset=".6422" stop-color="#fffe00"/><stop offset="1" stop-color="#fffe00"/></linearGradient>
<linearGradient id="g58" x1="0" y1="0" x2="0" y2="1"><stop offset="0" stop-color="#74ff8b"/><stop offset=".0537" stop-color="#7dff82"/><stop offset=".0757" stop-color="#82ff7d"/><stop offset=".1331" stop-color="#92ff6d"/><stop offset=".1487" stop-color="#97ff68"/><stop offset=".1909" stop-color="#abff54"/><stop offset=".2306" stop-color="#c9ff36"/><stop offset=".2522" stop-color="#e8ff17"/><stop offset=".262" stop-color="#ffff00"/><stop offset=".2681" stop-color="#fff100"/><stop offset=".2714" stop-color="#ff9d00"/><stop offset=".308" stop-color="#ff7b00"/><stop offset=".3112" stop-color="#ffdb00"/><stop offset=".578" stop-color="#ffdb00"/><stop offset=".5783" stop-color="#ff0000"/><stop offset=".5783" stop-color="#ed0000"/><stop offset=".5801" stop-color="#ed0000"/><stop offset=".5807" stop-color="#fb0000"/><stop offset=".5815" stop-color="#ff0000"/><stop offset=".5856" stop-color="#ff1200"/><stop offset=".5859" stop-color="#ffab00"/><stop offset=".591" stop-color="#ffd000"/><stop offset=".6108" stop-color="#ffdb00"/><stop offset=".6343" stop-color="#ffea00"/><stop offset=".6422" stop-color="#fffe00"/><stop offset="1" stop-color="#fffe00"/></linearGradient>
<linearGradient id="g59" x1="0" y1="0" x2="0" y2="1"><stop offset="0" stop-color="#74ff8b"/><stop offset=".059" stop-color="#7eff81"/><stop offset=".0772" stop-color="#81ff7e"/><stop offset=".1384" stop-color="#92ff6d"/><stop offset=".1516" stop-color="#97ff68"/><stop offset=".1962" stop-color="#aaff55"/><stop offset=".2359" stop-color="#c9ff36"/><stop offset=".2576" stop-color="#e8ff17"/><stop offset=".2675" stop-color="#ffff00"/><stop offset=".2735" stop-color="#fff100"/><stop offset=".2767" stop-color="#ff9d00"/><stop offset=".3148" stop-color="#ff7b00"/><stop offset=".3181" stop-color="#ffdb00"/><stop offset=".578" stop-color="#ffdb00"/><stop offset=".5783" stop-color="#ff0000"/><stop offset=".5783" stop-color="#ed0000"/><stop offset=".5801" stop-color="#ed0000"/><stop offset=".5807" stop-color="#fb0000"/><stop offset=".5815" stop-color="#ff0000"/><stop offset=".5856" stop-color="#ff1200"/><stop offset=".5859" stop-color="#ffab00"/><stop offset=".591" stop-color="#ffd000"/><stop offset=".6108" stop-color="#ffdb00"/><stop offset=".6343" stop-color="#ffea00"/><stop offset=".6422" stop-color="#fffe00"/><stop offset="1" stop-color="#fffe00"/></linearGradient>
<linearGradient id="g60" x1="0" y1="0" x2="0" y2="1"><stop offset="0" stop-color="#73ff8c"/><stop offset=".0644" stop-color="#7eff81"/><stop offset=".0787" stop-color="#81ff7e"/><stop offset=".1438" stop-color="#92ff6d"/><stop offset=".1545" stop-color="#96ff69"/><stop offset=".2015" stop-color="#aaff55"/><stop offset=".2412" stop-color="#c9ff36"/><stop offset=".2629" stop-color="#e7ff18"/><stop offset=".2731" stop-color="#ffff00"/><stop offset=".2788" stop-color="#fff200"/><stop offset=".282" stop-color="#ff9d00"/><stop offset=".3218" stop-color="#ff7b00"/><stop offset=".3251" stop-color="#ffdb00"/><stop offset=".578" stop-color="#ffdb00"/><stop offset=".5783" stop-color="#ff0000"/><stop offset=".5783" stop-color="#ed0000"/><stop offset=".5801" stop-color="#ed0000"/><stop offset=".5807" stop-color="#fb0000"/><stop offset=".5815" stop-color="#ff0000"/><stop offset=".5856" stop-color="#ff1200"/><stop offset=".5859" stop-color="#ffab00"/><stop offset=".591" stop-color="#ffd000"/><stop offset=".6108" stop-color="#ffdb00"/><stop offset=".6343" stop-color="#ffea00"/><stop offset=".6422" stop-color="#fffe00"/><stop offset="1" stop-color="#fffe00"/></linearGradient>
<linearGradient id="g61" x1="0" y1="0" x2="0" y2="1"><stop offset="0" stop-color="#73ff8c"/><stop offset=".0697" stop-color="#7eff81"/><stop offset=".0802" stop-color="#80ff7f"/><stop offset=".1491" stop-color="#92ff6d"/><stop offset=".1575" stop-color="#95ff6a"/><stop offset=".2069" stop-color="#aaff55"/><stop offset=".2466" stop-color="#c8ff37"/><stop offset=".2682" stop-color="#e7ff18"/><stop offset=".2786" stop-color="#ffff00"/><stop offset=".2841" stop-color="#fff200"/><stop offset=".2874" stop-color="#ff9d00"/><stop offset=".3289" stop-color="#ff7b00"/><stop offset=".3322" stop-color="#ffdb00"/><stop offset=".578" stop-color="#ffdb00"/><stop offset=".5783" stop-color="#ff0000"/><stop offset=".5783" stop-color="#ed0000"/><stop offset=".5801" stop-color="#ed0000"/><stop offset=".5807" stop-color="#fb0000"/><stop offset=".5815" stop-color="#ff0000"/><stop offset=".5856" stop-color="#ff1200"/><stop offset=".5859" stop-color="#ffab00"/><stop offset=".591" stop-color="#ffd000"/><stop offset=".6108" stop-color="#ffdb00"/><stop offset=".6343" stop-color="#ffea00"/><stop offset=".6422" stop-color="#fffe00"/><stop offset="1" stop-color="#fffe00"/></linearGradient>
<linearGradient id="g62" x1="0" y1="0" x2="0" y2="1"><stop offset="0" stop-color="#72ff8d"/><stop offset=".075" stop-color="#7eff81"/><stop offset=".0817" stop-color="#7fff80"/><stop offset=".1545" stop-color="#92ff6d"/><stop offset=".1604" stop-color="#94ff6b"/><stop offset=".2122" stop-color="#aaff55"/><stop offset=".2519" stop-color="#c8ff37"/><stop offset=".2736" stop-color="#e7ff18"/><stop offset=".2841" stop-color="#ffff00"/><stop offset=".2895" stop-color="#fff300"/><stop offset=".2927" stop-color="#ff9d00"/><stop offset=".3025" stop-color="#ff8a00"/><stop offset=".3332" stop-color="#ff9200"/><stop offset=".3374" stop-color="#ffc100"/><stop offset=".3374" stop-color="#ffea00"/><stop offset=".3377" stop-color="#ffff00"/><stop offset=".338" stop-color="#edff12"/><stop offset=".3382" stop-color="#ffff00"/><stop offset=".3384" stop-color="#ffdb00"/><stop offset=".578" stop-color="#ffdb00"/><stop offset=".5783" stop-color="#ff0000"/><stop offset=".5783" stop-color="#ed0000"/><stop offset=".5801" stop-color="#ed0000"/><stop offset=".5807" stop-color="#fb0000"/><stop offset=".5815" stop-color="#ff0000"/><stop offset=".5856" stop-color="#ff1200"/><stop offset=".5859" stop-color="#ffab00"/><stop offset=".591" stop-color="#ffd000"/><stop offset=".6108" stop-color="#ffdb00"/><stop offset=".6343" stop-color="#ffea00"/><stop offset=".6422" stop-color="#fffe00"/><stop offset="1" stop-color="#fffe00"/></linearGradient>
<linearGradient id="g63" x1="0" y1="0" x2="0" y2="1"><stop offset="0" stop-color="#72ff8d"/><stop offset=".0804" stop-color="#7eff81"/><stop offset=".0832" stop-color="#7eff81"/><stop offset=".1598" stop-color="#92ff6d"/><stop offset=".1634" stop-color="#93ff6c"/><stop offset=".2176" stop-color="#aaff55"/><stop offset=".2573" stop-color="#c8ff37"/><stop offset=".279" stop-color="#e6ff19"/><stop offset=".2897" stop-color="#ffff00"/><stop offset=".2949" stop-color="#fff300"/><stop offset=".2981" stop-color="#ff9d00"/><stop offset=".3079" stop-color="#ff8a00"/><stop offset=".3326" stop-color="#ff9200"/><stop offset=".3387" stop-color="#ffc100"/><stop offset=".3387" stop-color="#ffea00"/><stop offset=".34" stop-color="#ffff00"/><stop offset=".3411" stop-color="#edff12"/><stop offset=".3413" stop-color="#ffff00"/><stop offset=".3415" stop-color="#ffdb00"/><stop offset=".578" stop-color="#ffdb00"/><stop offset=".5783" stop-color="#ff0000"/><stop offset=".5783" stop-color="#ed0000"/><stop offset=".5801" stop-color="#ed0000"/><stop offset=".5807" stop-color="#fb0000"/><stop offset=".5815" stop-color="#ff0000"/><stop offset=".5856" stop-color="#ff1200"/><stop offset=".5859" stop-color="#ffab00"/><stop offset=".591" stop-color="#ffd000"/><stop offset=".6108" stop-color="#ffdb00"/><stop offset=".6343" stop-color="#ffea00"/><stop offset=".6422" stop-color="#fffe00"/><stop offset="1" stop-color="#fffe00"/></linearGradient>
<linearGradient id="g64" x1="0" y1="0" x2="0" y2="1"><stop offset="0" stop-color="#71ff8e"/><stop offset=".0847" stop-color="#7eff81"/><stop offset=".0858" stop-color="#7eff81"/><stop offset=".1652" stop-color="#92ff6d"/><stop offset=".1663" stop-color="#92ff6d"/><stop offset=".223" stop-color="#aaff55"/><stop offset=".2627" stop-color="#c8ff37"/><stop offset=".2844" stop-color="#e6ff19"/><stop offset=".2953" stop-color="#ffff00"/><stop offset=".3003" stop-color="#fff300"/><stop offset=".3035" stop-color="#ff9d00"/><stop offset=".3133" stop-color="#ff8a00"/><stop offset=".3332" stop-color="#ff9200"/><stop offset=".341" stop-color="#ffc100"/><stop offset=".3424" stop-color="#ffea00"/><stop offset=".3439" stop-color="#ffff00"/><stop offset=".3453" stop-color="#edff12"/><stop offset=".3454" stop-color="#ffff00"/><stop offset=".3456" stop-color="#ffdb00"/><stop offset=".578" stop-color="#ffdb00"/><stop offset=".5783" stop-color="#ff0000"/><stop offset=".5783" stop-color="#ed0000"/><stop offset=".5801" stop-color="#ed0000"/><stop offset=".5807" stop-color="#fb0000"/><stop offset=".5815" stop-color="#ff0000"/><stop offset=".5856" stop-color="#ff1200"/><stop offset=".5859" stop-color="#ffab00"/><stop offset=".591" stop-color="#ffd000"/><stop offset=".6108" stop-color="#ffdb00"/><stop offset=".6343" stop-color="#ffea00"/><stop offset=".6422" stop-color="#fffe00"/><stop offset="1" stop-color="#fffe00"/></linearGradient>
<linearGradient id="g65" x1="0" y1="0" x2="0" y2="1"><stop offset="0" stop-color="#71ff8e"/><stop offset=".0862" stop-color="#7dff82"/><stop offset=".0912" stop-color="#7eff81"/><stop offset=".1693" stop-color="#91ff6e"/><stop offset=".1706" stop-color="#92ff6d"/><stop offset=".2284" stop-color="#aaff55"/><stop offset=".2681" stop-color="#c7ff38"/><stop offset=".2898" stop-color="#e5ff1a"/><stop offset=".3009" stop-color="#ffff00"/><stop offset=".3057" stop-color="#fff400"/><stop offset=".3089" stop-color="#ff9d00"/><stop offset=".3187" stop-color="#ff8a00"/><stop offset=".3347" stop-color="#ff9200"/><stop offset=".3444" stop-color="#ffc100"/><stop offset=".3475" stop-color="#ffea00"/><stop offset=".3491" stop-color="#ffff00"/><stop offset=".3504" stop-color="#edff12"/><stop offset=".3505" stop-color="#ffff00"/><stop offset=".3508" stop-color="#ffdb00"/><stop offset=".578" stop-color="#ffdb00"/><stop offset=".5783" stop-color="#ff0000"/><stop offset=".5783" stop-color="#ed0000"/><stop offset=".5801" stop-color="#ed0000"/><stop offset=".5807" stop-color="#fb0000"/><stop offset=".5815" stop-color="#ff0000"/><stop offset=".5856" stop-color="#ff1200"/><stop offset=".5859" stop-color="#ffab00"/><stop offset=".591" stop-color="#ffd000"/><stop offset=".6108" stop-color="#ffdb00"/><stop offset=".6343" stop-color="#ffea00"/><stop offset=".6422" stop-color="#fffe00"/><stop offset="1" stop-color="#fffe00"/></linearGradient>
<linearGradient id="g66" x1="0" y1="0" x2="0" y2="1"><stop offset="0" stop-color="#70ff8f"/><stop offset=".0877" stop-color="#7cff83"/><stop offset=".0966" stop-color="#7eff81"/><stop offset=".1723" stop-color="#91ff6e"/><stop offset=".1761" stop-color="#92ff6d"/><stop offset=".2338" stop-color="#a9ff56"/><stop offset=".2735" stop-color="#c7ff38"/><stop offset=".2952" stop-color="#e5ff1a"/><stop offset=".3065" stop-color="#ffff00"/><stop offset=".3111" stop-color="#fff400"/><stop offset=".3143" stop-color="#ff9d00"/><stop offset=".3241" stop-color="#ff8a00"/><stop offset=".3377" stop-color="#ff9200"/><stop offset=".3492" stop-color="#ffc100"/><stop offset=".3542" stop-color="#ffea00"/><stop offset=".3557" stop-color="#ffff00"/><stop offset=".3571" stop-color="#edff12"/><stop offset=".3572" stop-color="#ffff00"/><stop offset=".3574" stop-color="#ffdb00"/><stop offset=".578" stop-color="#ffdb00"/><stop offset=".5783" stop-color="#ff0000"/><stop offset=".5783" stop-color="#ed0000"/><stop offset=".5801" stop-color="#ed0000"/><stop offset=".5807" stop-color="#fb0000"/><stop offset=".5815" stop-color="#ff0000"/><stop offset=".5856" stop-color="#ff1200"/><stop offset=".5859" stop-color="#ffab00"/><stop offset=".591" stop-color="#ffd000"/><stop offset=".6108" stop-color="#ffdb00"/><stop offset=".6343" stop-color="#ffea00"/><stop offset=".6422" stop-color="#fffe00"/><stop offset="1" stop-color="#fffe00"/></linearGradient>
<linearGradient id="g67" x1="0" y1="0" x2="0" y2="1"><stop offset="0" stop-color="#70ff8f"/><stop offset=".0892" stop-color="#7cff83"/><stop offset=".1021" stop-color="#7eff81"/><stop offset=".1753" stop-color="#90ff6f"/><stop offset=".1815" stop-color="#92ff6d"/><stop offset=".2393" stop-color="#a9ff56"/><stop offset=".279" stop-color="#c7ff38"/><stop offset=".3007" stop-color="#e5ff1a"/><stop offset=".3121" stop-color="#ffff00"/><stop offset=".3165" stop-color="#fff500"/><stop offset=".3198" stop-color="#ff9d00"/><stop offset=".3295" stop-color="#ff8a00"/><stop offset=".3419" stop-color="#ff9200"/><stop offset=".3552" stop-color="#ffc100"/><stop offset=".362" stop-color="#ffea00"/><stop offset=".3635" stop-color="#ffff00"/><stop offset=".3648" stop-color="#edff12"/><stop offset=".365" stop-color="#ffff00"/><stop offset=".3652" stop-color="#ffdb00"/><stop offset=".578" stop-color="#ffdb00"/><stop offset=".5783" stop-color="#ff0000"/><stop offset=".5783" stop-color="#ed0000"/><stop offset=".5801" stop-color="#ed0000"/><stop offset=".5807" stop-color="#fb0000"/><stop offset=".5815" stop-color="#ff0000"/><stop offset=".5856" stop-color="#ff1200"/><stop offset=".5859" stop-color="#ffab00"/><stop offset=".591" stop-color="#ffd000"/><stop offset=".6108" stop-color="#ffdb00"/><stop offset=".6343" stop-color="#ffea00"/><stop offset=".6422" stop-color="#fffe00"/><stop offset="1" stop-color="#fffe00"/></linearGradient>
<linearGradient id="g68" x1="0" y1="0" x2="0" y2="1"><stop offset="0" stop-color="#6fff90"/><stop offset=".0908" stop-color="#7bff84"/><stop offset=".1076" stop-color="#7eff81"/><stop offset=".1783" stop-color="#8fff70"/><stop offset=".187" stop-color="#92ff6d"/><stop offset=".2448" stop-color="#a9ff56"/><stop offset=".2845" stop-color="#c6ff39"/><stop offset=".3062" stop-color="#e4ff1b"/><stop offset=".3178" stop-color="#ffff00"/><stop offset=".3221" stop-color="#fff500"/><stop offset=".3253" stop-color="#ff9d00"/><stop offset=".335" stop-color="#ff8a00"/><stop offset=".3476" stop-color="#ff9200"/><stop offset=".3622" stop-color="#ffc100"/><stop offset=".3704" stop-color="#ffea00"/><stop offset=".3719" stop-color="#ffff00"/><stop offset=".3733" stop-color="#edff12"/><stop offset=".3734" stop-color="#ffff00"/><stop offset=".3736" stop-color="#ffdb00"/><stop offset=".578" stop-color="#ffdb00"/><stop offset=".5783" stop-color="#ff0000"/><stop offset=".5783" stop-color="#ed0000"/><stop offset=".5801" stop-color="#ed0000"/><stop offset=".5807" stop-color="#fb0000"/><stop offset=".5815" stop-color="#ff0000"/><stop offset=".5856" stop-color="#ff1200"/><stop offset=".5859" stop-color="#ffab00"/><stop offset=".591" stop-color="#ffd000"/><stop offset=".6108" stop-color="#ffdb00"/><stop offset=".6343" stop-color="#ffea00"/><stop offset=".6422" stop-color="#fffe00"/><stop offset="1" stop-color="#fffe00"/></linearGradient>
<linearGradient id="g69" x1="0" y1="0" x2="0" y2="1"><stop offset="0" stop-color="#6fff90"/><stop offset=".0923" stop-color="#7aff85"/><stop offset=".1132" stop-color="#7eff81"/><stop offset=".1814" stop-color="#8eff71"/><stop offset=".1926" stop-color="#92ff6d"/><stop offset=".2504" stop-color="#a9ff56"/><stop offset=".2901" stop-color="#c6ff39"/><stop offset=".3118" stop-color="#e4ff1b"/><stop offset=".3236" stop-color="#ffff00"/><stop offset=".3276" stop-color="#fff600"/><stop offset=".3309" stop-color="#ff9d00"/><stop offset=".3406" stop-color="#ff8a00"/><stop offset=".3548" stop-color="#ff9200"/><stop offset=".3702" stop-color="#ffc100"/><stop offset=".379" stop-color="#ffea00"/><stop offset=".3806" stop-color="#ffff00"/><stop offset=".3819" stop-color="#edff12"/><stop offset=".382" stop-color="#ffff00"/><stop offset=".3823" stop-color="#ffdb00"/><stop offset=".578" stop-color="#ffdb00"/><stop offset=".5783" stop-color="#ff0000"/><stop offset=".5783" stop-color="#ed0000"/><stop offset=".5801" stop-color="#ed0000"/><stop offset=".5807" stop-color="#fb0000"/><stop offset=".5815" stop-color="#ff0000"/><stop offset=".5856" stop-color="#ff1200"/><stop offset=".5859" stop-color="#ffab00"/><stop offset=".591" stop-color="#ffd000"/><stop offset=".6108" stop-color="#ffdb00"/><stop offset=".6343" stop-color="#ffea00"/><stop offset=".6422" stop-color="#fffe00"/><stop offset="1" stop-color="#fffe00"/></linearGradient>
<linearGradient id="g70" x1="0" y1="0" x2="0" y2="1"><stop offset="0" stop-color="#6eff91"/><stop offset=".0939" stop-color="#7aff85"/><stop offset=".1188" stop-color="#7eff81"/><stop offset=".1845" stop-color="#8dff72"/><stop offset=".1983" stop-color="#91ff6e"/><stop offset=".256" stop-color="#a9ff56"/><stop offset=".2957" stop-color="#c6ff39"/><stop offset=".3174" stop-color="#e3ff1c"/><stop offset=".3295" stop-color="#ffff00"/><stop offset=".3333" stop-color="#fff600"/><stop offset=".3365" stop-color="#ff9d00"/><stop offset=".3463" stop-color="#ff8a00"/><stop offset=".3624" stop-color="#ff9200"/><stop offset=".3785" stop-color="#ffc100"/><stop offset=".3882" stop-color="#ffea00"/><stop offset=".3897" stop-color="#ffff00"/><stop offset=".3911" stop-color="#edff12"/><stop offset=".3912" stop-color="#ffff00"/><stop offset=".3914" stop-color="#ffdb00"/><stop offset=".578" stop-color="#ffdb00"/><stop offset=".5783" stop-color="#ff0000"/><stop offset=".5783" stop-color="#ed0000"/><stop offset=".5801" stop-color="#ed0000"/><stop offset=".5807" stop-color="#fb0000"/><stop offset=".5815" stop-color="#ff0000"/><stop offset=".5856" stop-color="#ff1200"/><stop offset=".5859" stop-color="#ffab00"/><stop offset=".591" stop-color="#ffd000"/><stop offset=".6108" stop-color="#ffdb00"/><stop offset=".6343" stop-color="#ffea00"/><stop offset=".6422" stop-color="#fffe00"/><stop offset="1" stop-color="#fffe00"/></linearGradient>
<linearGradient id="g71" x1="0" y1="0" x2="0" y2="1"><stop offset="0" stop-color="#6eff91"/><stop offset=".0955" stop-color="#79ff86"/><stop offset=".1245" stop-color="#7eff81"/><stop offset=".1876" stop-color="#8cff73"/><stop offset=".2039" stop-color="#91ff6e"/><stop offset=".2617" stop-color="#a8ff57"/><stop offset=".3014" stop-color="#c6ff39"/><stop offset=".323" stop-color="#e3ff1c"/><stop offset=".3354" stop-color="#ffff00"/><stop offset=".3389" stop-color="#fff700"/><stop offset=".3422" stop-color="#ff9d00"/><stop offset=".3519" stop-color="#ff8a00"/><stop offset=".3704" stop-color="#ff9200"/><stop offset=".3874" stop-color="#ffc100"/><stop offset=".398" stop-color="#ffea00"/><stop offset=".3995" stop-color="#ffff00"/><stop offset=".4009" stop-color="#edff12"/><stop offset=".401" stop-color="#ffff00"/><stop offset=".4012" stop-color="#ffdb00"/><stop offset=".578" stop-color="#ffdb00"/><stop offset=".5783" stop-color="#ff0000"/><stop offset=".5783" stop-color="#ed0000"/><stop offset=".5801" stop-color="#ed0000"/><stop offset=".5807" stop-color="#fb0000"/><stop offset=".5815" stop-color="#ff0000"/><stop offset=".5856" stop-color="#ff1200"/><stop offset=".5859" stop-color="#ffab00"/><stop offset=".591" stop-color="#ffd000"/><stop offset=".6108" stop-color="#ffdb00"/><stop offset=".6343" stop-color="#ffea00"/><stop offset=".6422" stop-color="#fffe00"/><stop offset="1" stop-color="#fffe00"/></linearGradient>
<linearGradient id="g72" x1="0" y1="0" x2="0" y2="1"><stop offset="0" stop-color="#6dff92"/><stop offset=".0971" stop-color="#78ff87"/><stop offset=".1302" stop-color="#7eff81"/><stop offset=".1907" stop-color="#8cff73"/><stop offset=".2096" stop-color="#91ff6e"/><stop offset=".2674" stop-color="#a8ff57"/><stop offset=".3071" stop-color="#c5ff3a"/><stop offset=".3287" stop-color="#e3ff1c"/><stop offset=".3413" stop-color="#ffff00"/><stop offset=".3446" stop-color="#fff700"/><stop offset=".3479" stop-color="#ff9d00"/><stop offset=".3576" stop-color="#ff8a00"/><stop offset=".3787" stop-color="#ff9200"/><stop offset=".3969" stop-color="#ffc100"/><stop offset=".4086" stop-color="#ffea00"/><stop offset=".4101" stop-color="#ffff00"/><stop offset=".4114" stop-color="#edff12"/><stop offset=".4116" stop-color="#ffff00"/><stop offset=".4118" stop-color="#ffdb00"/><stop offset=".578" stop-color="#ffdb00"/><stop offset=".5783" stop-color="#ff0000"/><stop offset=".5783" stop-color="#ed0000"/><stop offset=".5801" stop-color="#ed0000"/><stop offset=".5807" stop-color="#fb0000"/><stop offset=".5815" stop-color="#ff0000"/><stop offset=".5856" stop-color="#ff1200"/><stop offset=".5859" stop-color="#ffab00"/><stop offset=".591" stop-color="#ffd000"/><stop offset=".6108" stop-color="#ffdb00"/><stop offset=".6343" stop-color="#ffea00"/><stop offset=".6422" stop-color="#fffe00"/><stop offset="1" stop-color="#fffe00"/></linearGradient>
<linearGradient id="g73" x1="0" y1="0" x2="0" y2="1"><stop offset="0" stop-color="#6dff92"/><stop offset=".0987" stop-color="#78ff87"/><stop offset=".1359" stop-color="#7eff81"/><stop offset=".1939" stop-color="#8bff74"/><stop offset=".2153" stop-color="#91ff6e"/><stop offset=".2731" stop-color="#a8ff57"/><stop offset=".3128" stop-color="#c5ff3a"/><stop offset=".3344" stop-color="#e2ff1d"/><stop offset=".3472" stop-color="#ffff00"/><stop offset=".3503" stop-color="#fff800"/><stop offset=".3536" stop-color="#ff9d00"/><stop offset=".3633" stop-color="#ff8a00"/><stop offset=".3875" stop-color="#ff9200"/><stop offset=".407" stop-color="#ffc100"/><stop offset=".4199" stop-color="#ffea00"/><stop offset=".4215" stop-color="#ffff00"/><stop offset=".4228" stop-color="#edff12"/><stop offset=".4229" stop-color="#ffff00"/><stop offset=".4231" stop-color="#ffdb00"/><stop offset=".578" stop-color="#ffdb00"/><stop offset=".5783" stop-color="#ff0000"/><stop offset=".5783" stop-color="#ed0000"/><stop offset=".5801" stop-color="#ed0000"/><stop offset=".5807" stop-color="#fb0000"/><stop offset=".5815" stop-color="#ff0000"/><stop offset=".5856" stop-color="#ff1200"/><stop offset=".5859" stop-color="#ffab00"/><stop offset=".591" stop-color="#ffd000"/><stop offset=".6108" stop-color="#ffdb00"/><stop offset=".6343" stop-color="#ffea00"/><stop offset=".6422" stop-color="#fffe00"/><stop offset="1" stop-color="#fffe00"/></linearGradient>
<linearGradient id="g74" x1="0" y1="0" x2="0" y2="1"><stop offset="0" stop-color="#6cff93"/><stop offset=".1003" stop-color="#77ff88"/><stop offset=".1417" stop-color="#7eff81"/><stop offset=".197" stop-color="#8aff75"/><stop offset=".2211" stop-color="#91ff6e"/><stop offset=".2788" stop-color="#a8ff57"/><stop offset=".3185" stop-color="#c4ff3b"/><stop offset=".3402" stop-color="#e2ff1d"/><stop offset=".3533" stop-color="#ffff00"/><stop offset=".3561" stop-color="#fff900"/><stop offset=".3593" stop-color="#ff9d00"/><stop offset=".3691" stop-color="#ff8a00"/><stop offset=".3971" stop-color="#ff9200"/><stop offset=".418" stop-color="#ffc100"/><stop offset=".4325" stop-color="#ffea00"/><stop offset=".434" stop-color="#ffff00"/><stop offset=".4354" stop-color="#edff12"/><stop offset=".4355" stop-color="#ffff00"/><stop offset=".4357" stop-color="#ffdb00"/><stop offset=".578" stop-color="#ffdb00"/><stop offset=".5783" stop-color="#ff0000"/><stop offset=".5783" stop-color="#ed0000"/><stop offset=".5801" stop-color="#ed0000"/><stop offset=".5807" stop-color="#fb0000"/><stop offset=".5815" stop-color="#ff0000"/><stop offset=".5856" stop-color="#ff1200"/><stop offset=".5859" stop-color="#ffab00"/><stop offset=".591" stop-color="#ffd000"/><stop offset=".6108" stop-color="#ffdb00"/><stop offset=".6343" stop-color="#ffea00"/><stop offset=".6422" stop-color="#fffe00"/><stop offset="1" stop-color="#fffe00"/></linearGradient>
<linearGradient id="g75" x1="0" y1="0" x2="0" y2="1"><stop offset="0" stop-color="#6cff93"/><stop offset=".1019" stop-color="#76ff89"/><stop offset=".1475" stop-color="#7eff81"/><stop offset=".2002" stop-color="#89ff76"/><stop offset=".2269" stop-color="#91ff6e"/><stop offset=".2846" stop-color="#a7ff58"/><stop offset=".3244" stop-color="#c4ff3b"/><stop offset=".346" stop-color="#e1ff1e"/><stop offset=".3593" stop-color="#ffff00"/><stop offset=".3619" stop-color="#fff900"/><stop offset=".3651" stop-color="#ff9d00"/><stop offset=".3749" stop-color="#ff8a00"/><stop offset=".4076" stop-color="#ff9200"/><stop offset=".4305" stop-color="#ffc100"/><stop offset=".4469" stop-color="#ffea00"/><stop offset=".4485" stop-color="#ffff00"/><stop offset=".4498" stop-color="#edff12"/><stop offset=".4499" stop-color="#ffff00"/><stop offset=".4502" stop-color="#ffdb00"/><stop offset=".578" stop-color="#ffdb00"/><stop offset=".5783" stop-color="#ff0000"/><stop offset=".5783" stop-color="#ed0000"/><stop offset=".5801" stop-color="#ed0000"/><stop offset=".5807" stop-color="#fb0000"/><stop offset=".5815" stop-color="#ff0000"/><stop offset=".5856" stop-color="#ff1200"/><stop offset=".5859" stop-color="#ffab00"/><stop offset=".591" stop-color="#ffd000"/><stop offset=".6108" stop-color="#ffdb00"/><stop offset=".6343" stop-color="#ffea00"/><stop offset=".6422" stop-color="#fffe00"/><stop offset="1" stop-color="#fffe00"/></linearGradient>
<linearGradient id="g76" x1="0" y1="0" x2="0" y2="1"><stop offset="0" stop-color="#6bff94"/><stop offset=".1036" stop-color="#76ff89"/><stop offset=".1533" stop-color="#7eff81"/><stop offset=".2035" stop-color="#88ff77"/><stop offset=".2327" stop-color="#91ff6e"/><stop offset=".2905" stop-color="#a7ff58"/><stop offset=".3302" stop-color="#c4ff3b"/><stop offset=".3519" stop-color="#e1ff1e"/><stop offset=".3655" stop-color="#ffff00"/><stop offset=".3677" stop-color="#fffa00"/><stop offset=".371" stop-color="#ff9d00"/><stop offset=".3807" stop-color="#ff8a00"/><stop offset=".4187" stop-color="#ff9200"/><stop offset=".4437" stop-color="#ffc100"/><stop offset=".4622" stop-color="#ffea00"/><stop offset=".4638" stop-color="#ffff00"/><stop offset=".4651" stop-color="#edff12"/><stop offset=".4652" stop-color="#ffff00"/><stop offset=".4655" stop-color="#ffdb00"/><stop offset=".578" stop-color="#ffdb00"/><stop offset=".5783" stop-color="#ff0000"/><stop offset=".5783" stop-color="#ed0000"/><stop offset=".5801" stop-color="#ed0000"/><stop offset=".5807" stop-color="#fb0000"/><stop offset=".5815" stop-color="#ff0000"/><stop offset=".5856" stop-color="#ff1200"/><stop offset=".5859" stop-color="#ffab00"/><stop offset=".591" stop-color="#ffd000"/><stop offset=".6108" stop-color="#ffdb00"/><stop offset=".6343" stop-color="#ffea00"/><stop offset=".6422" stop-color="#fffe00"/><stop offset="1" stop-color="#fffe00"/></linearGradient>
<linearGradient id="g77" x1="0" y1="0" x2="0" y2="1"><stop offset="0" stop-color="#6bff94"/><stop offset=".1052" stop-color="#75ff8a"/><stop offset=".1592" stop-color="#7eff81"/><stop offset=".2067" stop-color="#88ff77"/><stop offset=".2386" stop-color="#90ff6f"/><stop offset=".2964" stop-color="#a7ff58"/><stop offset=".3361" stop-color="#c3ff3c"/><stop offset=".3578" stop-color="#e0ff1f"/><stop offset=".3717" stop-color="#ffff00"/><stop offset=".3737" stop-color="#fffb00"/><stop offset=".3769" stop-color="#ff9d00"/><stop offset=".3867" stop-color="#ff8a00"/><stop offset=".4296" stop-color="#ff9200"/><stop offset=".4567" stop-color="#ffc100"/><stop offset=".4773" stop-color="#ffea00"/><stop offset=".4789" stop-color="#ffff00"/><stop offset=".4802" stop-color="#edff12"/><stop offset=".4804" stop-color="#ffff00"/><stop offset=".4806" stop-color="#ffdb00"/><stop offset=".578" stop-color="#ffdb00"/><stop offset=".5783" stop-color="#ff0000"/><stop offset=".5783" stop-color="#ed0000"/><stop offset=".5801" stop-color="#ed0000"/><stop offset=".5807" stop-color="#fb0000"/><stop offset=".5815" stop-color="#ff0000"/><stop offset=".5856" stop-color="#ff1200"/><stop offset=".5859" stop-color="#ffab00"/><stop offset=".591" stop-color="#ffd000"/><stop offset=".6108" stop-color="#ffdb00"/><stop offset=".6343" stop-color="#ffea00"/><stop offset=".6422" stop-color="#fffe00"/><stop offset="1" stop-color="#fffe00"/></linearGradient>
<linearGradient id="g78" x1="0" y1="0" x2="0" y2="1"><stop offset="0" stop-color="#6bff94"/><stop offset=".1069" stop-color="#75ff8a"/><stop offset=".1652" stop-color="#7dff82"/><stop offset=".21" stop-color="#87ff78"/><stop offset=".2446" stop-color="#90ff6f"/><stop offset=".3024" stop-color="#a7ff58"/><stop offset=".3421" stop-color="#c3ff3c"/><stop offset=".3637" stop-color="#dfff20"/><stop offset=".378" stop-color="#ffff00"/><stop offset=".3796" stop-color="#fffb00"/><stop offset=".3829" stop-color="#ff9d00"/><stop offset=".3926" stop-color="#ff8a00"/><stop offset=".4401" stop-color="#ff9200"/><stop offset=".469" stop-color="#ffc100"/><stop offset=".4915" stop-color="#ffea00"/><stop offset=".493" stop-color="#ffff00"/><stop offset=".4944" stop-color="#edff12"/><stop offset=".4945" stop-color="#ffff00"/><stop offset=".4947" stop-color="#ffdb00"/><stop offset=".578" stop-color="#ffdb00"/><stop offset=".5783" stop-color="#ff0000"/><stop offset=".5783" stop-color="#ed0000"/><stop offset=".5801" stop-color="#ed0000"/><stop offset=".5807" stop-color="#fb0000"/><stop offset=".5815" stop-color="#ff0000"/><stop offset=".5856" stop-color="#ff1200"/><stop offset=".5859" stop-color="#ffab00"/><stop offset=".591" stop-color="#ffd000"/><stop offset=".6108" stop-color="#ffdb00"/><stop offset=".6343" stop-color="#ffea00"/><stop offset=".6422" stop-color="#fffe00"/><stop offset="1" stop-color="#fffe00"/></linearGradient>
<linearGradient id="g79" x1="0" y1="0" x2="0" y2="1"><stop offset="0" stop-color="#6aff95"/><stop offset=".1086" stop-color="#74ff8b"/><stop offset=".1712" stop-color="#7dff82"/><stop offset=".2133" stop-color="#86ff79"/><stop offset=".2506" stop-color="#90ff6f"/><stop offset=".3084" stop-color="#a6ff59"/><stop offset=".3481" stop-color="#c2ff3d"/><stop offset=".3698" stop-color="#dfff20"/><stop offset=".3843" stop-color="#ffff00"/><stop offset=".3857" stop-color="#fffc00"/><stop offset=".3889" stop-color="#ff9d00"/><stop offset=".3986" stop-color="#ff8a00"/><stop offset=".4506" stop-color="#ff9200"/><stop offset=".4813" stop-color="#ffc100"/><stop offset=".5056" stop-color="#ffea00"/><stop offset=".5071" stop-color="#ffff00"/><stop offset=".5085" stop-color="#edff12"/><stop offset=".5086" stop-color="#ffff00"/><stop offset=".5088" stop-color="#ffdb00"/><stop offset=".578" stop-color="#ffdb00"/><stop offset=".5783" stop-color="#ff0000"/><stop offset=".5783" stop-color="#ed0000"/><stop offset=".5801" stop-color="#ed0000"/><stop offset=".5807" stop-color="#fb0000"/><stop offset=".5815" stop-color="#ff0000"/><stop offset=".5856" stop-color="#ff1200"/><stop offset=".5859" stop-color="#ffab00"/><stop offset=".591" stop-color="#ffd000"/><stop offset=".6108" stop-color="#ffdb00"/><stop offset=".6343" stop-color="#ffea00"/><stop offset=".6422" stop-color="#fffe00"/><stop offset="1" stop-color="#fffe00"/></linearGradient>
<linearGradient id="g80" x1="0" y1="0" x2="0" y2="1"><stop offset="0" stop-color="#6aff95"/><stop offset=".1103" stop-color="#73ff8c"/><stop offset=".1773" stop-color="#7dff82"/><stop offset=".2167" stop-color="#85ff7a"/><stop offset=".2567" stop-color="#90ff6f"/><stop offset=".3145" stop-color="#a6ff59"/><stop offset=".3542" stop-color="#c2ff3d"/><stop offset=".3759" stop-color="#deff21"/><stop offset=".3908" stop-color="#ffff00"/><stop offset=".3918" stop-color="#fffd00"/><stop offset=".395" stop-color="#ff9d00"/><stop offset=".4047" stop-color="#ff8a00"/><stop offset=".461" stop-color="#ff9200"/><stop offset=".4936" stop-color="#ffc100"/><stop offset=".5196" stop-color="#ffea00"/><stop offset=".5212" stop-color="#ffff00"/><stop offset=".5225" stop-color="#edff12"/><stop offset=".5226" stop-color="#ffff00"/><stop offset=".5229" stop-color="#ffdb00"/><stop offset=".578" stop-color="#ffdb00"/><stop offset=".5783" stop-color="#ff0000"/><stop offset=".5783" stop-color="#ed0000"/><stop offset=".5801" stop-color="#ed0000"/><stop offset=".5807" stop-color="#fb0000"/><stop offset=".5815" stop-color="#ff0000"/><stop offset=".5856" stop-color="#ff1200"/><stop offset=".5859" stop-color="#ffab00"/><stop offset=".591" stop-color="#ffd000"/><stop offset=".6108" stop-color="#ffdb00"/><stop offset=".6343" stop-color="#ffea00"/><stop offset=".6422" stop-color="#fffe00"/><stop offset="1" stop-color="#fffe00"/></linearGradient>
<linearGradient id="g81" x1="0" y1="0" x2="0" y2="1"><stop offset="0" stop-color="#69ff96"/><stop offset=".112" stop-color="#73ff8c"/><stop offset=".1835" stop-color="#7dff82"/><stop offset=".2201" stop-color="#84ff7b"/><stop offset=".2629" stop-color="#8fff70"/><stop offset=".3207" stop-color="#a5ff5a"/><stop offset=".3604" stop-color="#c1ff3e"/><stop offset=".3821" stop-color="#ddff22"/><stop offset=".3974" stop-color="#ffff00"/><stop offset=".398" stop-color="#fffe00"/><stop offset=".4012" stop-color="#ff9d00"/><stop offset=".411" stop-color="#ff8a00"/><stop offset=".4713" stop-color="#ff9200"/><stop offset=".5054" stop-color="#ffc100"/><stop offset=".5331" stop-color="#ffea00"/><stop offset=".5347" stop-color="#ffff00"/><stop offset=".536" stop-color="#edff12"/><stop offset=".5361" stop-color="#ffff00"/><stop offset=".5364" stop-color="#ffdb00"/><stop offset=".578" stop-color="#ffdb00"/><stop offset=".5783" stop-color="#ff0000"/><stop offset=".5783" stop-color="#ed0000"/><stop offset=".5801" stop-color="#ed0000"/><stop offset=".5807" stop-color="#fb0000"/><stop offset=".5815" stop-color="#ff0000"/><stop offset=".5856" stop-color="#ff1200"/><stop offset=".5859" stop-color="#ffab00"/><stop offset=".591" stop-color="#ffd000"/><stop offset=".6108" stop-color="#ffdb00"/><stop offset=".6343" stop-color="#ffea00"/><stop offset=".6422" stop-color="#fffe00"/><stop offset="1" stop-color="#fffe00"/></linearGradient>
<linearGradient id="g82" x1="0" y1="0" x2="0" y2="1"><stop offset="0" stop-color="#69ff96"/><stop offset=".1138" stop-color="#72ff8d"/><stop offset=".1899" stop-color="#7dff82"/><stop offset=".2236" stop-color="#83ff7c"/><stop offset=".2693" stop-color="#8fff70"/><stop offset=".3271" stop-color="#a5ff5a"/><stop offset=".3668" stop-color="#c0ff3f"/><stop offset=".3884" stop-color="#ddff22"/><stop offset=".4043" stop-color="#ffff00"/><stop offset=".4043" stop-color="#ffff00"/><stop offset=".4076" stop-color="#ff9d00"/><stop offset=".4173" stop-color="#ff8a00"/><stop offset=".481" stop-color="#ff9200"/><stop offset=".5166" stop-color="#ffb900"/><stop offset=".5457" stop-color="#ffdb00"/><stop offset=".5486" stop-color="#fffb00"/><stop offset=".5489" stop-color="#ffdb00"/><stop offset=".578" stop-color="#ffdb00"/><stop offset=".5783" stop-color="#ff0000"/><stop offset=".5783" stop-color="#ed0000"/><stop offset=".5801" stop-color="#ed0000"/><stop offset=".5807" stop-color="#fb0000"/><stop offset=".5815" stop-color="#ff0000"/><stop offset=".5856" stop-color="#ff1200"/><stop offset=".5859" stop-color="#ffab00"/><stop offset=".591" stop-color="#ffd000"/><stop offset=".6108" stop-color="#ffdb00"/><stop offset=".6343" stop-color="#ffea00"/><stop offset=".6422" stop-color="#fffe00"/><stop offset="1" stop-color="#fffe00"/></linearGradient>
<linearGradient id="g83" x1="0" y1="0" x2="0" y2="1"><stop offset="0" stop-color="#68ff97"/><stop offset=".1156" stop-color="#71ff8e"/><stop offset=".1964" stop-color="#7cff83"/><stop offset=".2271" stop-color="#82ff7d"/><stop offset=".2758" stop-color="#8eff71"/><stop offset=".3336" stop-color="#a4ff5b"/><stop offset=".3733" stop-color="#c0ff3f"/><stop offset=".3949" stop-color="#dcff23"/><stop offset=".4108" stop-color="#feff01"/><stop offset=".4108" stop-color="#ffff00"/><stop offset=".4141" stop-color="#ff9d00"/><stop offset=".4238" stop-color="#ff8a00"/><stop offset=".4901" stop-color="#ff9200"/><stop offset=".5267" stop-color="#ffad00"/><stop offset=".5569" stop-color="#ffc500"/><stop offset=".5598" stop-color="#ffdb00"/><stop offset=".5601" stop-color="#ffdb00"/><stop offset=".578" stop-color="#ffdb00"/><stop offset=".5783" stop-color="#ff0000"/><stop offset=".5783" stop-color="#ed0000"/><stop offset=".5801" stop-color="#ed0000"/><stop offset=".5807" stop-color="#fb0000"/><stop offset=".5815" stop-color="#ff0000"/><stop offset=".5856" stop-color="#ff1200"/><stop offset=".5859" stop-color="#ffab00"/><stop offset=".591" stop-color="#ffd000"/><stop offset=".6108" stop-color="#ffdb00"/><stop offset=".6343" stop-color="#ffea00"/><stop offset=".6422" stop-color="#fffe00"/><stop offset="1" stop-color="#fffe00"/></linearGradient>
<linearGradient id="g84" x1="0" y1="0" x2="0" y2="1"><stop offset="0" stop-color="#68ff97"/><stop offset=".1175" stop-color="#71ff8e"/><stop offset=".2029" stop-color="#7cff83"/><stop offset=".2308" stop-color="#81ff7e"/><stop offset=".2824" stop-color="#8eff71"/><stop offset=".3401" stop-color="#a3ff5c"/><stop offset=".3798" stop-color="#bfff40"/><stop offset=".4015" stop-color="#dbff24"/><stop offset=".4174" stop-color="#fdff02"/><stop offset=".4175" stop-color="#ffff00"/><stop offset=".4206" stop-color="#ff9d00"/><stop offset=".4304" stop-color="#ff8a00"/><stop offset=".4984" stop-color="#ff9200"/><stop offset=".5357" stop-color="#ffa200"/><stop offset=".5665" stop-color="#ffaf00"/><stop offset=".5694" stop-color="#ffbc00"/><stop offset=".5698" stop-color="#ffdb00"/><stop offset=".578" stop-color="#ffdb00"/><stop offset=".5783" stop-color="#ff0000"/><stop offset=".5783" stop-color="#ec0000"/><stop offset=".5802" stop-color="#ed0000"/><stop offset=".5807" stop-color="#fb0000"/><stop offset=".5815" stop-color="#ff0000"/><stop offset=".5856" stop-color="#ff1200"/><stop offset=".5859" stop-color="#ffab00"/><stop offset=".591" stop-color="#ffd000"/><stop offset=".6108" stop-color="#ffdb00"/><stop offset=".6343" stop-color="#ffea00"/><stop offset=".6422" stop-color="#fffe00"/><stop offset="1" stop-color="#fffe00"/></linearGradient>
<linearGradient id="g85" x1="0" y1="0" x2="0" y2="1"><stop offset="0" stop-color="#67ff98"/><stop offset=".1193" stop-color="#70ff8f"/><stop offset=".2096" stop-color="#7cff83"/><stop offset=".2344" stop-color="#80ff7f"/><stop offset=".289" stop-color="#8eff71"/><stop offset=".3468" stop-color="#a3ff5c"/><stop offset=".3865" stop-color="#beff41"/><stop offset=".4081" stop-color="#daff25"/><stop offset=".424" stop-color="#fcff03"/><stop offset=".4241" stop-color="#ffff00"/><stop offset=".4273" stop-color="#ff9d00"/><stop offset=".437" stop-color="#ff8a00"/><stop offset=".506" stop-color="#ff9200"/><stop offset=".5437" stop-color="#ff9600"/><stop offset=".5749" stop-color="#ff9900"/><stop offset=".5778" stop-color="#ff9c00"/><stop offset=".578" stop-color="#ff9c00"/><stop offset=".5784" stop-color="#ff0000"/><stop offset=".5784" stop-color="#eb0000"/><stop offset=".5802" stop-color="#ec0000"/><stop offset=".5808" stop-color="#fb0000"/><stop offset=".5816" stop-color="#ff0000"/><stop offset=".5856" stop-color="#ff1200"/><stop offset=".586" stop-color="#ffab00"/><stop offset=".591" stop-color="#ffd000"/><stop offset=".6109" stop-color="#ffdb00"/><stop offset=".6343" stop-color="#ffea00"/><stop offset=".6422" stop-color="#fffe00"/><stop offset="1" stop-color="#fffe00"/></linearGradient>
<linearGradient id="g86" x1="0" y1="0" x2="0" y2="1"><stop offset="0" stop-color="#67ff98"/><stop offset=".1212" stop-color="#6fff90"/><stop offset=".2163" stop-color="#7cff83"/><stop offset=".2381" stop-color="#80ff7f"/><stop offset=".2957" stop-color="#8dff72"/><stop offset=".3534" stop-color="#a2ff5d"/><stop offset=".3932" stop-color="#bdff42"/><stop offset=".4148" stop-color="#d9ff26"/><stop offset=".4307" stop-color="#fbff04"/><stop offset=".4309" stop-color="#ffff00"/><stop offset=".4343" stop-color="#ff9d00"/><stop offset=".4437" stop-color="#ff9300"/><stop offset=".5713" stop-color="#ff8e00"/><stop offset=".5793" stop-color="#ff0000"/><stop offset=".5805" stop-color="#ea0000"/><stop offset=".5823" stop-color="#eb0000"/><stop offset=".5829" stop-color="#fb0000"/><stop offset=".5837" stop-color="#ff0000"/><stop offset=".5877" stop-color="#ff1200"/><stop offset=".588" stop-color="#ffab00"/><stop offset=".5931" stop-color="#ffd000"/><stop offset=".613" stop-color="#ffdb00"/><stop offset=".6343" stop-color="#ffea00"/><stop offset=".6422" stop-color="#fffe00"/><stop offset="1" stop-color="#fffe00"/></linearGradient>
<linearGradient id="g87" x1="0" y1="0" x2="0" y2="1"><stop offset="0" stop-color="#67ff98"/><stop offset=".1231" stop-color="#6fff90"/><stop offset=".2229" stop-color="#7bff84"/><stop offset=".2418" stop-color="#7fff80"/><stop offset=".3024" stop-color="#8dff72"/><stop offset=".3601" stop-color="#a2ff5d"/><stop offset=".3998" stop-color="#bcff43"/><stop offset=".4215" stop-color="#d8ff27"/><stop offset=".4374" stop-color="#f9ff06"/><stop offset=".4376" stop-color="#ffff00"/><stop offset=".441" stop-color="#ff9d00"/><stop offset=".4504" stop-color="#ff9300"/><stop offset=".5748" stop-color="#ff8f00"/><stop offset=".5828" stop-color="#ff0000"/><stop offset=".5841" stop-color="#e80000"/><stop offset=".5861" stop-color="#ea0000"/><stop offset=".5866" stop-color="#fb0000"/><stop offset=".5874" stop-color="#ff0000"/><stop offset=".5914" stop-color="#ff1200"/><stop offset=".5918" stop-color="#ffab00"/><stop offset=".5968" stop-color="#ffd000"/><stop offset=".6167" stop-color="#ffdb00"/><stop offset=".6343" stop-color="#ffea00"/><stop offset=".6422" stop-color="#fffe00"/><stop offset="1" stop-color="#fffe00"/></linearGradient>
<linearGradient id="g88" x1="0" y1="0" x2="0" y2="1"><stop offset="0" stop-color="#66ff99"/><stop offset=".1249" stop-color="#6eff91"/><stop offset=".2296" stop-color="#7bff84"/><stop offset=".2454" stop-color="#7eff81"/><stop offset=".309" stop-color="#8cff73"/><stop offset=".3668" stop-color="#a1ff5e"/><stop offset=".4065" stop-color="#bcff43"/><stop offset=".4282" stop-color="#d7ff28"/><stop offset=".444" stop-color="#f9ff06"/><stop offset=".4443" stop-color="#ffff00"/><stop offset=".4477" stop-color="#ff9d00"/><stop offset=".4571" stop-color="#ff9300"/><stop offset=".5785" stop-color="#ff8f00"/><stop offset=".5866" stop-color="#ff0000"/><stop offset=".5881" stop-color="#e50000"/><stop offset=".5901" stop-color="#e80000"/><stop offset=".5907" stop-color="#fb0000"/><stop offset=".5915" stop-color="#ff0000"/><stop offset=".5954" stop-color="#ff1200"/><stop offset=".5958" stop-color="#ffab00"/><stop offset=".6008" stop-color="#ffd000"/><stop offset=".6207" stop-color="#ffdb00"/><stop offset=".6343" stop-color="#ffea00"/><stop offset=".6422" stop-color="#fffe00"/><stop offset="1" stop-color="#fffe00"/></linearGradient>
<linearGradient id="g89" x1="0" y1="0" x2="0" y2="1"><stop offset="0" stop-color="#66ff99"/><stop offset=".1268" stop-color="#6eff91"/><stop offset=".2362" stop-color="#7bff84"/><stop offset=".2491" stop-color="#7dff82"/><stop offset=".3156" stop-color="#8cff73"/><stop offset=".3734" stop-color="#a1ff5e"/><stop offset=".4131" stop-color="#bbff44"/><stop offset=".4348" stop-color="#d7ff28"/><stop offset=".4507" stop-color="#f8ff07"/><stop offset=".4509" stop-color="#ffff00"/><stop offset=".4543" stop-color="#ff9d00"/><stop offset=".4637" stop-color="#ff9300"/><stop offset=".5834" stop-color="#ff8f00"/><stop offset=".5915" stop-color="#ff0000"/><stop offset=".5932" stop-color="#e20000"/><stop offset=".5953" stop-color="#e60000"/><stop offset=".5958" stop-color="#fb0000"/><stop offset=".5966" stop-color="#ff0000"/><stop offset=".6005" stop-color="#ff1200"/><stop offset=".6009" stop-color="#ffab00"/><stop offset=".6059" stop-color="#ffd000"/><stop offset=".6258" stop-color="#ffdb00"/><stop offset=".6343" stop-color="#ffea00"/><stop offset=".6422" stop-color="#fffe00"/><stop offset="1" stop-color="#fffe00"/></linearGradient>
<linearGradient id="g90" x1="0" y1="0" x2="0" y2="1"><stop offset="0" stop-color="#66ff99"/><stop offset=".1286" stop-color="#6dff92"/><stop offset=".2427" stop-color="#7bff84"/><stop offset=".2526" stop-color="#7dff82"/><stop offset=".3222" stop-color="#8cff73"/><stop offset=".3799" stop-color="#a1ff5e"/><stop offset=".4196" stop-color="#bbff44"/><stop offset=".4413" stop-color="#d6ff29"/><stop offset=".4572" stop-color="#f8ff07"/><stop offset=".4574" stop-color="#ffff00"/><stop offset=".4608" stop-color="#ff9d00"/><stop offset=".4703" stop-color="#ff9400"/><stop offset=".5889" stop-color="#ff8f00"/><stop offset=".597" stop-color="#ff0000"/><stop offset=".5988" stop-color="#de0000"/><stop offset=".601" stop-color="#e40000"/><stop offset=".6016" stop-color="#fb0000"/><stop offset=".6023" stop-color="#ff0000"/><stop offset=".6062" stop-color="#ff1200"/><stop offset=".6066" stop-color="#ffab00"/><stop offset=".6116" stop-color="#ffd000"/><stop offset=".6315" stop-color="#ffdb00"/><stop offset=".6343" stop-color="#ffea00"/><stop offset=".6422" stop-color="#fffe00"/><stop offset="1" stop-color="#fffe00"/></linearGradient>
<linearGradient id="g91" x1="0" y1="0" x2="0" y2="1"><stop offset="0" stop-color="#65ff9a"/><stop offset=".1304" stop-color="#6dff92"/><stop offset=".2492" stop-color="#7bff84"/><stop offset=".2562" stop-color="#7cff83"/><stop offset=".3286" stop-color="#8cff73"/><stop offset=".3864" stop-color="#a1ff5e"/><stop offset=".4261" stop-color="#bbff44"/><stop offset=".4477" stop-color="#d6ff29"/><stop offset=".4636" stop-color="#f7ff08"/><stop offset=".4639" stop-color="#ffff00"/><stop offset=".4672" stop-color="#ff9d00"/><stop offset=".4768" stop-color="#ff9400"/><stop offset=".5945" stop-color="#ff9000"/><stop offset=".6025" stop-color="#ff0000"/><stop offset=".6046" stop-color="#db0000"/><stop offset=".6069" stop-color="#e20000"/><stop offset=".6074" stop-color="#fb0000"/><stop offset=".6082" stop-color="#ff0000"/><stop offset=".6121" stop-color="#ff1200"/><stop offset=".6124" stop-color="#ffab00"/><stop offset=".6175" stop-color="#ffd000"/><stop offset=".6373" stop-color="#ffdb00"/><stop offset=".6373" stop-color="#ffea00"/><stop offset=".6422" stop-color="#fffe00"/><stop offset="1" stop-color="#fffe00"/></linearGradient>
<linearGradient id="g92" x1="0" y1="0" x2="0" y2="1"><stop offset="0" stop-color="#65ff9a"/><stop offset=".1322" stop-color="#6cff93"/><stop offset=".2555" stop-color="#7aff85"/><stop offset=".2596" stop-color="#7bff84"/><stop offset=".3349" stop-color="#8cff73"/><stop offset=".3926" stop-color="#a1ff5e"/><stop offset=".4323" stop-color="#bbff44"/><stop offset=".454" stop-color="#d6ff29"/><stop offset=".4699" stop-color="#f7ff08"/><stop offset=".4702" stop-color="#ffff00"/><stop offset=".4735" stop-color="#ff9d00"/><stop offset=".4832" stop-color="#ff9400"/><stop offset=".6003" stop-color="#ff9000"/><stop offset=".6084" stop-color="#ff0000"/><stop offset=".6107" stop-color="#d70000"/><stop offset=".6131" stop-color="#df0000"/><stop offset=".6136" stop-color="#fb0000"/><stop offset=".6144" stop-color="#ff0000"/><stop offset=".6182" stop-color="#ff1200"/><stop offset=".6186" stop-color="#ffab00"/><stop offset=".6236" stop-color="#ffd000"/><stop offset=".6435" stop-color="#ffdb00"/><stop offset=".6435" stop-color="#ffea00"/><stop offset=".6435" stop-color="#fffe00"/><stop offset="1" stop-color="#fffe00"/></linearGradient>
<linearGradient id="g93" x1="0" y1="0" x2="0" y2="1"><stop offset="0" stop-color="#64ff9b"/><stop offset=".1339" stop-color="#6bff94"/><stop offset=".2616" stop-color="#7aff85"/><stop offset=".263" stop-color="#7aff85"/><stop offset=".341" stop-color="#8bff74"/><stop offset=".3988" stop-color="#a0ff5f"/><stop offset=".4385" stop-color="#bbff44"/><stop offset=".4602" stop-color="#d6ff29"/><stop offset=".476" stop-color="#f7ff08"/><stop offset=".4763" stop-color="#ffff00"/><stop offset=".4796" stop-color="#ff9d00"/><stop offset=".4894" stop-color="#ff9400"/><stop offset=".6065" stop-color="#ff9000"/><stop offset=".6145" stop-color="#ff0000"/><stop offset=".617" stop-color="#d30000"/><stop offset=".6195" stop-color="#dd0000"/><stop offset=".6201" stop-color="#fb0000"/><stop offset=".6209" stop-color="#ff0000"/><stop offset=".6247" stop-color="#ff1200"/><stop offset=".625" stop-color="#ffab00"/><stop offset=".6301" stop-color="#ffd000"/><stop offset=".6499" stop-color="#ffdb00"/><stop offset=".6499" stop-color="#ffea00"/><stop offset=".6499" stop-color="#fffe00"/><stop offset="1" stop-color="#fffe00"/></linearGradient>
<linearGradient id="g94" x1="0" y1="0" x2="0" y2="1"><stop offset="0" stop-color="#63ff9c"/><stop offset=".1356" stop-color="#6aff95"/><stop offset=".2664" stop-color="#79ff86"/><stop offset=".2677" stop-color="#7aff85"/><stop offset=".3471" stop-color="#8bff74"/><stop offset=".4049" stop-color="#a0ff5f"/><stop offset=".4446" stop-color="#bbff44"/><stop offset=".4663" stop-color="#d5ff2a"/><stop offset=".4822" stop-color="#f6ff09"/><stop offset=".4824" stop-color="#ffff00"/><stop offset=".4858" stop-color="#ff9d00"/><stop offset=".4957" stop-color="#ff9500"/><stop offset=".6129" stop-color="#ff9000"/><stop offset=".6209" stop-color="#ff0000"/><stop offset=".6236" stop-color="#ce0000"/><stop offset=".6263" stop-color="#db0000"/><stop offset=".6269" stop-color="#fb0000"/><stop offset=".6276" stop-color="#ff0000"/><stop offset=".6314" stop-color="#ff1200"/><stop offset=".6317" stop-color="#ff5b00"/><stop offset=".633" stop-color="#ff8000"/><stop offset=".637" stop-color="#ff9d00"/><stop offset=".6392" stop-color="#ffcd00"/><stop offset=".6399" stop-color="#ffed00"/><stop offset=".6417" stop-color="#ffff00"/><stop offset=".6471" stop-color="#c8ff37"/><stop offset="1" stop-color="#c8ff37"/></linearGradient>
<linearGradient id="g95" x1="0" y1="0" x2="0" y2="1"><stop offset="0" stop-color="#62ff9d"/><stop offset=".1373" stop-color="#69ff96"/><stop offset=".2697" stop-color="#78ff87"/><stop offset=".2738" stop-color="#79ff86"/><stop offset=".3532" stop-color="#8bff74"/><stop offset=".411" stop-color="#a0ff5f"/><stop offset=".4507" stop-color="#baff45"/><stop offset=".4724" stop-color="#d5ff2a"/><stop offset=".4882" stop-color="#f6ff09"/><stop offset=".4885" stop-color="#ffff00"/><stop offset=".4919" stop-color="#ff9d00"/><stop offset=".5019" stop-color="#ff9500"/><stop offset=".6196" stop-color="#ff9000"/><stop offset=".6276" stop-color="#ff0000"/><stop offset=".6305" stop-color="#ca0000"/><stop offset=".6332" stop-color="#d80000"/><stop offset=".6339" stop-color="#fb0000"/><stop offset=".6346" stop-color="#ff0000"/><stop offset=".6383" stop-color="#ff1200"/><stop offset=".6387" stop-color="#ff5b00"/><stop offset=".6399" stop-color="#ff8000"/><stop offset=".6439" stop-color="#ff9d00"/><stop offset=".6461" stop-color="#ffcd00"/><stop offset=".6467" stop-color="#ffed00"/><stop offset=".6485" stop-color="#ffff00"/><stop offset=".6539" stop-color="#c8ff37"/><stop offset="1" stop-color="#c8ff37"/></linearGradient>
<linearGradient id="g96" x1="0" y1="0" x2="0" y2="1"><stop offset="0" stop-color="#61ff9e"/><stop offset=".139" stop-color="#68ff97"/><stop offset=".2731" stop-color="#77ff88"/><stop offset=".2799" stop-color="#78ff87"/><stop offset=".3593" stop-color="#8aff75"/><stop offset=".4171" stop-color="#9fff60"/><stop offset=".4568" stop-color="#baff45"/><stop offset=".4784" stop-color="#d5ff2a"/><stop offset=".4943" stop-color="#f6ff09"/><stop offset=".4946" stop-color="#ffff00"/><stop offset=".4979" stop-color="#ff9e00"/><stop offset=".5081" stop-color="#ff9500"/><stop offset=".6265" stop-color="#ff9100"/><stop offset=".6344" stop-color="#ff0000"/><stop offset=".6376" stop-color="#c60000"/><stop offset=".6404" stop-color="#d60000"/><stop offset=".6411" stop-color="#fb0000"/><stop offset=".6418" stop-color="#ff0000"/><stop offset=".6455" stop-color="#ff1200"/><stop offset=".6459" stop-color="#ff5b00"/><stop offset=".6471" stop-color="#ff8000"/><stop offset=".6513" stop-color="#ff9d00"/><stop offset=".6535" stop-color="#ffcd00"/><stop offset=".6543" stop-color="#ffed00"/><stop offset=".6561" stop-color="#ffff00"/><stop offset=".6615" stop-color="#c8ff37"/><stop offset="1" stop-color="#c8ff37"/></linearGradient>
<linearGradient id="g97" x1="0" y1="0" x2="0" y2="1"><stop offset="0" stop-color="#60ff9f"/><stop offset=".1407" stop-color="#67ff98"/><stop offset=".2764" stop-color="#76ff89"/><stop offset=".2859" stop-color="#78ff87"/><stop offset=".3653" stop-color="#89ff76"/><stop offset=".4231" stop-color="#9fff60"/><stop offset=".4628" stop-color="#baff45"/><stop offset=".4845" stop-color="#d5ff2a"/><stop offset=".5003" stop-color="#f5ff0a"/><stop offset=".5007" stop-color="#ffff00"/><stop offset=".5039" stop-color="#ff9e00"/><stop offset=".5142" stop-color="#ff9500"/><stop offset=".6336" stop-color="#ff9100"/><stop offset=".6416" stop-color="#ff0000"/><stop offset=".6449" stop-color="#c20000"/><stop offset=".6479" stop-color="#d30000"/><stop offset=".6485" stop-color="#fb0000"/><stop offset=".6493" stop-color="#ff0000"/><stop offset=".653" stop-color="#ff1200"/><stop offset=".6533" stop-color="#ff5b00"/><stop offset=".6547" stop-color="#ff8000"/><stop offset=".6591" stop-color="#ff9d00"/><stop offset=".6614" stop-color="#ffcd00"/><stop offset=".6627" stop-color="#ffed00"/><stop offset=".6645" stop-color="#ffff00"/><stop offset=".6699" stop-color="#c8ff37"/><stop offset="1" stop-color="#c8ff37"/></linearGradient>
<linearGradient id="g98" x1="0" y1="0" x2="0" y2="1"><stop offset="0" stop-color="#5fffa0"/><stop offset=".1424" stop-color="#66ff99"/><stop offset=".2797" stop-color="#75ff8a"/><stop offset=".2919" stop-color="#77ff88"/><stop offset=".3713" stop-color="#89ff76"/><stop offset=".429" stop-color="#9eff61"/><stop offset=".4688" stop-color="#b9ff46"/><stop offset=".4904" stop-color="#d4ff2b"/><stop offset=".5063" stop-color="#f5ff0a"/><stop offset=".5066" stop-color="#ffff00"/><stop offset=".5099" stop-color="#ff9e00"/><stop offset=".5203" stop-color="#ff9500"/><stop offset=".6412" stop-color="#ff9100"/><stop offset=".6491" stop-color="#ff0000"/><stop offset=".6526" stop-color="#be0000"/><stop offset=".6557" stop-color="#d10000"/><stop offset=".6564" stop-color="#fb0000"/><stop offset=".6571" stop-color="#ff0000"/><stop offset=".6608" stop-color="#ff1200"/><stop offset=".6611" stop-color="#ff5b00"/><stop offset=".6626" stop-color="#ff8000"/><stop offset=".6673" stop-color="#ff9d00"/><stop offset=".6699" stop-color="#ffcd00"/><stop offset=".6718" stop-color="#ffed00"/><stop offset=".6736" stop-color="#ffff00"/><stop offset=".679" stop-color="#c8ff37"/><stop offset="1" stop-color="#c8ff37"/></linearGradient>
<linearGradient id="g99" x1="0" y1="0" x2="0" y2="1"><stop offset="0" stop-color="#5effa1"/><stop offset=".144" stop-color="#64ff9b"/><stop offset=".2829" stop-color="#73ff8c"/><stop offset=".2977" stop-color="#76ff89"/><stop offset=".3772" stop-color="#88ff77"/><stop offset=".4349" stop-color="#9eff61"/><stop offset=".4746" stop-color="#b9ff46"/><stop offset=".4963" stop-color="#d4ff2b"/><stop offset=".5122" stop-color="#f5ff0a"/><stop offset=".5125" stop-color="#ffff00"/><stop offset=".5158" stop-color="#ff9e00"/><stop offset=".5264" stop-color="#ff9600"/><stop offset=".649" stop-color="#ff9100"/><stop offset=".6569" stop-color="#ff0000"/><stop offset=".6606" stop-color="#bb0000"/><stop offset=".6639" stop-color="#cf0000"/><stop offset=".6646" stop-color="#fb0000"/><stop offset=".6653" stop-color="#ff0000"/><stop offset=".6689" stop-color="#ff1200"/><stop offset=".6693" stop-color="#ff5b00"/><stop offset=".6709" stop-color="#ff8000"/><stop offset=".676" stop-color="#ff9d00"/><stop offset=".6788" stop-color="#ffcd00"/><stop offset=".6814" stop-color="#ffed00"/><stop offset=".6832" stop-color="#ffff00"/><stop offset=".6886" stop-color="#c8ff37"/><stop offset="1" stop-color="#c8ff37"/></linearGradient>
<linearGradient id="g100" x1="0" y1="0" x2="0" y2="1"><stop offset="0" stop-color="#5cffa3"/><stop offset=".1456" stop-color="#63ff9c"/><stop offset=".2861" stop-color="#72ff8d"/><stop offset=".3036" stop-color="#75ff8a"/><stop offset=".383" stop-color="#87ff78"/><stop offset=".4407" stop-color="#9dff62"/><stop offset=".4804" stop-color="#b9ff46"/><stop offset=".5021" stop-color="#d4ff2b"/><stop offset=".518" stop-color="#f4ff0b"/><stop offset=".5184" stop-color="#ffff00"/><stop offset=".5216" stop-color="#ff9e00"/><stop offset=".5324" stop-color="#ff9600"/><stop offset=".6571" stop-color="#ff9200"/><stop offset=".665" stop-color="#ff0000"/><stop offset=".6689" stop-color="#b80000"/><stop offset=".6723" stop-color="#cd0000"/><stop offset=".673" stop-color="#fb0000"/><stop offset=".6737" stop-color="#ff0000"/><stop offset=".6773" stop-color="#ff1200"/><stop offset=".6777" stop-color="#ff5b00"/><stop offset=".6796" stop-color="#ff8000"/><stop offset=".6853" stop-color="#ff9d00"/><stop offset=".6885" stop-color="#ffcd00"/><stop offset=".6923" stop-color="#ffed00"/><stop offset=".6942" stop-color="#ffff00"/><stop offset=".6996" stop-color="#c8ff37"/><stop offset="1" stop-color="#c8ff37"/></linearGradient>
<linearGradient id="g101" x1="0" y1="0" x2="0" y2="1"><stop offset="0" stop-color="#5bffa4"/><stop offset=".1472" stop-color="#61ff9e"/><stop offset=".2892" stop-color="#70ff8f"/><stop offset=".3093" stop-color="#74ff8b"/><stop offset=".3887" stop-color="#86ff79"/><stop offset=".4464" stop-color="#9dff62"/><stop offset=".4862" stop-color="#b8ff47"/><stop offset=".5078" stop-color="#d3ff2c"/><stop offset=".5237" stop-color="#f4ff0b"/><stop offset=".5241" stop-color="#ffff00"/><stop offset=".5273" stop-color="#ff9e00"/><stop offset=".5383" stop-color="#ff9600"/><stop offset=".6654" stop-color="#ff9200"/><stop offset=".6733" stop-color="#ff0000"/><stop offset=".6774" stop-color="#b50000"/><stop offset=".6809" stop-color="#cb0000"/><stop offset=".6816" stop-color="#fb0000"/><stop offset=".6823" stop-color="#ff0000"/><stop offset=".6859" stop-color="#ff1200"/><stop offset=".6863" stop-color="#ff5b00"/><stop offset=".6885" stop-color="#ff8000"/><stop offset=".6953" stop-color="#ff9d00"/><stop offset=".6989" stop-color="#ffcd00"/><stop offset=".7047" stop-color="#ffed00"/><stop offset=".7065" stop-color="#ffff00"/><stop offset=".7119" stop-color="#c8ff37"/><stop offset="1" stop-color="#c8ff37"/></linearGradient>
<linearGradient id="g102" x1="0" y1="0" x2="0" y2="1"><stop offset="0" stop-color="#59ffa6"/><stop offset=".1488" stop-color="#60ff9f"/><stop offset=".2923" stop-color="#6fff90"/><stop offset=".3148" stop-color="#73ff8c"/><stop offset=".3943" stop-color="#86ff79"/><stop offset=".452" stop-color="#9cff63"/><stop offset=".4917" stop-color="#b8ff47"/><stop offset=".5134" stop-color="#d3ff2c"/><stop offset=".5293" stop-color="#f4ff0b"/><stop offset=".5297" stop-color="#ffff00"/><stop offset=".5329" stop-color="#ff9f00"/><stop offset=".5441" stop-color="#ff9600"/><stop offset=".6738" stop-color="#ff9200"/><stop offset=".6818" stop-color="#ff0000"/><stop offset=".6859" stop-color="#b30000"/><stop offset=".6895" stop-color="#ca0000"/><stop offset=".6902" stop-color="#fb0000"/><stop offset=".691" stop-color="#ff0000"/><stop offset=".6946" stop-color="#ff1200"/><stop offset=".695" stop-color="#ff5b00"/><stop offset=".6977" stop-color="#ff8000"/><stop offset=".7056" stop-color="#ff9d00"/><stop offset=".7099" stop-color="#ffcd00"/><stop offset=".718" stop-color="#ffed00"/><stop offset=".7198" stop-color="#ffff00"/><stop offset=".7252" stop-color="#c8ff37"/><stop offset="1" stop-color="#c8ff37"/></linearGradient>
<linearGradient id="g103" x1="0" y1="0" x2="0" y2="1"><stop offset="0" stop-color="#58ffa7"/><stop offset=".1503" stop-color="#5effa1"/><stop offset=".2953" stop-color="#6dff92"/><stop offset=".3203" stop-color="#72ff8d"/><stop offset=".3997" stop-color="#85ff7a"/><stop offset=".4575" stop-color="#9cff63"/><stop offset=".4972" stop-color="#b7ff48"/><stop offset=".5189" stop-color="#d3ff2c"/><stop offset=".5348" stop-color="#f3ff0c"/><stop offset=".5351" stop-color="#ffff00"/><stop offset=".5384" stop-color="#ff9f00"/><stop offset=".5497" stop-color="#ff9700"/><stop offset=".6822" stop-color="#ff9200"/><stop offset=".6902" stop-color="#ff0000"/><stop offset=".6945" stop-color="#b10000"/><stop offset=".6982" stop-color="#c90000"/><stop offset=".6989" stop-color="#fb0000"/><stop offset=".6997" stop-color="#ff0000"/><stop offset=".7033" stop-color="#ff1200"/><stop offset=".7037" stop-color="#ff5b00"/><stop offset=".7069" stop-color="#ff8000"/><stop offset=".7162" stop-color="#ff9d00"/><stop offset=".7212" stop-color="#ffcd00"/><stop offset=".7319" stop-color="#ffed00"/><stop offset=".7337" stop-color="#ffff00"/><stop offset=".7391" stop-color="#c8ff37"/><stop offset="1" stop-color="#c8ff37"/></linearGradient>
<linearGradient id="g104" x1="0" y1="0" x2="0" y2="1"><stop offset="0" stop-color="#56ffa9"/><stop offset=".1518" stop-color="#5dffa2"/><stop offset=".2982" stop-color="#6cff93"/><stop offset=".3256" stop-color="#71ff8e"/><stop offset=".4051" stop-color="#84ff7b"/><stop offset=".4628" stop-color="#9bff64"/><stop offset=".5025" stop-color="#b7ff48"/><stop offset=".5242" stop-color="#d2ff2d"/><stop offset=".5401" stop-color="#f3ff0c"/><stop offset=".5405" stop-color="#ffff00"/><stop offset=".5437" stop-color="#ff9f00"/><stop offset=".5553" stop-color="#ff9700"/><stop offset=".6906" stop-color="#ff9200"/><stop offset=".6987" stop-color="#ff0000"/><stop offset=".7031" stop-color="#b00000"/><stop offset=".7068" stop-color="#c80000"/><stop offset=".7076" stop-color="#fb0000"/><stop offset=".7083" stop-color="#ff0000"/><stop offset=".712" stop-color="#ff1200"/><stop offset=".7123" stop-color="#ff5b00"/><stop offset=".7161" stop-color="#ff8000"/><stop offset=".7268" stop-color="#ff9d00"/><stop offset=".7326" stop-color="#ffcd00"/><stop offset=".746" stop-color="#ffed00"/><stop offset=".7478" stop-color="#ffff00"/><stop offset=".7533" stop-color="#c8ff37"/><stop offset="1" stop-color="#c8ff37"/></linearGradient>
<linearGradient id="g105" x1="0" y1="0" x2="0" y2="1"><stop offset="0" stop-color="#55ffaa"/><stop offset=".1533" stop-color="#5bffa4"/><stop offset=".3011" stop-color="#6bff94"/><stop offset=".3308" stop-color="#70ff8f"/><stop offset=".4102" stop-color="#83ff7c"/><stop offset=".468" stop-color="#9bff64"/><stop offset=".5077" stop-color="#b7ff48"/><stop offset=".5293" stop-color="#d2ff2d"/><stop offset=".5452" stop-color="#f3ff0c"/><stop offset=".5456" stop-color="#ffff00"/><stop offset=".5488" stop-color="#ff9f00"/><stop offset=".5607" stop-color="#ff9700"/><stop offset=".6989" stop-color="#ff9300"/><stop offset=".7071" stop-color="#ff0000"/><stop offset=".7115" stop-color="#b00000"/><stop offset=".7153" stop-color="#c80000"/><stop offset=".716" stop-color="#fb0000"/><stop offset=".7168" stop-color="#ff0000"/><stop offset=".7205" stop-color="#ff1200"/><stop offset=".7209" stop-color="#ff5b00"/><stop offset=".7252" stop-color="#ff8000"/><stop offset=".7373" stop-color="#ff9d00"/><stop offset=".7439" stop-color="#ffcd00"/><stop offset=".76" stop-color="#ffed00"/><stop offset=".7618" stop-color="#ffff00"/><stop offset=".7672" stop-color="#c8ff37"/><stop offset="1" stop-color="#c8ff37"/></linearGradient>
<linearGradient id="g106" x1="0" y1="0" x2="0" y2="1"><stop offset="0" stop-color="#53ffac"/><stop offset=".1547" stop-color="#5affa5"/><stop offset=".3039" stop-color="#69ff96"/><stop offset=".3359" stop-color="#6fff90"/><stop offset=".4153" stop-color="#82ff7d"/><stop offset=".473" stop-color="#9aff65"/><stop offset=".5128" stop-color="#b6ff49"/><stop offset=".5344" stop-color="#d2ff2d"/><stop offset=".5503" stop-color="#f2ff0d"/><stop offset=".5507" stop-color="#ffff00"/><stop offset=".5539" stop-color="#ffa000"/><stop offset=".566" stop-color="#ff9700"/><stop offset=".7071" stop-color="#ff9300"/><stop offset=".7154" stop-color="#ff0000"/><stop offset=".7199" stop-color="#b00000"/><stop offset=".7237" stop-color="#c80000"/><stop offset=".7244" stop-color="#fb0000"/><stop offset=".7252" stop-color="#ff0000"/><stop offset=".729" stop-color="#ff1200"/><stop offset=".7293" stop-color="#ff5b00"/><stop offset=".7342" stop-color="#ff8000"/><stop offset=".7477" stop-color="#ff9d00"/><stop offset=".755" stop-color="#ffcd00"/><stop offset=".7738" stop-color="#ffed00"/><stop offset=".7757" stop-color="#ffff00"/><stop offset=".7811" stop-color="#c8ff37"/><stop offset="1" stop-color="#c8ff37"/></linearGradient>
<linearGradient id="g107" x1="0" y1="0" x2="0" y2="1"><stop offset="0" stop-color="#51ffae"/><stop offset=".1561" stop-color="#58ffa7"/><stop offset=".3066" stop-color="#67ff98"/><stop offset=".3409" stop-color="#6dff92"/><stop offset=".4203" stop-color="#81ff7e"/><stop offset=".4781" stop-color="#99ff66"/><stop offset=".5178" stop-color="#b6ff49"/><stop offset=".5394" stop-color="#d2ff2d"/><stop offset=".5553" stop-color="#f2ff0d"/><stop offset=".5557" stop-color="#ffff00"/><stop offset=".5589" stop-color="#ffa000"/><stop offset=".5712" stop-color="#ff9700"/><stop offset=".7153" stop-color="#ff9300"/><stop offset=".7237" stop-color="#ff0000"/><stop offset=".7282" stop-color="#b00000"/><stop offset=".7321" stop-color="#c80000"/><stop offset=".7329" stop-color="#fb0000"/><stop offset=".7336" stop-color="#ff0000"/><stop offset=".7375" stop-color="#ff1200"/><stop offset=".7378" stop-color="#ff5b00"/><stop offset=".7433" stop-color="#ff8000"/><stop offset=".7583" stop-color="#ff9d00"/><stop offset=".7664" stop-color="#ffcd00"/><stop offset=".7881" stop-color="#ffed00"/><stop offset=".7899" stop-color="#ffff00"/><stop offset=".7953" stop-color="#c8ff37"/><stop offset="1" stop-color="#c8ff37"/></linearGradient>
<linearGradient id="g108" x1="0" y1="0" x2="0" y2="1"><stop offset="0" stop-color="#4fffb0"/><stop offset=".1575" stop-color="#55ffaa"/><stop offset=".3093" stop-color="#65ff9a"/><stop offset=".3457" stop-color="#6cff93"/><stop offset=".4252" stop-color="#80ff7f"/><stop offset=".4829" stop-color="#99ff66"/><stop offset=".5226" stop-color="#b6ff49"/><stop offset=".5443" stop-color="#d1ff2e"/><stop offset=".5602" stop-color="#f1ff0e"/><stop offset=".5606" stop-color="#ffff00"/><stop offset=".5638" stop-color="#ffa000"/><stop offset=".5764" stop-color="#ff9800"/><stop offset=".7236" stop-color="#ff9300"/><stop offset=".7321" stop-color="#ff0000"/><stop offset=".7367" stop-color="#b00000"/><stop offset=".7406" stop-color="#c80000"/><stop offset=".7413" stop-color="#fb0000"/><stop offset=".7421" stop-color="#ff0000"/><stop offset=".746" stop-color="#ff1200"/><stop offset=".7464" stop-color="#ff5b00"/><stop offset=".7524" stop-color="#ff8000"/><stop offset=".769" stop-color="#ff9d00"/><stop offset=".7779" stop-color="#ffcd00"/><stop offset=".8022" stop-color="#ffed00"/><stop offset=".8041" stop-color="#ffff00"/><stop offset=".8098" stop-color="#c8ff37"/><stop offset="1" stop-color="#c8ff37"/></linearGradient>
<linearGradient id="g109" x1="0" y1="0" x2="0" y2="1"><stop offset="0" stop-color="#4dffb2"/><stop offset=".1588" stop-color="#53ffac"/><stop offset=".3119" stop-color="#63ff9c"/><stop offset=".3504" stop-color="#6aff95"/><stop offset=".4298" stop-color="#7fff80"/><stop offset=".4876" stop-color="#98ff67"/><stop offset=".5273" stop-color="#b5ff4a"/><stop offset=".549" stop-color="#d1ff2e"/><stop offset=".5649" stop-color="#f1ff0e"/><stop offset=".5653" stop-color="#ffff00"/><stop offset=".5685" stop-color="#ffa000"/><stop offset=".5813" stop-color="#ff9800"/><stop offset=".7319" stop-color="#ff9300"/><stop offset=".7405" stop-color="#ff0000"/><stop offset=".7451" stop-color="#b00000"/><stop offset=".7491" stop-color="#c80000"/><stop offset=".7498" stop-color="#fb0000"/><stop offset=".7506" stop-color="#ff0000"/><stop offset=".7545" stop-color="#ff1200"/><stop offset=".7549" stop-color="#ff5b00"/><stop offset=".7615" stop-color="#ff8000"/><stop offset=".7797" stop-color="#ff9d00"/><stop offset=".7895" stop-color="#ffcd00"/><stop offset=".8161" stop-color="#ffed00"/><stop offset=".8182" stop-color="#ffff00"/><stop offset=".8245" stop-color="#c8ff37"/><stop offset="1" stop-color="#c8ff37"/></linearGradient>
<linearGradient id="g110" x1="0" y1="0" x2="0" y2="1"><stop offset="0" stop-color="#4affb5"/><stop offset=".16" stop-color="#51ffae"/><stop offset=".3143" stop-color="#61ff9e"/><stop offset=".3548" stop-color="#68ff97"/><stop offset=".4342" stop-color="#7eff81"/><stop offset=".492" stop-color="#97ff68"/><stop offset=".5317" stop-color="#b5ff4a"/><stop offset=".5533" stop-color="#d1ff2e"/><stop offset=".5692" stop-color="#f1ff0e"/><stop offset=".5697" stop-color="#ffff00"/><stop offset=".5728" stop-color="#ffa100"/><stop offset=".586" stop-color="#ff9800"/><stop offset=".7403" stop-color="#ff9400"/><stop offset=".7489" stop-color="#ff0000"/><stop offset=".7536" stop-color="#b00000"/><stop offset=".7575" stop-color="#c80000"/><stop offset=".7583" stop-color="#fb0000"/><stop offset=".7591" stop-color="#ff0000"/><stop offset=".7631" stop-color="#ff1200"/><stop offset=".7634" stop-color="#ff5b00"/><stop offset=".7707" stop-color="#ff8000"/><stop offset=".7905" stop-color="#ff9d00"/><stop offset=".8011" stop-color="#ffcd00"/><stop offset=".8301" stop-color="#ffed00"/><stop offset=".8323" stop-color="#ffff00"/><stop offset=".8392" stop-color="#c8ff37"/><stop offset="1" stop-color="#c8ff37"/></linearGradient>
<linearGradient id="g111" x1="0" y1="0" x2="0" y2="1"><stop offset="0" stop-color="#48ffb7"/><stop offset=".1611" stop-color="#4effb1"/><stop offset=".3165" stop-color="#5fffa0"/><stop offset=".3588" stop-color="#67ff98"/><stop offset=".4382" stop-color="#7dff82"/><stop offset=".496" stop-color="#97ff68"/><stop offset=".5357" stop-color="#b5ff4a"/><stop offset=".5574" stop-color="#d0ff2f"/><stop offset=".5732" stop-color="#f0ff0f"/><stop offset=".5737" stop-color="#ffff00"/><stop offset=".5769" stop-color="#ffa100"/><stop offset=".5903" stop-color="#ff9800"/><stop offset=".7486" stop-color="#ff9400"/><stop offset=".7573" stop-color="#ff0000"/><stop offset=".762" stop-color="#b00000"/><stop offset=".766" stop-color="#c80000"/><stop offset=".7668" stop-color="#fb0000"/><stop offset=".7676" stop-color="#ff0000"/><stop offset=".7716" stop-color="#ff1200"/><stop offset=".772" stop-color="#ff5b00"/><stop offset=".7798" stop-color="#ff8000"/><stop offset=".8012" stop-color="#ff9d00"/><stop offset=".8127" stop-color="#ffcd00"/><stop offset=".8439" stop-color="#ffed00"/><stop offset=".8464" stop-color="#ffff00"/><stop offset=".8538" stop-color="#c8ff37"/><stop offset="1" stop-color="#c8ff37"/></linearGradient>
<linearGradient id="g112" x1="0" y1="0" x2="0" y2="1"><stop offset="0" stop-color="#45ffba"/><stop offset=".1622" stop-color="#4bffb4"/><stop offset=".3185" stop-color="#5cffa3"/><stop offset=".3625" stop-color="#65ff9a"/><stop offset=".4419" stop-color="#7cff83"/><stop offset=".4997" stop-color="#96ff69"/><stop offset=".5394" stop-color="#b5ff4a"/><stop offset=".5611" stop-color="#d0ff2f"/><stop offset=".577" stop-color="#f0ff0f"/><stop offset=".5775" stop-color="#ffff00"/><stop offset=".5806" stop-color="#ffa100"/><stop offset=".5943" stop-color="#ff9800"/><stop offset=".757" stop-color="#ff9400"/><stop offset=".7657" stop-color="#ff0000"/><stop offset=".7705" stop-color="#b00000"/><stop offset=".7745" stop-color="#c80000"/><stop offset=".7753" stop-color="#fb0000"/><stop offset=".7761" stop-color="#ff0000"/><stop offset=".7802" stop-color="#ff1200"/><stop offset=".7805" stop-color="#ff5b00"/><stop offset=".789" stop-color="#ff8000"/><stop offset=".8118" stop-color="#ff9d00"/><stop offset=".8241" stop-color="#ffcd00"/><stop offset=".8576" stop-color="#ffed00"/><stop offset=".8602" stop-color="#ffff00"/><stop offset=".8681" stop-color="#c8ff37"/><stop offset="1" stop-color="#c8ff37"/></linearGradient>
<linearGradient id="g113" x1="0" y1="0" x2="0" y2="1"><stop offset="0" stop-color="#42ffbd"/><stop offset=".1632" stop-color="#49ffb6"/><stop offset=".3206" stop-color="#5affa5"/><stop offset=".3662" stop-color="#63ff9c"/><stop offset=".4456" stop-color="#7bff84"/><stop offset=".5034" stop-color="#96ff69"/><stop offset=".5431" stop-color="#b5ff4a"/><stop offset=".5648" stop-color="#d1ff2e"/><stop offset=".5807" stop-color="#f0ff0f"/><stop offset=".5812" stop-color="#ffff00"/><stop offset=".5843" stop-color="#ffa200"/><stop offset=".5983" stop-color="#ff9800"/><stop offset=".7653" stop-color="#ff9400"/><stop offset=".7742" stop-color="#ff0000"/><stop offset=".7789" stop-color="#b00000"/><stop offset=".7829" stop-color="#c80000"/><stop offset=".7837" stop-color="#fb0000"/><stop offset=".7846" stop-color="#ff0000"/><stop offset=".7887" stop-color="#ff1200"/><stop offset=".7891" stop-color="#ff5b00"/><stop offset=".7981" stop-color="#ff8000"/><stop offset=".8224" stop-color="#ff9d00"/><stop offset=".8354" stop-color="#ffcd00"/><stop offset=".8709" stop-color="#ffed00"/><stop offset=".8737" stop-color="#ffff00"/><stop offset=".8821" stop-color="#c8ff37"/><stop offset="1" stop-color="#c8ff37"/></linearGradient>
<linearGradient id="g114" x1="0" y1="0" x2="0" y2="1"><stop offset="0" stop-color="#40ffbf"/><stop offset=".1642" stop-color="#47ffb8"/><stop offset=".3225" stop-color="#58ffa7"/><stop offset=".3697" stop-color="#62ff9d"/><stop offset=".4491" stop-color="#7aff85"/><stop offset=".5069" stop-color="#96ff69"/><stop offset=".5466" stop-color="#b5ff4a"/><stop offset=".5683" stop-color="#d1ff2e"/><stop offset=".5841" stop-color="#f0ff0f"/><stop offset=".5846" stop-color="#ffff00"/><stop offset=".5878" stop-color="#ffa200"/><stop offset=".6022" stop-color="#ff9900"/><stop offset=".7738" stop-color="#ff9400"/><stop offset=".7827" stop-color="#ff0000"/><stop offset=".7875" stop-color="#b00000"/><stop offset=".7915" stop-color="#c80000"/><stop offset=".7923" stop-color="#fb0000"/><stop offset=".7932" stop-color="#ff0000"/><stop offset=".7974" stop-color="#ff1200"/><stop offset=".7977" stop-color="#ff5b00"/><stop offset=".8073" stop-color="#ff8000"/><stop offset=".8329" stop-color="#ff9d00"/><stop offset=".8468" stop-color="#ffcd00"/><stop offset=".8843" stop-color="#ffed00"/><stop offset=".8873" stop-color="#ffff00"/><stop offset=".8962" stop-color="#c8ff37"/><stop offset="1" stop-color="#c8ff37"/></linearGradient>
<linearGradient id="g115" x1="0" y1="0" x2="0" y2="1"><stop offset="0" stop-color="#3effc1"/><stop offset=".165" stop-color="#45ffba"/><stop offset=".3242" stop-color="#57ffa8"/><stop offset=".3728" stop-color="#61ff9e"/><stop offset=".4522" stop-color="#79ff86"/><stop offset=".51" stop-color="#96ff69"/><stop offset=".5497" stop-color="#b6ff49"/><stop offset=".5713" stop-color="#d1ff2e"/><stop offset=".5872" stop-color="#f0ff0f"/><stop offset=".5877" stop-color="#ffff00"/><stop offset=".5908" stop-color="#ffa200"/><stop offset=".6056" stop-color="#ff9900"/><stop offset=".7823" stop-color="#ff9400"/><stop offset=".7913" stop-color="#ff0000"/><stop offset=".7961" stop-color="#b00000"/><stop offset=".8002" stop-color="#c80000"/><stop offset=".801" stop-color="#fb0000"/><stop offset=".8019" stop-color="#ff0000"/><stop offset=".8061" stop-color="#ff1200"/><stop offset=".8065" stop-color="#ff5b00"/><stop offset=".8166" stop-color="#ff8000"/><stop offset=".8437" stop-color="#ff9d00"/><stop offset=".8583" stop-color="#ffcd00"/><stop offset=".898" stop-color="#ffed00"/><stop offset=".9012" stop-color="#ffff00"/><stop offset=".9106" stop-color="#c8ff37"/><stop offset="1" stop-color="#c8ff37"/></linearGradient>
<linearGradient id="g116" x1="0" y1="0" x2="0" y2="1"><stop offset="0" stop-color="#3bffc4"/><stop offset=".1657" stop-color="#42ffbd"/><stop offset=".3255" stop-color="#55ffaa"/><stop offset=".3753" stop-color="#5fffa0"/><stop offset=".4547" stop-color="#79ff86"/><stop offset=".5125" stop-color="#96ff69"/><stop offset=".5522" stop-color="#b6ff49"/><stop offset=".5738" stop-color="#d2ff2d"/><stop offset=".5897" stop-color="#f0ff0f"/><stop offset=".5902" stop-color="#ffff00"/><stop offset=".5933" stop-color="#ffa300"/><stop offset=".6084" stop-color="#ff9900"/><stop offset=".7908" stop-color="#ff9500"/><stop offset=".7999" stop-color="#ff0000"/><stop offset=".8047" stop-color="#b00000"/><stop offset=".8088" stop-color="#c80000"/><stop offset=".8097" stop-color="#fb0000"/><stop offset=".8105" stop-color="#ff0000"/><stop offset=".8149" stop-color="#ff1200"/><stop offset=".8152" stop-color="#ff5b00"/><stop offset=".8259" stop-color="#ff8000"/><stop offset=".8547" stop-color="#ff9d00"/><stop offset=".8702" stop-color="#ffcd00"/><stop offset=".9123" stop-color="#ffed00"/><stop offset=".9157" stop-color="#ffff00"/><stop offset=".9256" stop-color="#c8ff37"/><stop offset="1" stop-color="#c8ff37"/></linearGradient>
<linearGradient id="g117" x1="0" y1="0" x2="0" y2="1"><stop offset="0" stop-color="#39ffc6"/><stop offset=".1662" stop-color="#40ffbf"/><stop offset=".3265" stop-color="#53ffac"/><stop offset=".377" stop-color="#5effa1"/><stop offset=".4564" stop-color="#78ff87"/><stop offset=".5142" stop-color="#96ff69"/><stop offset=".5539" stop-color="#b7ff48"/><stop offset=".5755" stop-color="#d2ff2d"/><stop offset=".5914" stop-color="#f0ff0f"/><stop offset=".5919" stop-color="#ffff00"/><stop offset=".595" stop-color="#ffa300"/><stop offset=".6105" stop-color="#ff9900"/><stop offset=".7993" stop-color="#ff9500"/><stop offset=".8084" stop-color="#ff0000"/><stop offset=".8133" stop-color="#b00000"/><stop offset=".8174" stop-color="#c80000"/><stop offset=".8183" stop-color="#fb0000"/><stop offset=".8192" stop-color="#ff0000"/><stop offset=".8235" stop-color="#ff1200"/><stop offset=".8239" stop-color="#ff5b00"/><stop offset=".8353" stop-color="#ff8000"/><stop offset=".866" stop-color="#ff9d00"/><stop offset=".8826" stop-color="#ffcd00"/><stop offset=".9275" stop-color="#ffed00"/><stop offset=".931" stop-color="#ffff00"/><stop offset=".9416" stop-color="#c8ff37"/><stop offset="1" stop-color="#c8ff37"/></linearGradient>
<linearGradient id="g118" x1="0" y1="0" x2="0" y2="1"><stop offset="0" stop-color="#37ffc8"/><stop offset=".1666" stop-color="#3effc1"/><stop offset=".3273" stop-color="#52ffad"/><stop offset=".3784" stop-color="#5dffa2"/><stop offset=".4579" stop-color="#78ff87"/><stop offset=".5156" stop-color="#96ff69"/><stop offset=".5553" stop-color="#b7ff48"/><stop offset=".577" stop-color="#d3ff2c"/><stop offset=".5929" stop-color="#f0ff0f"/><stop offset=".5934" stop-color="#ffff00"/><stop offset=".5965" stop-color="#ffa300"/><stop offset=".6123" stop-color="#ff9900"/><stop offset=".8076" stop-color="#ff9500"/><stop offset=".8168" stop-color="#ff0000"/><stop offset=".8217" stop-color="#b00000"/><stop offset=".8259" stop-color="#c80000"/><stop offset=".8268" stop-color="#fb0000"/><stop offset=".8277" stop-color="#ff0000"/><stop offset=".8321" stop-color="#ff1200"/><stop offset=".8324" stop-color="#ff5b00"/><stop offset=".8447" stop-color="#ff8000"/><stop offset=".8776" stop-color="#ff9d00"/><stop offset=".8953" stop-color="#ffcd00"/><stop offset=".9433" stop-color="#ffed00"/><stop offset=".9471" stop-color="#ffff00"/><stop offset=".9585" stop-color="#c8ff37"/><stop offset="1" stop-color="#c8ff37"/></linearGradient>
<linearGradient id="g119" x1="0" y1="0" x2="0" y2="1"><stop offset="0" stop-color="#35ffca"/><stop offset=".167" stop-color="#3cffc3"/><stop offset=".328" stop-color="#50ffaf"/><stop offset=".3798" stop-color="#5cffa3"/><stop offset=".4592" stop-color="#77ff88"/><stop offset=".517" stop-color="#96ff69"/><stop offset=".5567" stop-color="#b8ff47"/><stop offset=".5784" stop-color="#d3ff2c"/><stop offset=".5943" stop-color="#f0ff0f"/><stop offset=".5948" stop-color="#ffff00"/><stop offset=".5979" stop-color="#ffa400"/><stop offset=".6141" stop-color="#ff9a00"/><stop offset=".8157" stop-color="#ff9500"/><stop offset=".825" stop-color="#ff0000"/><stop offset=".8299" stop-color="#b00000"/><stop offset=".8342" stop-color="#c80000"/><stop offset=".835" stop-color="#fb0000"/><stop offset=".8359" stop-color="#ff0000"/><stop offset=".8404" stop-color="#ff1200"/><stop offset=".8408" stop-color="#ff5b00"/><stop offset=".854" stop-color="#ff8000"/><stop offset=".8893" stop-color="#ff9d00"/><stop offset=".9083" stop-color="#ffcd00"/><stop offset=".9598" stop-color="#ffed00"/><stop offset=".9639" stop-color="#ffff00"/><stop offset=".9761" stop-color="#c8ff37"/><stop offset="1" stop-color="#c8ff37"/></linearGradient>
<linearGradient id="g120" x1="0" y1="0" x2="0" y2="1"><stop offset="0" stop-color="#32ffcd"/><stop offset=".1674" stop-color="#3affc5"/><stop offset=".3287" stop-color="#4effb1"/><stop offset=".3811" stop-color="#5affa5"/><stop offset=".4605" stop-color="#76ff89"/><stop offset=".5183" stop-color="#96ff69"/><stop offset=".558" stop-color="#b8ff47"/><stop offset=".5797" stop-color="#d3ff2c"/><stop offset=".5956" stop-color="#f0ff0f"/><stop offset=".5961" stop-color="#ffff00"/><stop offset=".5992" stop-color="#ffa400"/><stop offset=".6157" stop-color="#ff9a00"/><stop offset=".8235" stop-color="#ff9500"/><stop offset=".8329" stop-color="#ff0000"/><stop offset=".8379" stop-color="#b00000"/><stop offset=".8422" stop-color="#c80000"/><stop offset=".843" stop-color="#fb0000"/><stop offset=".844" stop-color="#ff0000"/><stop offset=".8485" stop-color="#ff1200"/><stop offset=".8489" stop-color="#ff5b00"/><stop offset=".8631" stop-color="#ff8000"/><stop offset=".901" stop-color="#ff9d00"/><stop offset=".9215" stop-color="#ffcd00"/><stop offset=".9769" stop-color="#ffed00"/><stop offset=".9813" stop-color="#ffff00"/><stop offset=".9944" stop-color="#c8ff37"/><stop offset="1" stop-color="#c8ff37"/></linearGradient>
<linearGradient id="g121" x1="0" y1="0" x2="0" y2="1"><stop offset="0" stop-color="#30ffcf"/><stop offset=".1677" stop-color="#38ffc7"/><stop offset=".3294" stop-color="#4dffb2"/><stop offset=".3823" stop-color="#59ffa6"/><stop offset=".4617" stop-color="#76ff89"/><stop offset=".5195" stop-color="#96ff69"/><stop offset=".5592" stop-color="#b8ff47"/><stop offset=".5809" stop-color="#d3ff2c"/><stop offset=".5968" stop-color="#f0ff0f"/><stop offset=".5973" stop-color="#ffff00"/><stop offset=".6004" stop-color="#ffa400"/><stop offset=".6174" stop-color="#ff9a00"/><stop offset=".831" stop-color="#ff9600"/><stop offset=".8406" stop-color="#ff0000"/><stop offset=".8456" stop-color="#b00000"/><stop offset=".8499" stop-color="#c80000"/><stop offset=".8508" stop-color="#fb0000"/><stop offset=".8517" stop-color="#ff0000"/><stop offset=".8564" stop-color="#ff1200"/><stop offset=".8567" stop-color="#ff5200"/><stop offset=".8995" stop-color="#ff8300"/><stop offset=".9497" stop-color="#ffb300"/><stop offset="1" stop-color="#ffc700"/></linearGradient>
<linearGradient id="g122" x1="0" y1="0" x2="0" y2="1"><stop offset="0" stop-color="#2effd1"/><stop offset=".168" stop-color="#36ffc9"/><stop offset=".33" stop-color="#4bffb4"/><stop offset=".3834" stop-color="#58ffa7"/><stop offset=".4628" stop-color="#75ff8a"/><stop offset=".5206" stop-color="#96ff69"/><stop offset=".5603" stop-color="#b8ff47"/><stop offset=".582" stop-color="#d4ff2b"/><stop offset=".5978" stop-color="#f0ff0f"/><stop offset=".5984" stop-color="#ffff00"/><stop offset=".6014" stop-color="#ffa500"/><stop offset=".6192" stop-color="#ff9a00"/><stop offset=".8385" stop-color="#ff9600"/><stop offset=".8481" stop-color="#ff0000"/><stop offset=".8532" stop-color="#b00000"/><stop offset=".8576" stop-color="#c80000"/><stop offset=".8585" stop-color="#fb0000"/><stop offset=".8594" stop-color="#ff0000"/><stop offset=".8641" stop-color="#ff1200"/><stop offset=".8645" stop-color="#ff5000"/><stop offset=".9049" stop-color="#ff7c00"/><stop offset=".9525" stop-color="#ff9e00"/><stop offset="1" stop-color="#ff9700"/></linearGradient>
<linearGradient id="g123" x1="0" y1="0" x2="0" y2="1"><stop offset="0" stop-color="#2dffd2"/><stop offset=".1683" stop-color="#34ffcb"/><stop offset=".3305" stop-color="#4affb5"/><stop offset=".3844" stop-color="#57ffa8"/><stop offset=".4638" stop-color="#74ff8b"/><stop offset=".5215" stop-color="#96ff69"/><stop offset=".5612" stop-color="#b8ff47"/><stop offset=".5829" stop-color="#d4ff2b"/><stop offset=".5988" stop-color="#efff10"/><stop offset=".5993" stop-color="#ffff00"/><stop offset=".6024" stop-color="#ffa500"/><stop offset=".6211" stop-color="#ff9a00"/><stop offset=".8457" stop-color="#ff9600"/><stop offset=".8555" stop-color="#ff0000"/><stop offset=".8607" stop-color="#b00000"/><stop offset=".8651" stop-color="#c80000"/><stop offset=".866" stop-color="#fb0000"/><stop offset=".867" stop-color="#ff0000"/><stop offset=".8718" stop-color="#ff1200"/><stop offset=".8721" stop-color="#ff4d00"/><stop offset=".9102" stop-color="#ff7200"/><stop offset=".9551" stop-color="#ff8300"/><stop offset="1" stop-color="#ff6e00"/></linearGradient>
<linearGradient id="g124" x1="0" y1="0" x2="0" y2="1"><stop offset="0" stop-color="#2bffd4"/><stop offset=".1685" stop-color="#33ffcc"/><stop offset=".331" stop-color="#48ffb7"/><stop offset=".3852" stop-color="#56ffa9"/><stop offset=".4646" stop-color="#74ff8b"/><stop offset=".5223" stop-color="#96ff69"/><stop offset=".5621" stop-color="#b8ff47"/><stop offset=".5837" stop-color="#d4ff2b"/><stop offset=".5996" stop-color="#efff10"/><stop offset=".6002" stop-color="#ffff00"/><stop offset=".6032" stop-color="#ffa600"/><stop offset=".623" stop-color="#ff9a00"/><stop offset=".8528" stop-color="#ff9600"/><stop offset=".8628" stop-color="#ff0000"/><stop offset=".868" stop-color="#b00000"/><stop offset=".8725" stop-color="#c80000"/><stop offset=".8734" stop-color="#fb0000"/><stop offset=".8744" stop-color="#ff0000"/><stop offset=".8793" stop-color="#ff1200"/><stop offset=".8796" stop-color="#ff4900"/><stop offset=".9155" stop-color="#ff6700"/><stop offset=".9577" stop-color="#ff6500"/><stop offset="1" stop-color="#ff4800"/></linearGradient>
<linearGradient id="g125" x1="0" y1="0" x2="0" y2="1"><stop offset="0" stop-color="#2affd5"/><stop offset=".1687" stop-color="#32ffcd"/><stop offset=".3313" stop-color="#48ffb7"/><stop offset=".3858" stop-color="#55ffaa"/><stop offset=".4652" stop-color="#74ff8b"/><stop offset=".523" stop-color="#96ff69"/><stop offset=".5627" stop-color="#b9ff46"/><stop offset=".5844" stop-color="#d4ff2b"/><stop offset=".6002" stop-color="#eeff11"/><stop offset=".6008" stop-color="#ffff00"/><stop offset=".6039" stop-color="#ffa600"/><stop offset=".6249" stop-color="#ff9b00"/><stop offset=".8597" stop-color="#ff9600"/><stop offset=".8698" stop-color="#ff0000"/><stop offset=".8752" stop-color="#b00000"/><stop offset=".8797" stop-color="#c80000"/><stop offset=".8806" stop-color="#fb0000"/><stop offset=".8816" stop-color="#ff0000"/><stop offset=".8866" stop-color="#ff1200"/><stop offset=".8869" stop-color="#ff4500"/><stop offset=".9206" stop-color="#ff5c00"/><stop offset=".9603" stop-color="#ff4d00"/><stop offset="1" stop-color="#ff3000"/></linearGradient>
<linearGradient id="g126" x1="0" y1="0" x2="0" y2="1"><stop offset="0" stop-color="#29ffd6"/><stop offset=".1688" stop-color="#31ffce"/><stop offset=".3316" stop-color="#47ffb8"/><stop offset=".3863" stop-color="#55ffaa"/><stop offset=".4657" stop-color="#73ff8c"/><stop offset=".5235" stop-color="#96ff69"/><stop offset=".5632" stop-color="#b9ff46"/><stop offset=".5848" stop-color="#d3ff2c"/><stop offset=".6007" stop-color="#eeff11"/><stop offset=".6013" stop-color="#ffff00"/><stop offset=".6043" stop-color="#ffa700"/><stop offset=".6267" stop-color="#ff9b00"/><stop offset=".8664" stop-color="#ff9600"/><stop offset=".8767" stop-color="#ff0000"/><stop offset=".8821" stop-color="#b00000"/><stop offset=".8866" stop-color="#c80000"/><stop offset=".8876" stop-color="#fb0000"/><stop offset=".8886" stop-color="#ff0000"/><stop offset=".8937" stop-color="#ff1200"/><stop offset=".8941" stop-color="#ff4000"/><stop offset=".9256" stop-color="#ff4f00"/><stop offset=".9628" stop-color="#ff3d00"/><stop offset="1" stop-color="#ff2400"/></linearGradient>
<linearGradient id="g127" x1="0" y1="0" x2="0" y2="1"><stop offset="0" stop-color="#28ffd7"/><stop offset=".1689" stop-color="#30ffcf"/><stop offset=".3317" stop-color="#46ffb9"/><stop offset=".3866" stop-color="#54ffab"/><stop offset=".466" stop-color="#73ff8c"/><stop offset=".5237" stop-color="#96ff69"/><stop offset=".5635" stop-color="#b9ff46"/><stop offset=".5851" stop-color="#d3ff2c"/><stop offset=".601" stop-color="#edff12"/><stop offset=".6016" stop-color="#ffff00"/><stop offset=".6046" stop-color="#ffa700"/><stop offset=".6285" stop-color="#ff9b00"/><stop offset=".8728" stop-color="#ff9700"/><stop offset=".8833" stop-color="#ff0000"/><stop offset=".8888" stop-color="#b00000"/><stop offset=".8934" stop-color="#c80000"/><stop offset=".8944" stop-color="#fb0000"/><stop offset=".8955" stop-color="#ff0000"/><stop offset=".9006" stop-color="#ff1200"/><stop offset=".901" stop-color="#ff3900"/><stop offset=".9304" stop-color="#ff4000"/><stop offset=".9652" stop-color="#ff2f00"/><stop offset="1" stop-color="#ff1b00"/></linearGradient>
<linearGradient id="g128" x1="0" y1="0" x2="0" y2="1"><stop offset="0" stop-color="#26ffd9"/><stop offset=".1689" stop-color="#2fffd0"/><stop offset=".3318" stop-color="#45ffba"/><stop offset=".3866" stop-color="#53ffac"/><stop offset=".4661" stop-color="#72ff8d"/><stop offset=".5238" stop-color="#95ff6a"/><stop offset=".5635" stop-color="#b8ff47"/><stop offset=".5852" stop-color="#d3ff2c"/><stop offset=".6011" stop-color="#edff12"/><stop offset=".6017" stop-color="#ffff00"/><stop offset=".6047" stop-color="#ffa800"/><stop offset=".6302" stop-color="#ff9b00"/><stop offset=".8788" stop-color="#ff9700"/><stop offset=".8897" stop-color="#ff0000"/><stop offset=".8954" stop-color="#b00000"/><stop offset=".9" stop-color="#c80000"/><stop offset=".901" stop-color="#fb0000"/><stop offset=".9021" stop-color="#ff0000"/><stop offset=".9074" stop-color="#ff1200"/><stop offset=".9077" stop-color="#ff3100"/><stop offset=".9352" stop-color="#ff3200"/><stop offset=".9676" stop-color="#ff2400"/><stop offset="1" stop-color="#ff1400"/></linearGradient>
<linearGradient id="g129" x1="0" y1="0" x2="0" y2="1"><stop offset="0" stop-color="#25ffda"/><stop offset=".1689" stop-color="#2dffd2"/><stop offset=".3317" stop-color="#43ffbc"/><stop offset=".3865" stop-color="#51ffae"/><stop offset=".466" stop-color="#71ff8e"/><stop offset=".5237" stop-color="#95ff6a"/><stop offset=".5634" stop-color="#b8ff47"/><stop offset=".5851" stop-color="#d3ff2c"/><stop offset=".601" stop-color="#ecff13"/><stop offset=".6016" stop-color="#ffff00"/><stop offset=".6046" stop-color="#ffa900"/><stop offset=".6319" stop-color="#ff9b00"/><stop offset=".8841" stop-color="#ff9700"/><stop offset=".8957" stop-color="#ff0000"/><stop offset=".9019" stop-color="#b00000"/><stop offset=".9067" stop-color="#c80000"/><stop offset=".9077" stop-color="#fb0000"/><stop offset=".9088" stop-color="#ff0000"/><stop offset=".9143" stop-color="#ff1200"/><stop offset=".9146" stop-color="#ff2900"/><stop offset=".94" stop-color="#ff2400"/><stop offset=".97" stop-color="#ff1a00"/><stop offset="1" stop-color="#ff0f00"/></linearGradient>
<linearGradient id="g130" x1="0" y1="0" x2="0" y2="1"><stop offset="0" stop-color="#24ffdb"/><stop offset=".1688" stop-color="#2cffd3"/><stop offset=".3316" stop-color="#42ffbd"/><stop offset=".3863" stop-color="#50ffaf"/><stop offset=".4657" stop-color="#70ff8f"/><stop offset=".5235" stop-color="#94ff6b"/><stop offset=".5632" stop-color="#b8ff47"/><stop offset=".5848" stop-color="#d2ff2d"/><stop offset=".6007" stop-color="#ecff13"/><stop offset=".6014" stop-color="#ffff00"/><stop offset=".6043" stop-color="#ffaa00"/><stop offset=".6335" stop-color="#ff9c00"/><stop offset=".8881" stop-color="#ff9700"/><stop offset=".9011" stop-color="#ff0000"/><stop offset=".908" stop-color="#b00000"/><stop offset=".9129" stop-color="#c80000"/><stop offset=".914" stop-color="#fb0000"/><stop offset=".9151" stop-color="#ff0000"/><stop offset=".9209" stop-color="#ff1200"/><stop offset=".9212" stop-color="#ff2100"/><stop offset=".9446" stop-color="#ff1a00"/><stop offset=".9723" stop-color="#ff1300"/><stop offset="1" stop-color="#ff0b00"/></linearGradient>
<linearGradient id="g131" x1="0" y1="0" x2="0" y2="1"><stop offset="0" stop-color="#23ffdc"/><stop offset=".1687" stop-color="#2bffd4"/><stop offset=".3314" stop-color="#41ffbe"/><stop offset=".3859" stop-color="#4fffb0"/><stop offset=".4653" stop-color="#6eff91"/><stop offset=".5231" stop-color="#93ff6c"/><stop offset=".5628" stop-color="#b7ff48"/><stop offset=".5844" stop-color="#d2ff2d"/><stop offset=".6003" stop-color="#ecff13"/><stop offset=".601" stop-color="#ffff00"/><stop offset=".6039" stop-color="#ffaa00"/><stop offset=".635" stop-color="#ff9c00"/><stop offset=".8907" stop-color="#ff9700"/><stop offset=".9054" stop-color="#ff0000"/><stop offset=".9131" stop-color="#b00000"/><stop offset=".9182" stop-color="#c80000"/><stop offset=".9193" stop-color="#fb0000"/><stop offset=".9205" stop-color="#ff0000"/><stop offset=".9265" stop-color="#ff1200"/><stop offset=".9269" stop-color="#ff1800"/><stop offset=".9486" stop-color="#ff1100"/><stop offset=".9743" stop-color="#ff0d00"/><stop offset="1" stop-color="#ff0800"/></linearGradient>
<linearGradient id="g132" x1="0" y1="0" x2="0" y2="1"><stop offset="0" stop-color="#22ffdd"/><stop offset=".1685" stop-color="#2affd5"/><stop offset=".3311" stop-color="#3fffc0"/><stop offset=".3853" stop-color="#4dffb2"/><stop offset=".4648" stop-color="#6dff92"/><stop offset=".5225" stop-color="#92ff6d"/><stop offset=".5622" stop-color="#b6ff49"/><stop offset=".5839" stop-color="#d2ff2d"/><stop offset=".5998" stop-color="#ebff14"/><stop offset=".6005" stop-color="#ffff00"/><stop offset=".6034" stop-color="#ffab00"/><stop offset=".6364" stop-color="#ff9c00"/><stop offset=".8925" stop-color="#ff9800"/><stop offset=".9092" stop-color="#ff0000"/><stop offset=".9179" stop-color="#b00000"/><stop offset=".9231" stop-color="#c80000"/><stop offset=".9243" stop-color="#fb0000"/><stop offset=".9255" stop-color="#ff0000"/><stop offset=".9317" stop-color="#ff1200"/><stop offset=".932" stop-color="#ff0d00"/><stop offset=".9522" stop-color="#ff0a00"/><stop offset=".9761" stop-color="#ff0700"/><stop offset="1" stop-color="#ff0500"/></linearGradient>
<linearGradient id="g133" x1="0" y1="0" x2="0" y2="1"><stop offset="0" stop-color="#21ffde"/><stop offset=".1684" stop-color="#29ffd6"/><stop offset=".3307" stop-color="#3effc1"/><stop offset=".3847" stop-color="#4cffb3"/><stop offset=".4641" stop-color="#6cff93"/><stop offset=".5219" stop-color="#91ff6e"/><stop offset=".5616" stop-color="#b6ff49"/><stop offset=".5833" stop-color="#d1ff2e"/><stop offset=".5992" stop-color="#ebff14"/><stop offset=".5999" stop-color="#ffff00"/><stop offset=".6028" stop-color="#ffac00"/><stop offset=".6378" stop-color="#ff9c00"/><stop offset=".8932" stop-color="#ff9800"/><stop offset=".9119" stop-color="#ff0000"/><stop offset=".9217" stop-color="#b00000"/><stop offset=".9269" stop-color="#c80000"/><stop offset=".9281" stop-color="#fb0000"/><stop offset=".9294" stop-color="#ff0000"/><stop offset=".9357" stop-color="#ff1200"/><stop offset=".9361" stop-color="#ff0500"/><stop offset=".955" stop-color="#ff0400"/><stop offset=".9775" stop-color="#ff0400"/><stop offset="1" stop-color="#ff0400"/></linearGradient>
<linearGradient id="g134" x1="0" y1="0" x2="0" y2="1"><stop offset="0" stop-color="#20ffdf"/><stop offset=".1682" stop-color="#27ffd8"/><stop offset=".3303" stop-color="#3cffc3"/><stop offset=".384" stop-color="#4affb5"/><stop offset=".4634" stop-color="#6aff95"/><stop offset=".5212" stop-color="#8fff70"/><stop offset=".5609" stop-color="#b5ff4a"/><stop offset=".5825" stop-color="#d1ff2e"/><stop offset=".5984" stop-color="#eaff15"/><stop offset=".5991" stop-color="#ffff00"/><stop offset=".602" stop-color="#ffad00"/><stop offset=".6391" stop-color="#ff9c00"/><stop offset=".8905" stop-color="#ff9800"/><stop offset=".9112" stop-color="#ff0000"/><stop offset=".922" stop-color="#b00000"/><stop offset=".9273" stop-color="#c80000"/><stop offset=".9285" stop-color="#fb0000"/><stop offset=".9297" stop-color="#ff0000"/><stop offset=".9361" stop-color="#ff1200"/><stop offset=".9364" stop-color="#ff0400"/><stop offset=".9553" stop-color="#ff0400"/><stop offset=".9776" stop-color="#ff0400"/><stop offset="1" stop-color="#ff0400"/></linearGradient>
<linearGradient id="g135" x1="0" y1="0" x2="0" y2="1"><stop offset="0" stop-color="#20ffdf"/><stop offset=".1679" stop-color="#26ffd9"/><stop offset=".3299" stop-color="#3bffc4"/><stop offset=".3831" stop-color="#48ffb7"/><stop offset=".4626" stop-color="#68ff97"/><stop offset=".5203" stop-color="#8eff71"/><stop offset=".56" stop-color="#b4ff4b"/><stop offset=".5817" stop-color="#d0ff2f"/><stop offset=".5976" stop-color="#eaff15"/><stop offset=".5983" stop-color="#ffff00"/><stop offset=".6012" stop-color="#ffae00"/><stop offset=".6403" stop-color="#ff9c00"/><stop offset=".8851" stop-color="#ff9800"/><stop offset=".9075" stop-color="#ff0000"/><stop offset=".9193" stop-color="#b00000"/><stop offset=".9245" stop-color="#c80000"/><stop offset=".9257" stop-color="#fb0000"/><stop offset=".927" stop-color="#ff0000"/><stop offset=".9333" stop-color="#ff1200"/><stop offset=".9337" stop-color="#ff0900"/><stop offset=".9533" stop-color="#ff0800"/><stop offset=".9767" stop-color="#ff0600"/><stop offset="1" stop-color="#ff0600"/></linearGradient>
<linearGradient id="g136" x1="0" y1="0" x2="0" y2="1"><stop offset="0" stop-color="#1fffe0"/><stop offset=".1677" stop-color="#25ffda"/><stop offset=".3294" stop-color="#39ffc6"/><stop offset=".3822" stop-color="#46ffb9"/><stop offset=".4617" stop-color="#66ff99"/><stop offset=".5194" stop-color="#8dff72"/><stop offset=".5591" stop-color="#b3ff4c"/><stop offset=".5808" stop-color="#d0ff2f"/><stop offset=".5967" stop-color="#eaff15"/><stop offset=".5974" stop-color="#ffff00"/><stop offset=".6003" stop-color="#ffaf00"/><stop offset=".6414" stop-color="#ff9c00"/><stop offset=".8789" stop-color="#ff9800"/><stop offset=".9031" stop-color="#ff0000"/><stop offset=".9157" stop-color="#b00000"/><stop offset=".9209" stop-color="#c80000"/><stop offset=".9221" stop-color="#fb0000"/><stop offset=".9234" stop-color="#ff0000"/><stop offset=".9296" stop-color="#ff1200"/><stop offset=".93" stop-color="#ff0f00"/><stop offset=".9507" stop-color="#ff0f00"/><stop offset=".9754" stop-color="#ff0a00"/><stop offset="1" stop-color="#ff0b00"/></linearGradient>
<linearGradient id="g137" x1="0" y1="0" x2="0" y2="1"><stop offset="0" stop-color="#1effe1"/><stop offset=".1674" stop-color="#24ffdb"/><stop offset=".3288" stop-color="#37ffc8"/><stop offset=".3813" stop-color="#44ffbb"/><stop offset=".4607" stop-color="#65ff9a"/><stop offset=".5185" stop-color="#8bff74"/><stop offset=".5582" stop-color="#b2ff4d"/><stop offset=".5798" stop-color="#cfff30"/><stop offset=".5957" stop-color="#eaff15"/><stop offset=".5965" stop-color="#ffff00"/><stop offset=".5993" stop-color="#ffb000"/><stop offset=".6425" stop-color="#ff9d00"/><stop offset=".8726" stop-color="#ff9800"/><stop offset=".8986" stop-color="#ff0000"/><stop offset=".9122" stop-color="#b00000"/><stop offset=".9174" stop-color="#c80000"/><stop offset=".9186" stop-color="#fb0000"/><stop offset=".9199" stop-color="#ff0000"/><stop offset=".9261" stop-color="#ff1200"/><stop offset=".9264" stop-color="#ff1600"/><stop offset=".9483" stop-color="#ff1600"/><stop offset=".9741" stop-color="#ff0f00"/><stop offset="1" stop-color="#ff1000"/></linearGradient>
<linearGradient id="g138" x1="0" y1="0" x2="0" y2="1"><stop offset="0" stop-color="#1dffe2"/><stop offset=".1671" stop-color="#23ffdc"/><stop offset=".3283" stop-color="#36ffc9"/><stop offset=".3803" stop-color="#43ffbc"/><stop offset=".4597" stop-color="#63ff9c"/><stop offset=".5175" stop-color="#8aff75"/><stop offset=".5572" stop-color="#b2ff4d"/><stop offset=".5788" stop-color="#cfff30"/><stop offset=".5947" stop-color="#e9ff16"/><stop offset=".5955" stop-color="#ffff00"/><stop offset=".5983" stop-color="#ffb100"/><stop offset=".6435" stop-color="#ff9d00"/><stop offset=".8656" stop-color="#ff9800"/><stop offset=".8936" stop-color="#ff0000"/><stop offset=".9083" stop-color="#b00000"/><stop offset=".9134" stop-color="#c80000"/><stop offset=".9146" stop-color="#fb0000"/><stop offset=".9158" stop-color="#ff0000"/><stop offset=".922" stop-color="#ff1200"/><stop offset=".9223" stop-color="#ff1c00"/><stop offset=".9454" stop-color="#ff1c00"/><stop offset=".9727" stop-color="#ff1500"/><stop offset="1" stop-color="#ff1400"/></linearGradient>
<linearGradient id="g139" x1="0" y1="0" x2="0" y2="1"><stop offset="0" stop-color="#1cffe3"/><stop offset=".1668" stop-color="#22ffdd"/><stop offset=".3277" stop-color="#34ffcb"/><stop offset=".3792" stop-color="#41ffbe"/><stop offset=".4587" stop-color="#61ff9e"/><stop offset=".5164" stop-color="#88ff77"/><stop offset=".5561" stop-color="#b1ff4e"/><stop offset=".5778" stop-color="#ceff31"/><stop offset=".5937" stop-color="#e9ff16"/><stop offset=".5945" stop-color="#ffff00"/><stop offset=".5973" stop-color="#ffb100"/><stop offset=".6444" stop-color="#ff9d00"/><stop offset=".858" stop-color="#ff9800"/><stop offset=".888" stop-color="#ff0000"/><stop offset=".9037" stop-color="#b00000"/><stop offset=".9088" stop-color="#c80000"/><stop offset=".91" stop-color="#fb0000"/><stop offset=".9112" stop-color="#ff0000"/><stop offset=".9173" stop-color="#ff1200"/><stop offset=".9177" stop-color="#ff2000"/><stop offset=".9421" stop-color="#ff2300"/><stop offset=".9711" stop-color="#ff1b00"/><stop offset="1" stop-color="#ff1a00"/></linearGradient>
<linearGradient id="g140" x1="0" y1="0" x2="0" y2="1"><stop offset="0" stop-color="#1bffe4"/><stop offset=".1665" stop-color="#21ffde"/><stop offset=".3271" stop-color="#33ffcc"/><stop offset=".3782" stop-color="#3fffc0"/><stop offset=".4576" stop-color="#5fffa0"/><stop offset=".5154" stop-color="#87ff78"/><stop offset=".5551" stop-color="#b0ff4f"/><stop offset=".5767" stop-color="#ceff31"/><stop offset=".5926" stop-color="#e9ff16"/><stop offset=".5934" stop-color="#ffff00"/><stop offset=".5962" stop-color="#ffb200"/><stop offset=".6452" stop-color="#ff9d00"/><stop offset=".8495" stop-color="#ff9800"/><stop offset=".8816" stop-color="#ff0000"/><stop offset=".8984" stop-color="#b00000"/><stop offset=".9034" stop-color="#c80000"/><stop offset=".9046" stop-color="#fb0000"/><stop offset=".9058" stop-color="#ff0000"/><stop offset=".9118" stop-color="#ff1200"/><stop offset=".9121" stop-color="#ff2500"/><stop offset=".9382" stop-color="#ff2a00"/><stop offset=".9691" stop-color="#ff2400"/><stop offset="1" stop-color="#ff2000"/></linearGradient>
<linearGradient id="g141" x1="0" y1="0" x2="0" y2="1"><stop offset="0" stop-color="#1bffe4"/><stop offset=".1662" stop-color="#20ffdf"/><stop offset=".3265" stop-color="#31ffce"/><stop offset=".3771" stop-color="#3dffc2"/><stop offset=".4565" stop-color="#5dffa2"/><stop offset=".5143" stop-color="#85ff7a"/><stop offset=".554" stop-color="#afff50"/><stop offset=".5757" stop-color="#ceff31"/><stop offset=".5916" stop-color="#e9ff16"/><stop offset=".5924" stop-color="#ffff00"/><stop offset=".5952" stop-color="#ffb300"/><stop offset=".646" stop-color="#ff9d00"/><stop offset=".8405" stop-color="#ff9800"/><stop offset=".8745" stop-color="#ff0000"/><stop offset=".8922" stop-color="#b00000"/><stop offset=".8972" stop-color="#c80000"/><stop offset=".8984" stop-color="#fb0000"/><stop offset=".8996" stop-color="#ff0000"/><stop offset=".9055" stop-color="#ff1200"/><stop offset=".9058" stop-color="#ff2900"/><stop offset=".9338" stop-color="#ff3200"/><stop offset=".9669" stop-color="#ff2d00"/><stop offset="1" stop-color="#ff2800"/></linearGradient>
<linearGradient id="g142" x1="0" y1="0" x2="0" y2="1"><stop offset="0" stop-color="#1affe5"/><stop offset=".1659" stop-color="#1fffe0"/><stop offset=".326" stop-color="#30ffcf"/><stop offset=".376" stop-color="#3bffc4"/><stop offset=".4555" stop-color="#5bffa4"/><stop offset=".5132" stop-color="#84ff7b"/><stop offset=".5529" stop-color="#afff50"/><stop offset=".5746" stop-color="#ceff31"/><stop offset=".5905" stop-color="#eaff15"/><stop offset=".5913" stop-color="#ffff00"/><stop offset=".5941" stop-color="#ffb400"/><stop offset=".6468" stop-color="#ff9d00"/><stop offset=".8313" stop-color="#ff9800"/><stop offset=".867" stop-color="#ff0000"/><stop offset=".8856" stop-color="#b00000"/><stop offset=".8906" stop-color="#c80000"/><stop offset=".8917" stop-color="#fb0000"/><stop offset=".8929" stop-color="#ff0000"/><stop offset=".8987" stop-color="#ff1200"/><stop offset=".8991" stop-color="#ff2d00"/><stop offset=".9291" stop-color="#ff3a00"/><stop offset=".9645" stop-color="#ff3800"/><stop offset="1" stop-color="#ff3100"/></linearGradient>
<linearGradient id="g143" x1="0" y1="0" x2="0" y2="1"><stop offset="0" stop-color="#19ffe6"/><stop offset=".1656" stop-color="#1effe1"/><stop offset=".3253" stop-color="#2effd1"/><stop offset=".3748" stop-color="#3affc5"/><stop offset=".4542" stop-color="#5affa5"/><stop offset=".5119" stop-color="#83ff7c"/><stop offset=".5517" stop-color="#aeff51"/><stop offset=".5733" stop-color="#ceff31"/><stop offset=".5892" stop-color="#eaff15"/><stop offset=".59" stop-color="#ffff00"/><stop offset=".5928" stop-color="#ffb600"/><stop offset=".6475" stop-color="#ff9d00"/><stop offset=".8223" stop-color="#ff9800"/><stop offset=".8595" stop-color="#ff0000"/><stop offset=".8788" stop-color="#b00000"/><stop offset=".8838" stop-color="#c80000"/><stop offset=".8849" stop-color="#fb0000"/><stop offset=".886" stop-color="#ff0000"/><stop offset=".8917" stop-color="#ff1200"/><stop offset=".8921" stop-color="#ff3100"/><stop offset=".9242" stop-color="#ff4200"/><stop offset=".9621" stop-color="#ff4400"/><stop offset="1" stop-color="#ff3d00"/></linearGradient>
<linearGradient id="g144" x1="0" y1="0" x2="0" y2="1"><stop offset="0" stop-color="#19ffe6"/><stop offset=".1652" stop-color="#1dffe2"/><stop offset=".3244" stop-color="#2dffd2"/><stop offset=".3733" stop-color="#38ffc7"/><stop offset=".4527" stop-color="#58ffa7"/><stop offset=".5105" stop-color="#82ff7d"/><stop offset=".5502" stop-color="#aeff51"/><stop offset=".5719" stop-color="#ceff31"/><stop offset=".5877" stop-color="#ebff14"/><stop offset=".5885" stop-color="#ffff00"/><stop offset=".5914" stop-color="#ffb700"/><stop offset=".648" stop-color="#ff9d00"/><stop offset=".8138" stop-color="#ff9800"/><stop offset=".8521" stop-color="#ff0000"/><stop offset=".8721" stop-color="#b00000"/><stop offset=".877" stop-color="#c80000"/><stop offset=".8781" stop-color="#fb0000"/><stop offset=".8792" stop-color="#ff0000"/><stop offset=".8849" stop-color="#ff1200"/><stop offset=".8852" stop-color="#ff3400"/><stop offset=".9194" stop-color="#ff4b00"/><stop offset=".9597" stop-color="#ff5300"/><stop offset="1" stop-color="#ff5400"/></linearGradient>
<linearGradient id="g145" x1="0" y1="0" x2="0" y2="1"><stop offset="0" stop-color="#18ffe7"/><stop offset=".1647" stop-color="#1cffe3"/><stop offset=".3236" stop-color="#2cffd3"/><stop offset=".3717" stop-color="#37ffc8"/><stop offset=".4511" stop-color="#57ffa8"/><stop offset=".5089" stop-color="#81ff7e"/><stop offset=".5486" stop-color="#aeff51"/><stop offset=".5702" stop-color="#ceff31"/><stop offset=".5861" stop-color="#ecff13"/><stop offset=".5869" stop-color="#ffff00"/><stop offset=".5897" stop-color="#ffb800"/><stop offset=".6483" stop-color="#ff9d00"/><stop offset=".8061" stop-color="#ff9800"/><stop offset=".8452" stop-color="#ff0000"/><stop offset=".8657" stop-color="#b00000"/><stop offset=".8705" stop-color="#c80000"/><stop offset=".8716" stop-color="#fb0000"/><stop offset=".8727" stop-color="#ff0000"/><stop offset=".8783" stop-color="#ff1200"/><stop offset=".8787" stop-color="#ff3800"/><stop offset=".9148" stop-color="#ff5400"/><stop offset=".9574" stop-color="#ff6500"/><stop offset="1" stop-color="#ff7100"/></linearGradient>
<linearGradient id="g146" x1="0" y1="0" x2="0" y2="1"><stop offset="0" stop-color="#17ffe8"/><stop offset=".1642" stop-color="#1bffe4"/><stop offset=".3226" stop-color="#2bffd4"/><stop offset=".3699" stop-color="#36ffc9"/><stop offset=".4493" stop-color="#56ffa9"/><stop offset=".5071" stop-color="#81ff7e"/><stop offset=".5468" stop-color="#aeff51"/><stop offset=".5685" stop-color="#cfff30"/><stop offset=".5843" stop-color="#edff12"/><stop offset=".5851" stop-color="#ffff00"/><stop offset=".5879" stop-color="#ffb900"/><stop offset=".6486" stop-color="#ff9d00"/><stop offset=".7992" stop-color="#ff9800"/><stop offset=".8388" stop-color="#ff0000"/><stop offset=".8595" stop-color="#b00000"/><stop offset=".8643" stop-color="#c80000"/><stop offset=".8654" stop-color="#fb0000"/><stop offset=".8665" stop-color="#ff0000"/><stop offset=".872" stop-color="#ff1200"/><stop offset=".8724" stop-color="#ff3b00"/><stop offset=".9104" stop-color="#ff5e00"/><stop offset=".9552" stop-color="#ff7700"/><stop offset="1" stop-color="#ff8f00"/></linearGradient>
<linearGradient id="g147" x1="0" y1="0" x2="0" y2="1"><stop offset="0" stop-color="#17ffe8"/><stop offset=".1637" stop-color="#1bffe4"/><stop offset=".3215" stop-color="#2affd5"/><stop offset=".368" stop-color="#35ffca"/><stop offset=".4474" stop-color="#55ffaa"/><stop offset=".5052" stop-color="#80ff7f"/><stop offset=".5449" stop-color="#aeff51"/><stop offset=".5666" stop-color="#d0ff2f"/><stop offset=".5825" stop-color="#eeff11"/><stop offset=".5832" stop-color="#ffff00"/><stop offset=".5861" stop-color="#ffbb00"/><stop offset=".6488" stop-color="#ff9d00"/><stop offset=".7922" stop-color="#ff9800"/><stop offset=".8324" stop-color="#ff0000"/><stop offset=".8534" stop-color="#b00000"/><stop offset=".8582" stop-color="#c80000"/><stop offset=".8592" stop-color="#fb0000"/><stop offset=".8603" stop-color="#ff0000"/><stop offset=".8658" stop-color="#ff1200"/><stop offset=".8662" stop-color="#ff3d00"/><stop offset=".9061" stop-color="#ff6600"/><stop offset=".953" stop-color="#ff8700"/><stop offset="1" stop-color="#ffa900"/></linearGradient>
<linearGradient id="g148" x1="0" y1="0" x2="0" y2="1"><stop offset="0" stop-color="#16ffe9"/><stop offset=".1631" stop-color="#1affe5"/><stop offset=".3205" stop-color="#29ffd6"/><stop offset=".3661" stop-color="#34ffcb"/><stop offset=".4455" stop-color="#54ffab"/><stop offset=".5032" stop-color="#80ff7f"/><stop offset=".543" stop-color="#afff50"/><stop offset=".5646" stop-color="#d1ff2e"/><stop offset=".5805" stop-color="#f0ff0f"/><stop offset=".5811" stop-color="#ffff00"/><stop offset=".5841" stop-color="#ffbc00"/><stop offset=".6489" stop-color="#ff9c00"/><stop offset=".7854" stop-color="#ff9800"/><stop offset=".8261" stop-color="#ff0000"/><stop offset=".8473" stop-color="#b00000"/><stop offset=".852" stop-color="#c80000"/><stop offset=".8531" stop-color="#fb0000"/><stop offset=".8542" stop-color="#ff0000"/><stop offset=".8596" stop-color="#ff1200"/><stop offset=".86" stop-color="#ff3f00"/><stop offset=".9017" stop-color="#ff6c00"/><stop offset=".9509" stop-color="#ff9300"/><stop offset="1" stop-color="#ffb900"/></linearGradient>
<linearGradient id="g149" x1="0" y1="0" x2="0" y2="1"><stop offset="0" stop-color="#15ffea"/><stop offset=".1626" stop-color="#19ffe6"/><stop offset=".3194" stop-color="#28ffd7"/><stop offset=".364" stop-color="#32ffcd"/><stop offset=".4435" stop-color="#53ffac"/><stop offset=".5012" stop-color="#80ff7f"/><stop offset=".5409" stop-color="#b0ff4f"/><stop offset=".5626" stop-color="#d3ff2c"/><stop offset=".5785" stop-color="#f3ff0c"/><stop offset=".5791" stop-color="#ffff00"/><stop offset=".5821" stop-color="#ffbd00"/><stop offset=".649" stop-color="#ff9c00"/><stop offset=".7787" stop-color="#ff9800"/><stop offset=".8198" stop-color="#ff0000"/><stop offset=".8412" stop-color="#b00000"/><stop offset=".846" stop-color="#c80000"/><stop offset=".847" stop-color="#fb0000"/><stop offset=".8481" stop-color="#ff0000"/><stop offset=".8535" stop-color="#ff1200"/><stop offset=".8538" stop-color="#ff4000"/><stop offset=".8974" stop-color="#ff7200"/><stop offset=".9487" stop-color="#ff9e00"/><stop offset="1" stop-color="#ffc700"/></linearGradient>
<linearGradient id="g150" x1="0" y1="0" x2="0" y2="1"><stop offset="0" stop-color="#15ffea"/><stop offset=".162" stop-color="#18ffe7"/><stop offset=".3182" stop-color="#27ffd8"/><stop offset=".362" stop-color="#31ffce"/><stop offset=".4414" stop-color="#52ffad"/><stop offset=".4992" stop-color="#7fff80"/><stop offset=".5389" stop-color="#b1ff4e"/><stop offset=".5606" stop-color="#d5ff2a"/><stop offset=".5764" stop-color="#f5ff0a"/><stop offset=".5769" stop-color="#ffff00"/><stop offset=".5801" stop-color="#ffbf00"/><stop offset=".649" stop-color="#ff9c00"/><stop offset=".772" stop-color="#ff9800"/><stop offset=".8135" stop-color="#ff0000"/><stop offset=".8352" stop-color="#b00000"/><stop offset=".8399" stop-color="#c80000"/><stop offset=".841" stop-color="#fb0000"/><stop offset=".842" stop-color="#ff0000"/><stop offset=".8474" stop-color="#ff1200"/><stop offset=".8477" stop-color="#ff4100"/><stop offset=".8931" stop-color="#ff7600"/><stop offset=".9466" stop-color="#ffa700"/><stop offset="1" stop-color="#ffd300"/></linearGradient>
<linearGradient id="g151" x1="0" y1="0" x2="0" y2="1"><stop offset="0" stop-color="#14ffeb"/><stop offset=".1614" stop-color="#18ffe7"/><stop offset=".3171" stop-color="#27ffd8"/><stop offset=".36" stop-color="#30ffcf"/><stop offset=".4394" stop-color="#52ffad"/><stop offset=".4972" stop-color="#7fff80"/><stop offset=".5369" stop-color="#b2ff4d"/><stop offset=".5585" stop-color="#d7ff28"/><stop offset=".5744" stop-color="#f8ff07"/><stop offset=".5748" stop-color="#ffff00"/><stop offset=".578" stop-color="#ffc000"/><stop offset=".6492" stop-color="#ff9c00"/><stop offset=".7654" stop-color="#ff9800"/><stop offset=".8074" stop-color="#ff0000"/><stop offset=".8293" stop-color="#b00000"/><stop offset=".834" stop-color="#c80000"/><stop offset=".835" stop-color="#fb0000"/><stop offset=".836" stop-color="#ff0000"/><stop offset=".8413" stop-color="#ff1200"/><stop offset=".8417" stop-color="#ff4200"/><stop offset=".8889" stop-color="#ff7a00"/><stop offset=".9445" stop-color="#ffb000"/><stop offset="1" stop-color="#ffdf00"/></linearGradient>
<linearGradient id="g152" x1="0" y1="0" x2="0" y2="1"><stop offset="0" stop-color="#14ffeb"/><stop offset=".1609" stop-color="#17ffe8"/><stop offset=".316" stop-color="#26ffd9"/><stop offset=".358" stop-color="#30ffcf"/><stop offset=".4374" stop-color="#51ffae"/><stop offset=".4952" stop-color="#80ff7f"/><stop offset=".5349" stop-color="#b3ff4c"/><stop offset=".5565" stop-color="#d9ff26"/><stop offset=".5724" stop-color="#fbff04"/><stop offset=".5726" stop-color="#ffff00"/><stop offset=".576" stop-color="#ffc200"/><stop offset=".6493" stop-color="#ff9c00"/><stop offset=".759" stop-color="#ff9800"/><stop offset=".8013" stop-color="#ff0000"/><stop offset=".8234" stop-color="#b00000"/><stop offset=".8281" stop-color="#c80000"/><stop offset=".8291" stop-color="#fb0000"/><stop offset=".8301" stop-color="#ff0000"/><stop offset=".8353" stop-color="#ff1200"/><stop offset=".8357" stop-color="#ff4200"/><stop offset=".8847" stop-color="#ff7e00"/><stop offset=".9424" stop-color="#ffb800"/><stop offset="1" stop-color="#ffe900"/></linearGradient>
<linearGradient id="g153" x1="0" y1="0" x2="0" y2="1"><stop offset="0" stop-color="#13ffec"/><stop offset=".1603" stop-color="#16ffe9"/><stop offset=".315" stop-color="#25ffda"/><stop offset=".356" stop-color="#2fffd0"/><stop offset=".4355" stop-color="#50ffaf"/><stop offset=".4932" stop-color="#80ff7f"/><stop offset=".5329" stop-color="#b4ff4b"/><stop offset=".5546" stop-color="#dcff23"/><stop offset=".5705" stop-color="#ffff00"/><stop offset=".5705" stop-color="#ffff00"/><stop offset=".5741" stop-color="#ffc300"/><stop offset=".6496" stop-color="#ff9c00"/><stop offset=".7527" stop-color="#ff9800"/><stop offset=".7953" stop-color="#ff0000"/><stop offset=".8176" stop-color="#b00000"/><stop offset=".8222" stop-color="#c80000"/><stop offset=".8232" stop-color="#fb0000"/><stop offset=".8243" stop-color="#ff0000"/><stop offset=".8294" stop-color="#ff1200"/><stop offset=".8298" stop-color="#ff4300"/><stop offset=".8806" stop-color="#ff8300"/><stop offset=".9403" stop-color="#ffc000"/><stop offset="1" stop-color="#fff100"/></linearGradient>
<linearGradient id="g154" x1="0" y1="0" x2="0" y2="1"><stop offset="0" stop-color="#13ffec"/><stop offset=".1598" stop-color="#16ffe9"/><stop offset=".3139" stop-color="#24ffdb"/><stop offset=".3541" stop-color="#2effd1"/><stop offset=".4335" stop-color="#4fffb0"/><stop offset=".4913" stop-color="#80ff7f"/><stop offset=".531" stop-color="#b6ff49"/><stop offset=".5526" stop-color="#deff21"/><stop offset=".5671" stop-color="#ffff00"/><stop offset=".5685" stop-color="#fffc00"/><stop offset=".5721" stop-color="#ffc500"/><stop offset=".6499" stop-color="#ff9c00"/><stop offset=".7465" stop-color="#ff9800"/><stop offset=".7894" stop-color="#ff0000"/><stop offset=".8119" stop-color="#b00000"/><stop offset=".8164" stop-color="#c80000"/><stop offset=".8174" stop-color="#fb0000"/><stop offset=".8185" stop-color="#ff0000"/><stop offset=".8236" stop-color="#ff1200"/><stop offset=".824" stop-color="#ff4400"/><stop offset=".8765" stop-color="#ff8800"/><stop offset=".9383" stop-color="#ffc800"/><stop offset="1" stop-color="#fff700"/></linearGradient>
<linearGradient id="g155" x1="0" y1="0" x2="0" y2="1"><stop offset="0" stop-color="#12ffed"/><stop offset=".1592" stop-color="#15ffea"/><stop offset=".3128" stop-color="#24ffdb"/><stop offset=".3521" stop-color="#2dffd2"/><stop offset=".4315" stop-color="#4fffb0"/><stop offset=".4893" stop-color="#80ff7f"/><stop offset=".529" stop-color="#b8ff47"/><stop offset=".5507" stop-color="#e1ff1e"/><stop offset=".5635" stop-color="#ffff00"/><stop offset=".5666" stop-color="#fff800"/><stop offset=".5702" stop-color="#ffc600"/><stop offset=".6502" stop-color="#ff9c00"/><stop offset=".7404" stop-color="#ff9800"/><stop offset=".7836" stop-color="#ff0000"/><stop offset=".8062" stop-color="#b00000"/><stop offset=".8107" stop-color="#c80000"/><stop offset=".8117" stop-color="#fb0000"/><stop offset=".8127" stop-color="#ff0000"/><stop offset=".8178" stop-color="#ff1200"/><stop offset=".8182" stop-color="#ff4500"/><stop offset=".8725" stop-color="#ff8e00"/><stop offset=".9362" stop-color="#ffcf00"/><stop offset="1" stop-color="#fffb00"/></linearGradient>
<linearGradient id="g156" x1="0" y1="0" x2="0" y2="1"><stop offset="0" stop-color="#12ffed"/><stop offset=".1587" stop-color="#15ffea"/><stop offset=".3117" stop-color="#23ffdc"/><stop offset=".3501" stop-color="#2cffd3"/><stop offset=".4295" stop-color="#4effb1"/><stop offset=".4873" stop-color="#81ff7e"/><stop offset=".527" stop-color="#b9ff46"/><stop offset=".5487" stop-color="#e4ff1b"/><stop offset=".5599" stop-color="#ffff00"/><stop offset=".5646" stop-color="#fff400"/><stop offset=".5682" stop-color="#ffc800"/><stop offset=".6505" stop-color="#ff9c00"/><stop offset=".7344" stop-color="#ff9700"/><stop offset=".7778" stop-color="#ff0000"/><stop offset=".8005" stop-color="#b00000"/><stop offset=".8051" stop-color="#c80000"/><stop offset=".806" stop-color="#fb0000"/><stop offset=".807" stop-color="#ff0000"/><stop offset=".8121" stop-color="#ff1200"/><stop offset=".8124" stop-color="#ff4600"/><stop offset=".8685" stop-color="#ff9500"/><stop offset=".9342" stop-color="#ffd700"/><stop offset="1" stop-color="#fffd00"/></linearGradient>
<linearGradient id="g157" x1="0" y1="0" x2="0" y2="1"><stop offset="0" stop-color="#11ffee"/><stop offset=".1581" stop-color="#14ffeb"/><stop offset=".3106" stop-color="#22ffdd"/><stop offset=".3481" stop-color="#2bffd4"/><stop offset=".4275" stop-color="#4effb1"/><stop offset=".4853" stop-color="#81ff7e"/><stop offset=".525" stop-color="#bbff44"/><stop offset=".5466" stop-color="#e7ff18"/><stop offset=".5563" stop-color="#ffff00"/><stop offset=".5625" stop-color="#fff000"/><stop offset=".5661" stop-color="#ffca00"/><stop offset=".6508" stop-color="#ff9c00"/><stop offset=".7286" stop-color="#ff9700"/><stop offset=".7721" stop-color="#ff0000"/><stop offset=".7949" stop-color="#b00000"/><stop offset=".7994" stop-color="#c80000"/><stop offset=".8004" stop-color="#fb0000"/><stop offset=".8014" stop-color="#ff0000"/><stop offset=".8064" stop-color="#ff1200"/><stop offset=".8068" stop-color="#ff4800"/><stop offset=".8645" stop-color="#ff9e00"/><stop offset=".9322" stop-color="#ffde00"/><stop offset=".9992" stop-color="#ffff00"/><stop offset="1" stop-color="#ffff00"/></linearGradient>
<linearGradient id="g158" x1="0" y1="0" x2="0" y2="1"><stop offset="0" stop-color="#11ffee"/><stop offset=".1575" stop-color="#14ffeb"/><stop offset=".3094" stop-color="#22ffdd"/><stop offset=".346" stop-color="#2affd5"/><stop offset=".4254" stop-color="#4dffb2"/><stop offset=".4832" stop-color="#81ff7e"/><stop offset=".5229" stop-color="#bdff42"/><stop offset=".5446" stop-color="#eaff15"/><stop offset=".5527" stop-color="#ffff00"/><stop offset=".5604" stop-color="#ffeb00"/><stop offset=".5641" stop-color="#ffcc00"/><stop offset=".651" stop-color="#ff9c00"/><stop offset=".7228" stop-color="#ff9700"/><stop offset=".7665" stop-color="#ff0000"/><stop offset=".7894" stop-color="#b00000"/><stop offset=".7939" stop-color="#c80000"/><stop offset=".7948" stop-color="#fb0000"/><stop offset=".7958" stop-color="#ff0000"/><stop offset=".8008" stop-color="#ff1200"/><stop offset=".8011" stop-color="#ff4900"/><stop offset=".8605" stop-color="#ffa800"/><stop offset=".9303" stop-color="#ffe500"/><stop offset=".995" stop-color="#ffff00"/><stop offset="1" stop-color="#fdff02"/></linearGradient>
<linearGradient id="g159" x1="0" y1="0" x2="0" y2="1"><stop offset="0" stop-color="#10ffef"/><stop offset=".1569" stop-color="#13ffec"/><stop offset=".3083" stop-color="#21ffde"/><stop offset=".3439" stop-color="#29ffd6"/><stop offset=".4233" stop-color="#4dffb2"/><stop offset=".4811" stop-color="#82ff7d"/><stop offset=".5208" stop-color="#bfff40"/><stop offset=".5425" stop-color="#eeff11"/><stop offset=".5491" stop-color="#ffff00"/><stop offset=".5584" stop-color="#ffe700"/><stop offset=".562" stop-color="#ffcd00"/><stop offset=".6513" stop-color="#ff9b00"/><stop offset=".7172" stop-color="#ff9700"/><stop offset=".7609" stop-color="#ff0000"/><stop offset=".7839" stop-color="#b00000"/><stop offset=".7884" stop-color="#c80000"/><stop offset=".7893" stop-color="#fb0000"/><stop offset=".7903" stop-color="#ff0000"/><stop offset=".7952" stop-color="#ff1200"/><stop offset=".7956" stop-color="#ff4b00"/><stop offset=".8567" stop-color="#ffb200"/><stop offset=".9283" stop-color="#ffec00"/><stop offset=".9901" stop-color="#ffff00"/><stop offset="1" stop-color="#fcff03"/></linearGradient>
<linearGradient id="g160" x1="0" y1="0" x2="0" y2="1"><stop offset="0" stop-color="#10ffef"/><stop offset=".1564" stop-color="#13ffec"/><stop offset=".3071" stop-color="#21ffde"/><stop offset=".3418" stop-color="#29ffd6"/><stop offset=".4212" stop-color="#4cffb3"/><stop offset=".479" stop-color="#82ff7d"/><stop offset=".5187" stop-color="#c1ff3e"/><stop offset=".5404" stop-color="#f1ff0e"/><stop offset=".5455" stop-color="#ffff00"/><stop offset=".5562" stop-color="#ffe200"/><stop offset=".5598" stop-color="#ffcf00"/><stop offset=".6515" stop-color="#ff9b00"/><stop offset=".7117" stop-color="#ff9700"/><stop offset=".7555" stop-color="#ff0000"/><stop offset=".7785" stop-color="#b00000"/><stop offset=".7829" stop-color="#c80000"/><stop offset=".7839" stop-color="#fb0000"/><stop offset=".7849" stop-color="#ff0000"/><stop offset=".7897" stop-color="#ff1200"/><stop offset=".7901" stop-color="#ff4c00"/><stop offset=".8528" stop-color="#ffbe00"/><stop offset=".9264" stop-color="#fff200"/><stop offset=".9838" stop-color="#ffff00"/><stop offset="1" stop-color="#fbff04"/></linearGradient>
<linearGradient id="g161" x1="0" y1="0" x2="0" y2="1"><stop offset="0" stop-color="#10ffef"/><stop offset=".1562" stop-color="#13ffec"/><stop offset=".3069" stop-color="#21ffde"/><stop offset=".3414" stop-color="#28ffd7"/><stop offset=".4208" stop-color="#4cffb3"/><stop offset=".4786" stop-color="#82ff7d"/><stop offset=".5183" stop-color="#c1ff3e"/><stop offset=".5399" stop-color="#f2ff0d"/><stop offset=".5448" stop-color="#ffff00"/><stop offset=".5558" stop-color="#ffe100"/><stop offset=".5594" stop-color="#ffcf00"/><stop offset=".6516" stop-color="#ff9b00"/><stop offset=".7106" stop-color="#ff9700"/><stop offset=".7544" stop-color="#ff0000"/><stop offset=".7774" stop-color="#b00000"/><stop offset=".7819" stop-color="#c80000"/><stop offset=".7828" stop-color="#fb0000"/><stop offset=".7838" stop-color="#ff0000"/><stop offset=".7886" stop-color="#ff1200"/><stop offset=".789" stop-color="#ff4c00"/><stop offset=".852" stop-color="#ffc000"/><stop offset=".926" stop-color="#fff300"/><stop offset=".9823" stop-color="#ffff00"/><stop offset="1" stop-color="#fbff04"/></linearGradient>
<linearGradient id="g162" x1="0" y1="0" x2="0" y2="1"><stop offset="0" stop-color="#10ffef"/><stop offset=".1562" stop-color="#13ffec"/><stop offset=".3069" stop-color="#21ffde"/><stop offset=".3414" stop-color="#28ffd7"/><stop offset=".4208" stop-color="#4cffb3"/><stop offset=".4786" stop-color="#82ff7d"/><stop offset=".5183" stop-color="#c1ff3e"/><stop offset=".5399" stop-color="#f2ff0d"/><stop offset=".5448" stop-color="#ffff00"/><stop offset=".5558" stop-color="#ffe100"/><stop offset=".5594" stop-color="#ffcf00"/><stop offset=".6516" stop-color="#ff9b00"/><stop offset=".7106" stop-color="#ff9700"/><stop offset=".7544" stop-color="#ff0000"/><stop offset=".7774" stop-color="#b00000"/><stop offset=".7819" stop-color="#c80000"/><stop offset=".7828" stop-color="#fb0000"/><stop offset=".7838" stop-color="#ff0000"/><stop offset=".7886" stop-color="#ff1200"/><stop offset=".789" stop-color="#ff4c00"/><stop offset=".852" stop-color="#ffc000"/><stop offset=".926" stop-color="#fff300"/><stop offset=".9823" stop-color="#ffff00"/><stop offset="1" stop-color="#fbff04"/></linearGradient></defs>
<clipPath id="cb"><rect x="92.9" y="412.3" width="317.6" height="277"/></clipPath>
<filter id="hb" x="-2%" y="-2%" width="104%" height="104%"><feGaussianBlur stdDeviation="1.3 0"/></filter>
<g clip-path="url(#cb)"><g filter="url(#hb)"><rect x="88.9" y="412.3" width="2.7" height="277" fill="url(#g0)"/>
<rect x="90.9" y="412.3" width="2.7" height="277" fill="url(#g1)"/>
<rect x="92.9" y="412.3" width="2.7" height="277" fill="url(#g2)"/>
<rect x="94.9" y="412.3" width="2.7" height="277" fill="url(#g3)"/>
<rect x="96.9" y="412.3" width="2.7" height="277" fill="url(#g4)"/>
<rect x="98.9" y="412.3" width="2.7" height="277" fill="url(#g5)"/>
<rect x="100.9" y="412.3" width="2.7" height="277" fill="url(#g6)"/>
<rect x="102.9" y="412.3" width="2.7" height="277" fill="url(#g7)"/>
<rect x="104.9" y="412.3" width="2.7" height="277" fill="url(#g8)"/>
<rect x="106.9" y="412.3" width="2.7" height="277" fill="url(#g9)"/>
<rect x="108.9" y="412.3" width="2.7" height="277" fill="url(#g10)"/>
<rect x="110.9" y="412.3" width="2.7" height="277" fill="url(#g11)"/>
<rect x="112.9" y="412.3" width="2.7" height="277" fill="url(#g12)"/>
<rect x="114.9" y="412.3" width="2.7" height="277" fill="url(#g13)"/>
<rect x="116.9" y="412.3" width="2.7" height="277" fill="url(#g14)"/>
<rect x="118.9" y="412.3" width="2.7" height="277" fill="url(#g15)"/>
<rect x="120.9" y="412.3" width="2.7" height="277" fill="url(#g16)"/>
<rect x="122.9" y="412.3" width="2.7" height="277" fill="url(#g17)"/>
<rect x="124.9" y="412.3" width="2.7" height="277" fill="url(#g18)"/>
<rect x="126.9" y="412.3" width="2.7" height="277" fill="url(#g19)"/>
<rect x="128.9" y="412.3" width="2.7" height="277" fill="url(#g20)"/>
<rect x="130.9" y="412.3" width="2.7" height="277" fill="url(#g21)"/>
<rect x="132.9" y="412.3" width="2.7" height="277" fill="url(#g22)"/>
<rect x="134.9" y="412.3" width="2.7" height="277" fill="url(#g23)"/>
<rect x="136.9" y="412.3" width="2.7" height="277" fill="url(#g24)"/>
<rect x="138.9" y="412.3" width="2.7" height="277" fill="url(#g25)"/>
<rect x="140.9" y="412.3" width="2.7" height="277" fill="url(#g26)"/>
<rect x="142.9" y="412.3" width="2.7" height="277" fill="url(#g27)"/>
<rect x="144.9" y="412.3" width="2.7" height="277" fill="url(#g28)"/>
<rect x="146.9" y="412.3" width="2.7" height="277" fill="url(#g29)"/>
<rect x="148.9" y="412.3" width="2.7" height="277" fill="url(#g30)"/>
<rect x="150.9" y="412.3" width="2.7" height="277" fill="url(#g31)"/>
<rect x="152.9" y="412.3" width="2.7" height="277" fill="url(#g32)"/>
<rect x="154.9" y="412.3" width="2.7" height="277" fill="url(#g33)"/>
<rect x="156.9" y="412.3" width="2.7" height="277" fill="url(#g34)"/>
<rect x="158.9" y="412.3" width="2.7" height="277" fill="url(#g35)"/>
<rect x="160.9" y="412.3" width="2.7" height="277" fill="url(#g36)"/>
<rect x="162.9" y="412.3" width="2.7" height="277" fill="url(#g37)"/>
<rect x="164.9" y="412.3" width="2.7" height="277" fill="url(#g38)"/>
<rect x="166.9" y="412.3" width="2.7" height="277" fill="url(#g39)"/>
<rect x="168.9" y="412.3" width="2.7" height="277" fill="url(#g40)"/>
<rect x="170.9" y="412.3" width="2.7" height="277" fill="url(#g41)"/>
<rect x="172.9" y="412.3" width="2.7" height="277" fill="url(#g42)"/>
<rect x="174.9" y="412.3" width="2.7" height="277" fill="url(#g43)"/>
<rect x="176.9" y="412.3" width="2.7" height="277" fill="url(#g44)"/>
<rect x="178.9" y="412.3" width="2.7" height="277" fill="url(#g45)"/>
<rect x="180.9" y="412.3" width="2.7" height="277" fill="url(#g46)"/>
<rect x="182.9" y="412.3" width="2.7" height="277" fill="url(#g47)"/>
<rect x="184.9" y="412.3" width="2.7" height="277" fill="url(#g48)"/>
<rect x="186.9" y="412.3" width="2.7" height="277" fill="url(#g49)"/>
<rect x="188.9" y="412.3" width="2.7" height="277" fill="url(#g50)"/>
<rect x="190.9" y="412.3" width="2.7" height="277" fill="url(#g51)"/>
<rect x="192.9" y="412.3" width="2.7" height="277" fill="url(#g52)"/>
<rect x="194.9" y="412.3" width="2.7" height="277" fill="url(#g53)"/>
<rect x="196.9" y="412.3" width="2.7" height="277" fill="url(#g54)"/>
<rect x="198.9" y="412.3" width="2.7" height="277" fill="url(#g55)"/>
<rect x="200.9" y="412.3" width="2.7" height="277" fill="url(#g56)"/>
<rect x="202.9" y="412.3" width="2.7" height="277" fill="url(#g57)"/>
<rect x="204.9" y="412.3" width="2.7" height="277" fill="url(#g58)"/>
<rect x="206.9" y="412.3" width="2.7" height="277" fill="url(#g59)"/>
<rect x="208.9" y="412.3" width="2.7" height="277" fill="url(#g60)"/>
<rect x="210.9" y="412.3" width="2.7" height="277" fill="url(#g61)"/>
<rect x="212.9" y="412.3" width="2.7" height="277" fill="url(#g62)"/>
<rect x="214.9" y="412.3" width="2.7" height="277" fill="url(#g63)"/>
<rect x="216.9" y="412.3" width="2.7" height="277" fill="url(#g64)"/>
<rect x="218.9" y="412.3" width="2.7" height="277" fill="url(#g65)"/>
<rect x="220.9" y="412.3" width="2.7" height="277" fill="url(#g66)"/>
<rect x="222.9" y="412.3" width="2.7" height="277" fill="url(#g67)"/>
<rect x="224.9" y="412.3" width="2.7" height="277" fill="url(#g68)"/>
<rect x="226.9" y="412.3" width="2.7" height="277" fill="url(#g69)"/>
<rect x="228.9" y="412.3" width="2.7" height="277" fill="url(#g70)"/>
<rect x="230.9" y="412.3" width="2.7" height="277" fill="url(#g71)"/>
<rect x="232.9" y="412.3" width="2.7" height="277" fill="url(#g72)"/>
<rect x="234.9" y="412.3" width="2.7" height="277" fill="url(#g73)"/>
<rect x="236.9" y="412.3" width="2.7" height="277" fill="url(#g74)"/>
<rect x="238.9" y="412.3" width="2.7" height="277" fill="url(#g75)"/>
<rect x="240.9" y="412.3" width="2.7" height="277" fill="url(#g76)"/>
<rect x="242.9" y="412.3" width="2.7" height="277" fill="url(#g77)"/>
<rect x="244.9" y="412.3" width="2.7" height="277" fill="url(#g78)"/>
<rect x="246.9" y="412.3" width="2.7" height="277" fill="url(#g79)"/>
<rect x="248.9" y="412.3" width="2.7" height="277" fill="url(#g80)"/>
<rect x="250.9" y="412.3" width="2.7" height="277" fill="url(#g81)"/>
<rect x="252.9" y="412.3" width="2.7" height="277" fill="url(#g82)"/>
<rect x="254.9" y="412.3" width="2.7" height="277" fill="url(#g83)"/>
<rect x="256.9" y="412.3" width="2.7" height="277" fill="url(#g84)"/>
<rect x="258.9" y="412.3" width="2.7" height="277" fill="url(#g85)"/>
<rect x="260.9" y="412.3" width="2.7" height="277" fill="url(#g86)"/>
<rect x="262.9" y="412.3" width="2.7" height="277" fill="url(#g87)"/>
<rect x="264.9" y="412.3" width="2.7" height="277" fill="url(#g88)"/>
<rect x="266.9" y="412.3" width="2.7" height="277" fill="url(#g89)"/>
<rect x="268.9" y="412.3" width="2.7" height="277" fill="url(#g90)"/>
<rect x="270.9" y="412.3" width="2.7" height="277" fill="url(#g91)"/>
<rect x="272.9" y="412.3" width="2.7" height="277" fill="url(#g92)"/>
<rect x="274.9" y="412.3" width="2.7" height="277" fill="url(#g93)"/>
<rect x="276.9" y="412.3" width="2.7" height="277" fill="url(#g94)"/>
<rect x="278.9" y="412.3" width="2.7" height="277" fill="url(#g95)"/>
<rect x="280.9" y="412.3" width="2.7" height="277" fill="url(#g96)"/>
<rect x="282.9" y="412.3" width="2.7" height="277" fill="url(#g97)"/>
<rect x="284.9" y="412.3" width="2.7" height="277" fill="url(#g98)"/>
<rect x="286.9" y="412.3" width="2.7" height="277" fill="url(#g99)"/>
<rect x="288.9" y="412.3" width="2.7" height="277" fill="url(#g100)"/>
<rect x="290.9" y="412.3" width="2.7" height="277" fill="url(#g101)"/>
<rect x="292.9" y="412.3" width="2.7" height="277" fill="url(#g102)"/>
<rect x="294.9" y="412.3" width="2.7" height="277" fill="url(#g103)"/>
<rect x="296.9" y="412.3" width="2.7" height="277" fill="url(#g104)"/>
<rect x="298.9" y="412.3" width="2.7" height="277" fill="url(#g105)"/>
<rect x="300.9" y="412.3" width="2.7" height="277" fill="url(#g106)"/>
<rect x="302.9" y="412.3" width="2.7" height="277" fill="url(#g107)"/>
<rect x="304.9" y="412.3" width="2.7" height="277" fill="url(#g108)"/>
<rect x="306.9" y="412.3" width="2.7" height="277" fill="url(#g109)"/>
<rect x="308.9" y="412.3" width="2.7" height="277" fill="url(#g110)"/>
<rect x="310.9" y="412.3" width="2.7" height="277" fill="url(#g111)"/>
<rect x="312.9" y="412.3" width="2.7" height="277" fill="url(#g112)"/>
<rect x="314.9" y="412.3" width="2.7" height="277" fill="url(#g113)"/>
<rect x="316.9" y="412.3" width="2.7" height="277" fill="url(#g114)"/>
<rect x="318.9" y="412.3" width="2.7" height="277" fill="url(#g115)"/>
<rect x="320.9" y="412.3" width="2.7" height="277" fill="url(#g116)"/>
<rect x="322.9" y="412.3" width="2.7" height="277" fill="url(#g117)"/>
<rect x="324.9" y="412.3" width="2.7" height="277" fill="url(#g118)"/>
<rect x="326.9" y="412.3" width="2.7" height="277" fill="url(#g119)"/>
<rect x="328.9" y="412.3" width="2.7" height="277" fill="url(#g120)"/>
<rect x="330.9" y="412.3" width="2.7" height="277" fill="url(#g121)"/>
<rect x="332.9" y="412.3" width="2.7" height="277" fill="url(#g122)"/>
<rect x="334.9" y="412.3" width="2.7" height="277" fill="url(#g123)"/>
<rect x="336.9" y="412.3" width="2.7" height="277" fill="url(#g124)"/>
<rect x="338.9" y="412.3" width="2.7" height="277" fill="url(#g125)"/>
<rect x="340.9" y="412.3" width="2.7" height="277" fill="url(#g126)"/>
<rect x="342.9" y="412.3" width="2.7" height="277" fill="url(#g127)"/>
<rect x="344.9" y="412.3" width="2.7" height="277" fill="url(#g128)"/>
<rect x="346.9" y="412.3" width="2.7" height="277" fill="url(#g129)"/>
<rect x="348.9" y="412.3" width="2.7" height="277" fill="url(#g130)"/>
<rect x="350.9" y="412.3" width="2.7" height="277" fill="url(#g131)"/>
<rect x="352.9" y="412.3" width="2.7" height="277" fill="url(#g132)"/>
<rect x="354.9" y="412.3" width="2.7" height="277" fill="url(#g133)"/>
<rect x="356.9" y="412.3" width="2.7" height="277" fill="url(#g134)"/>
<rect x="358.9" y="412.3" width="2.7" height="277" fill="url(#g135)"/>
<rect x="360.9" y="412.3" width="2.7" height="277" fill="url(#g136)"/>
<rect x="362.9" y="412.3" width="2.7" height="277" fill="url(#g137)"/>
<rect x="364.9" y="412.3" width="2.7" height="277" fill="url(#g138)"/>
<rect x="366.9" y="412.3" width="2.7" height="277" fill="url(#g139)"/>
<rect x="368.9" y="412.3" width="2.7" height="277" fill="url(#g140)"/>
<rect x="370.9" y="412.3" width="2.7" height="277" fill="url(#g141)"/>
<rect x="372.9" y="412.3" width="2.7" height="277" fill="url(#g142)"/>
<rect x="374.9" y="412.3" width="2.7" height="277" fill="url(#g143)"/>
<rect x="376.9" y="412.3" width="2.7" height="277" fill="url(#g144)"/>
<rect x="378.9" y="412.3" width="2.7" height="277" fill="url(#g145)"/>
<rect x="380.9" y="412.3" width="2.7" height="277" fill="url(#g146)"/>
<rect x="382.9" y="412.3" width="2.7" height="277" fill="url(#g147)"/>
<rect x="384.9" y="412.3" width="2.7" height="277" fill="url(#g148)"/>
<rect x="386.9" y="412.3" width="2.7" height="277" fill="url(#g149)"/>
<rect x="388.9" y="412.3" width="2.7" height="277" fill="url(#g150)"/>
<rect x="390.9" y="412.3" width="2.7" height="277" fill="url(#g151)"/>
<rect x="392.9" y="412.3" width="2.7" height="277" fill="url(#g152)"/>
<rect x="394.9" y="412.3" width="2.7" height="277" fill="url(#g153)"/>
<rect x="396.9" y="412.3" width="2.7" height="277" fill="url(#g154)"/>
<rect x="398.9" y="412.3" width="2.7" height="277" fill="url(#g155)"/>
<rect x="400.9" y="412.3" width="2.7" height="277" fill="url(#g156)"/>
<rect x="402.9" y="412.3" width="2.7" height="277" fill="url(#g157)"/>
<rect x="404.9" y="412.3" width="2.7" height="277" fill="url(#g158)"/>
<rect x="406.9" y="412.3" width="2.7" height="277" fill="url(#g159)"/>
<rect x="408.9" y="412.3" width="2.7" height="277" fill="url(#g160)"/>
<rect x="410.9" y="412.3" width="2.7" height="277" fill="url(#g161)"/>
<rect x="412.9" y="412.3" width="2.7" height="277" fill="url(#g162)"/></g></g>
<g clip-path="url(#cb)"><path d="M136 442.8 138 443.9 140 445 142 446.2 144 447.4 146 448.6 148 449.7 150 450.8 152 451.8 154 452.9 155.9 453.9 157.9 454.9 159.9 456 161.9 457 163.9 458.1 165.9 459.2 167.9 460.3 169.9 461.4 171.9 462.7 173.9 463.9 175.9 465.2 177.9 466.5 179.9 467.9 181.9 469.3 183.9 470.7 185.9 472.2 187.9 473.8 189.9 475.3 191.9 476.8 193.9 478.3 195.8 479.8 197.8 481.3 199.8 482.8 201.8 484.3 203.8 485.8 205.8 487.3 207.8 488.8 209.8 490.3 211.8 491.7 213.8 493.2 213.8 505.9 211.8 504.6 209.8 502.7 207.8 500.7 205.8 498.8 203.8 497 201.8 495.2 199.8 493.4 197.8 491.7 195.8 489.9 193.9 488.2 191.9 486.4 189.9 484.6 187.9 482.7 185.9 480.9 183.9 479.1 181.9 477.3 179.9 475.6 177.9 473.8 175.9 472.1 173.9 470.4 171.9 468.7 169.9 467.1 167.9 465.6 165.9 464.1 163.9 462.7 161.9 461.3 159.9 460 157.9 458.6 155.9 457.3 154 455.9 152 454.5 150 453.2 148 451.8 146 450.3 144 448.9 142 447.6 140 446.3 138 445.1 136 444Z" fill="#ff8a00"/></g>
<g clip-path="url(#cb)"><path d="M213.8 493.2 216.3 495.1 218.7 496.9 221.2 498.8 223.7 500.6 226.2 502.5 228.6 504.4 231.1 506.4 233.6 508.3 236.1 510.3 238.5 512.2 241 514.2 243.5 516.3 246 518.3 248.4 520.4 250.9 522.5 253.4 524.6 255.8 526.8 258.3 529.1 260.8 531.4 263.3 533.7 265.7 536 268.2 538.2 270.7 540.4 273.2 542.6 275.6 544.7 278.1 546.8 280.6 548.9 283.1 551 285.5 553 288 555.1 290.5 557 293 559 295.4 560.9 297.9 562.7 300.4 564.5 302.8 566.2 305.3 567.9 307.8 569.5 310.3 571 312.7 572.3 315.2 573.6 317.7 574.8 320.2 575.9 322.6 576.6 325.1 577.2 327.6 577.6 330.1 578.1 332.5 578.5 335 578.9 335 581.5 332.5 581.1 330.1 580.7 327.6 580.2 325.1 579.8 322.6 579.2 320.2 578.5 317.7 577.4 315.2 576.2 312.7 574.9 310.3 573.6 307.8 572.1 305.3 570.5 302.8 568.8 300.4 567.1 297.9 565.3 295.4 563.5 293 561.6 290.5 559.6 288 557.7 285.5 555.6 283.1 553.6 280.6 551.5 278.1 549.4 275.6 547.3 273.2 545.2 270.7 543 268.2 540.8 265.7 538.6 263.3 536.3 260.8 534 258.3 531.7 255.8 529.4 253.4 527.2 250.9 525.1 248.4 523 246 520.9 243.5 518.9 241 516.8 238.5 514.8 236.1 512.9 233.6 510.9 231.1 509 228.6 507 226.2 505.1 223.7 503.2 221.2 501.4 218.7 499.5 216.3 497.7 213.8 495.8Z" fill="#ff9500"/></g>
<path d="M91.9 411.3 92.9 434.7 94.8 434.4 96.6 434.2 98.5 434.1 100.4 434 102.3 434 104.1 434 106 434 107.9 434.1 109.8 434.4 111.6 434.7 113.5 435.1 115.4 435.6 117.3 436.1 119.1 436.6 121 437 122.9 437.5 124.8 438 126.6 438.6 128.5 439.2 129.7 438.8 130.9 438.3 132.1 437.8 133.3 437.2 134.5 436.6 135.7 435.9 136.9 435.2 138.1 434.3 139.3 433.4 140.5 432.4 141.6 431.3 142.8 430.1 144 428.8 145.2 427.4 146.4 425.8 147.6 424.1 148.8 422.3 150 420.3 151.2 418 152.4 415.4 153.6 412.3 153.8 411.3Z" fill="#fff"/>
<path d="M91.9 505.9 213.8 505.9 215.8 506.8 217.9 507.9 219.9 509.4 221.9 511.2 224 513.4 226 515.8 228 518.2 230 520.8 232.1 523.6 234.1 526.6 236.1 529.8 238.2 533.4 240.2 537.5 242.2 541.8 244.3 546 246.3 550 248.3 554 250.3 557.9 252.4 561.6 254.4 565.1 256.4 568.1 258.5 570.7 260.5 573 91.9 573Z" fill="#fff"/>
<path d="M91.9 590 276 590 278 591.6 280 593.6 282.1 595.7 284.1 598.1 286.1 600.6 288.1 603.3 290.1 606.5 292.1 609.9 294.2 613.7 296.2 617.6 298.2 621.5 300.2 625.4 302.2 629.3 304.3 633.3 306.3 637.4 308.3 641.5 310.3 645.6 312.3 649.7 314.4 653.6 316.4 657.6 318.4 661.5 320.4 665.6 322.4 669.8 324.4 674.4 326.5 679.2 328.5 684.1 330.5 689.3 330.5 690.3 91.9 690.3Z" fill="#fff"/>
<g clip-path="url(#cb)"><path d="M92.9 572.4 175.4 572.4 258 572.4 260 572.4 261.9 573 263.8 574 265.7 575.1 267.6 576.4 269.5 577.9 271.4 579.5 273.3 581.1 275.2 582.8 277.1 584.5 279.1 586.4 281 588.3 282.9 590.2 284.8 592.2 286.7 594.3 288.6 596.5 290.5 598.8 292.4 601 294.3 603.3 296.2 605.6 298.1 607.9 300 610.1 301.9 612.3 303.8 614.6 305.7 616.8 307.6 619 309.5 621.3 311.4 623.5 313.3 625.7 315.2 628 317.2 630.2 319.1 632.5 321 634.8 322.9 637.1 324.8 639.3 326.7 641.5 328.6 643.7 330.5 645.8 332.4 647.8 334.3 649.8 336.2 651.8 338.1 653.8 340 655.6 341.9 657.5 343.8 659.3 345.7 661 347.6 662.8 349.5 664.4 351.4 665.9 353.3 667.2 355.3 668.4 357.2 668.8 359.1 668.3 361 667.4 362.9 666.5 364.8 665.5 366.7 664.4 368.6 663.1 370.5 661.6 372.4 660 374.3 658.2 376.2 656.4 378.1 654.6 380 652.9 381.9 651.3 383.8 649.6 385.7 648 387.6 646.4 389.5 644.8 391.4 643.2 393.4 641.7 395.3 640.1 397.2 638.6 399.1 637.1 401 635.6 402.9 634.1 404.8 632.6 406.7 631.2 408.6 629.7 410.5 628.3 410.5 630.6 408.6 632 406.7 633.5 404.8 635 402.9 636.5 401 638 399.1 639.5 397.2 641 395.3 642.6 393.4 644.1 391.4 645.7 389.5 647.3 387.6 648.9 385.7 650.6 383.8 652.2 381.9 653.8 380 655.5 378.1 657.2 376.2 659 374.3 660.9 372.4 662.7 370.5 664.4 368.6 665.9 366.7 667.2 364.8 668.3 362.9 669.3 361 670.3 359.1 671.2 357.2 671.7 355.3 671.2 353.3 670 351.4 668.6 349.5 667.1 347.6 665.3 345.7 663.5 343.8 661.7 341.9 659.9 340 658 338.1 656.1 336.2 654.1 334.3 652.1 332.4 650.1 330.5 648 328.6 645.9 326.7 643.7 324.8 641.5 322.9 639.2 321 636.9 319.1 634.6 317.2 632.3 315.2 630 313.3 627.7 311.4 625.5 309.5 623.2 307.6 621 305.7 618.7 303.8 616.5 301.9 614.2 300 612 298.1 609.8 296.2 607.5 294.3 605.2 292.4 602.9 290.5 600.6 288.6 598.4 286.7 596.2 284.8 594.1 282.9 592.1 281 590.2 279.1 588.3 277.1 586.5 275.2 584.7 273.3 583.1 271.4 581.5 269.5 579.9 267.6 578.4 265.7 577.1 263.8 576.1 261.9 575.1 260 574.5 258 574.5 175.4 574.5 92.9 574.5Z" fill="#f21a06"/>
<path d="M92.9 572.4 175.4 572.4 258 572.4 260 572.4 261.9 573 263.8 574 265.7 575 267.6 576.3 269.5 577.8 271.4 579.3 273.3 580.9 275.2 582.5 277.1 584.2 279.1 586 281 587.9 282.9 589.8 284.8 591.7 286.7 593.8 288.6 596 290.5 598.2 292.4 600.4 294.3 602.7 296.2 604.9 298.1 607.2 300 609.4 301.9 611.6 303.8 613.8 305.7 616 307.6 618.3 309.5 620.5 311.4 622.7 313.3 625 315.2 627.2 317.2 629.4 319.1 631.7 321 634 322.9 636.3 324.8 638.5 326.7 640.7 328.6 642.9 330.5 644.9 332.4 647 334.3 649 336.2 650.9 338.1 652.8 340 654.7 341.9 656.6 343.8 658.3 345.7 660.1 347.6 661.8 349.5 663.4 351.4 664.8 353.3 666.1 355.3 667.2 357.2 667.7 359.1 667.2 361 666.3 362.9 665.4 364.8 664.4 366.7 663.3 368.6 662 370.5 660.6 372.4 658.9 374.3 657.1 376.2 655.3 378.1 653.6 380 651.9 381.9 650.3 383.8 648.6 385.7 647 387.6 645.4 389.5 643.9 391.4 642.3 393.4 640.7 395.3 639.2 397.2 637.7 399.1 636.2 401 634.7 402.9 633.2 404.8 631.7 406.7 630.3 408.6 628.8 410.5 627.4 410.5 628.3 408.6 629.7 406.7 631.2 404.8 632.6 402.9 634.1 401 635.6 399.1 637.1 397.2 638.6 395.3 640.1 393.4 641.7 391.4 643.2 389.5 644.8 387.6 646.4 385.7 648 383.8 649.6 381.9 651.3 380 652.9 378.1 654.6 376.2 656.4 374.3 658.2 372.4 660 370.5 661.6 368.6 663.1 366.7 664.4 364.8 665.5 362.9 666.5 361 667.4 359.1 668.3 357.2 668.8 355.3 668.4 353.3 667.2 351.4 665.9 349.5 664.4 347.6 662.8 345.7 661 343.8 659.3 341.9 657.5 340 655.6 338.1 653.8 336.2 651.8 334.3 649.8 332.4 647.8 330.5 645.8 328.6 643.7 326.7 641.5 324.8 639.3 322.9 637.1 321 634.8 319.1 632.5 317.2 630.2 315.2 628 313.3 625.7 311.4 623.5 309.5 621.3 307.6 619 305.7 616.8 303.8 614.6 301.9 612.3 300 610.1 298.1 607.9 296.2 605.6 294.3 603.3 292.4 601 290.5 598.8 288.6 596.5 286.7 594.3 284.8 592.2 282.9 590.2 281 588.3 279.1 586.4 277.1 584.5 275.2 582.8 273.3 581.1 271.4 579.5 269.5 577.9 267.6 576.4 265.7 575.1 263.8 574 261.9 573 260 572.4 258 572.4 175.4 572.4 92.9 572.4Z" fill="#b00000"/></g>
<path d="M92.5 411.9V689.5H410.5" fill="none" stroke="#3a3a3a" stroke-width="1"/>
<path d="M92.5 412.1H410.5" fill="none" stroke="#555" stroke-width="0.8"/>
<path d="M410.3 412.3V689.3" fill="none" stroke="#7d9aa5" stroke-width="0.6" opacity="0.7"/>
<path d="M154 689.3v-3.2M154 412.3v3M215.1 689.3v-3.2M215.1 412.3v3M276.1 689.3v-3.2M276.1 412.3v3M337.2 689.3v-3.2M337.2 412.3v3M398.3 689.3v-3.2M398.3 412.3v3M92.9 643h3.2M92.9 596.9h3.2M92.9 550.8h3.2M92.9 504.7h3.2M92.9 458.6h3.2" fill="none" stroke="#3a3a3a" stroke-width="0.9"/>
<defs><linearGradient id="cbg" x1="0" y1="0" x2="0" y2="1"><stop offset="0" stop-color="#800000"/><stop offset="0.125" stop-color="#ff0000"/><stop offset="0.375" stop-color="#ffff00"/><stop offset="0.625" stop-color="#00ffff"/><stop offset="0.875" stop-color="#0000ff"/><stop offset="1" stop-color="#000080"/></linearGradient></defs>
<rect x="421.1" y="412.1" width="23.2" height="277.4" fill="url(#cbg)" stroke="#40301c" stroke-width="0.7"/>
<path d="M444.3 669.7h-3M444.3 630.1h-3M444.3 590.4h-3M444.3 550.8h-3M444.3 511.2h-3M444.3 471.5h-3M444.3 431.9h-3" fill="none" stroke="#40301c" stroke-width="0.8"/>
<g font-size="18.5" fill="#141414" stroke="#141414">
<text x="450.4" y="676">-4</text>
<text x="450.4" y="636.4">-3</text>
<text x="450.4" y="596.7">-2</text>
<text x="450.4" y="557.1">-1</text>
<text x="450.4" y="517.5">0</text>
<text x="450.4" y="477.8">1</text>
<text x="450.4" y="438.2">2</text>
</g>
<g font-size="19.5" text-anchor="end" fill="#141414" stroke="#141414">
<text x="85.3" y="696.7">0</text>
<text x="85.3" y="650.6">50</text>
<text x="85.3" y="604.5">100</text>
<text x="85.3" y="558.4">150</text>
<text x="85.3" y="512.3">200</text>
<text x="85.3" y="466.2">250</text>
<text x="85.3" y="420.1">300</text>
</g>
<g font-size="19.5" text-anchor="middle" fill="#141414" stroke="#141414">
<text x="92.9" y="715.2">0</text>
<text x="154" y="715.2">1</text>
<text x="215.1" y="715.2">2</text>
<text x="276.1" y="715.2">3</text>
<text x="337.2" y="715.2">4</text>
<text x="398.3" y="715.2">5</text>
</g>
<text x="252.2" y="741.2" font-size="22.4" text-anchor="middle" fill="#141414" stroke="#141414">Time (ns)</text>
<text x="252" y="784.5" font-size="29" text-anchor="middle" fill="#141414" stroke="#141414">(b)</text>
<text transform="translate(48.4 551.3) rotate(-90)" font-size="22.8" text-anchor="middle" fill="#141414" stroke="#141414">Radius (<tspan font-style="italic">μ</tspan>m)</text>
<text x="293.4" y="442" font-size="20.8" fill="#141414" stroke="#141414">log<tspan font-size="16.5" dy="11.2">10</tspan><tspan dy="-11.2" font-size="20.8" font-style="italic">ρ</tspan>(g/cc)</text>
</g>
</svg>
</body></html>
